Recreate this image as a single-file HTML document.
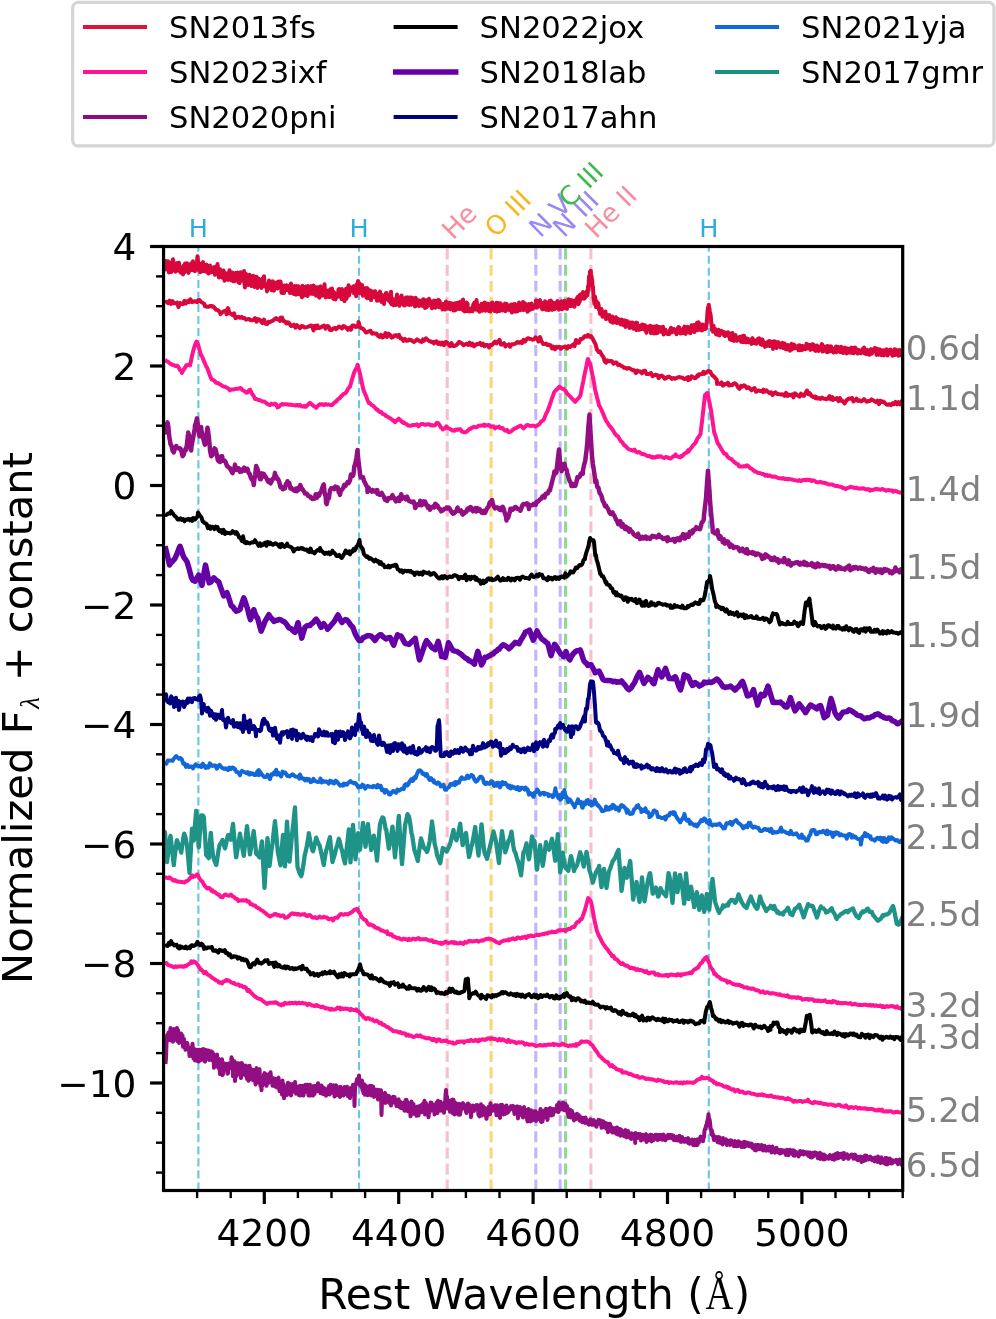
<!DOCTYPE html>
<html lang="en"><head><meta charset="utf-8"><title>Early-time SN spectra</title>
<style>html,body{margin:0;padding:0;background:#fff}svg{display:block}text{font-family:"DejaVu Sans","Liberation Sans",sans-serif;fill:#000}.tk{font-size:37.5px}.lb{font-size:42.2px}.lg{font-size:30.6px}.ep{font-size:34px;fill:#808080}.an{font-size:26.4px}.anh{font-size:25.5px}.sp{stroke:#000;stroke-width:3.2;fill:none}.c{fill:none;stroke-linejoin:round;stroke-linecap:butt}</style></head><body>
<svg width="996" height="1319" viewBox="0 0 996 1319">
<rect width="996" height="1319" fill="#fff"/>
<g fill="none">
<line x1="198.4" y1="1190.5" x2="198.4" y2="246.5" stroke="#69C6E7" stroke-width="2.15" stroke-dasharray="8.1 3.935"/>
<line x1="359.0" y1="1190.5" x2="359.0" y2="246.5" stroke="#69C6E7" stroke-width="2.15" stroke-dasharray="8.1 3.935"/>
<line x1="708.8" y1="1190.5" x2="708.8" y2="246.5" stroke="#69C6E7" stroke-width="2.15" stroke-dasharray="8.1 3.935"/>
<line x1="447.2" y1="1190.5" x2="447.2" y2="246.5" stroke="#F9BFCB" stroke-width="3.1" stroke-dasharray="11.0 5.05"/>
<line x1="491.1" y1="1190.5" x2="491.1" y2="246.5" stroke="#F9D67C" stroke-width="3.1" stroke-dasharray="11.0 5.05"/>
<line x1="535.8" y1="1190.5" x2="535.8" y2="246.5" stroke="#C4B5F8" stroke-width="3.1" stroke-dasharray="11.0 5.05"/>
<line x1="560.2" y1="1190.5" x2="560.2" y2="246.5" stroke="#C4B5F8" stroke-width="3.1" stroke-dasharray="11.0 5.05"/>
<line x1="565.6" y1="1190.5" x2="565.6" y2="246.5" stroke="#8DD896" stroke-width="3.1" stroke-dasharray="11.0 5.05"/>
<line x1="590.9" y1="1190.5" x2="590.9" y2="246.5" stroke="#F9BFCB" stroke-width="3.1" stroke-dasharray="11.0 5.05"/>
</g>
<defs><clipPath id="cp"><rect x="163.55" y="246.5" width="739.1500000000001" height="944.0"/></clipPath></defs>
<g clip-path="url(#cp)">
<path class="c" d="M165.0,262.9 165.5,261.0 166.0,266.2 166.5,269.6 167.0,266.0 167.5,266.8 168.0,261.2 168.5,266.9 169.0,272.5 169.5,271.4 170.0,271.3 170.5,262.6 171.0,272.1 171.5,271.7 172.0,263.4 172.5,269.1 173.0,259.2 173.5,263.0 174.0,265.4 174.5,263.6 175.0,270.9 175.5,271.6 176.0,266.0 176.5,265.7 177.0,263.3 177.5,263.0 178.0,270.6 178.5,269.8 179.0,262.8 179.5,268.0 180.0,267.1 180.5,272.5 181.0,271.0 181.5,269.6 182.0,269.1 182.5,273.9 183.0,274.4 183.5,265.8 184.0,265.5 184.5,272.3 185.0,263.5 185.5,267.0 186.0,263.4 186.5,266.3 187.0,263.2 187.5,265.7 188.0,271.6 188.5,272.9 189.0,271.5 189.5,268.6 190.0,269.1 190.5,266.0 191.0,263.6 191.5,266.7 192.0,270.1 192.5,262.0 193.0,261.4 193.5,270.3 193.8,263.5 194.0,269.2 194.5,269.1 195.0,271.1 195.5,264.2 196.0,263.3 196.5,265.2 197.0,261.2 197.5,256.3 198.0,261.7 198.5,263.2 199.0,270.5 199.5,263.6 200.0,270.3 200.5,272.1 201.0,265.2 201.2,268.8 201.5,265.9 202.0,267.2 202.5,262.7 203.0,262.1 203.5,271.1 204.0,267.5 204.5,269.6 205.0,271.1 205.5,267.4 206.0,266.9 206.5,264.6 207.0,272.2 207.5,272.7 208.0,271.7 208.5,273.5 209.0,271.6 209.5,271.5 210.0,265.6 210.5,272.6 211.0,267.5 211.5,268.9 212.0,267.6 212.5,270.8 213.0,272.0 213.5,271.1 214.0,267.2 214.5,267.1 215.0,274.8 215.5,268.4 216.0,270.2 216.5,266.2 217.0,268.8 217.5,264.1 218.0,269.6 218.5,274.1 219.0,277.5 219.5,273.4 220.0,269.3 220.5,274.1 221.0,273.9 221.5,276.4 222.0,273.0 222.5,277.7 223.0,271.9 223.5,270.5 224.0,273.4 224.5,280.7 225.0,276.1 225.5,273.5 226.0,273.7 226.5,275.7 227.0,273.4 227.5,274.8 228.0,279.9 228.5,279.6 229.0,278.7 229.5,270.2 230.0,275.5 230.5,273.4 231.0,280.1 231.5,273.0 232.0,280.6 232.5,272.4 233.0,274.7 233.5,281.3 234.0,277.1 234.5,281.3 235.0,276.7 235.5,273.1 236.0,279.1 236.5,276.9 237.0,276.9 237.5,272.6 238.0,272.8 238.5,282.4 239.0,282.8 239.5,283.1 240.0,275.9 240.5,272.3 241.0,278.5 241.5,280.8 242.0,279.9 242.5,272.9 243.0,275.2 243.5,281.0 244.0,270.9 244.5,283.0 245.0,287.5 245.5,274.7 246.0,273.9 246.5,285.1 247.0,282.7 247.5,279.1 248.0,279.5 248.5,284.9 249.0,278.3 249.5,274.8 250.0,281.7 250.5,278.2 251.0,282.7 251.5,286.1 252.0,279.2 252.5,277.9 253.0,275.7 253.5,285.2 254.0,276.3 254.5,286.9 255.0,284.1 255.5,286.7 256.0,285.7 256.5,276.7 257.0,278.3 257.5,287.9 258.0,280.0 258.5,286.1 259.0,278.8 259.5,280.5 260.0,285.1 260.5,280.1 261.0,286.2 261.5,287.9 262.0,281.2 262.5,281.1 263.0,277.9 263.5,282.8 264.0,276.2 264.5,284.8 265.0,286.3 265.5,284.9 266.0,285.4 266.5,285.5 267.0,291.4 267.5,284.9 268.0,288.9 268.5,282.9 269.0,280.5 269.5,281.6 270.0,288.5 270.5,281.9 271.0,288.5 271.5,290.1 272.0,285.9 272.5,281.2 273.0,287.1 273.5,284.3 274.0,290.7 274.5,282.6 275.0,282.8 275.5,285.9 276.0,286.1 276.5,282.6 277.0,284.9 277.5,288.5 278.0,286.2 278.5,281.4 279.0,285.8 279.5,285.9 280.0,286.4 280.5,281.4 281.0,284.5 281.5,292.7 282.0,292.0 282.5,292.8 283.0,290.7 283.5,286.9 284.0,293.1 284.5,285.5 285.0,289.6 285.5,289.2 286.0,287.5 286.5,285.3 287.0,286.4 287.5,290.3 288.0,286.1 288.5,286.9 289.0,287.1 289.5,286.9 290.0,293.0 290.5,289.7 291.0,283.5 291.5,292.3 292.0,289.6 292.5,293.0 293.0,289.7 293.5,286.6 294.0,294.0 294.5,286.1 295.0,287.5 295.5,290.1 296.0,294.7 296.5,285.9 297.0,288.7 297.5,291.1 298.0,293.0 298.5,286.2 299.0,294.1 299.5,291.8 300.0,291.5 300.5,289.8 301.0,289.1 301.5,296.0 302.0,297.3 302.5,285.7 303.0,288.0 303.5,293.4 304.0,294.6 304.5,295.4 305.0,288.1 305.5,288.1 306.0,286.5 306.5,290.1 307.0,292.4 307.5,296.1 308.0,286.1 308.5,286.8 309.0,293.6 309.5,293.8 310.0,287.3 310.5,287.0 311.0,286.2 311.5,293.7 312.0,289.3 312.5,288.8 313.0,293.9 313.5,285.4 314.0,292.5 314.5,287.1 315.0,286.9 315.5,294.1 316.0,295.6 316.5,291.7 317.0,291.0 317.5,294.6 318.0,287.2 318.5,289.6 319.0,297.2 319.5,297.7 320.0,286.8 320.5,286.4 321.0,295.6 321.5,291.9 322.0,295.6 322.5,294.2 323.0,291.9 323.5,295.1 324.0,293.9 324.5,284.3 325.0,292.3 325.5,297.4 326.0,296.2 326.5,294.8 327.0,294.4 327.5,296.8 328.0,290.5 328.5,291.8 329.0,294.7 329.5,297.1 330.0,291.1 330.5,289.3 331.0,289.4 331.5,292.3 332.0,288.6 332.5,295.0 333.0,298.3 333.5,291.7 334.0,299.1 334.5,292.7 335.0,294.2 335.5,299.5 336.0,296.4 336.5,294.0 337.0,297.0 337.5,293.7 338.0,296.7 338.5,289.3 339.0,289.1 339.5,295.9 340.0,294.5 340.5,293.7 341.0,289.4 341.5,299.1 342.0,289.1 342.5,299.2 343.0,291.3 343.5,290.8 344.0,298.5 344.5,301.1 345.0,295.4 345.5,298.3 346.0,288.8 346.5,298.8 347.0,293.9 347.5,289.9 348.0,293.9 348.5,285.3 349.0,295.5 349.5,293.6 350.0,287.0 350.5,288.2 351.0,288.9 351.5,290.9 352.0,287.8 352.5,288.4 353.0,291.3 353.5,286.3 354.0,293.3 354.5,289.5 355.0,288.8 355.5,290.7 356.0,285.5 356.2,296.3 356.5,284.5 357.0,288.9 357.5,293.1 358.0,281.0 358.5,285.5 358.8,290.3 359.0,288.9 359.5,283.2 360.0,288.5 360.2,293.3 360.5,289.9 361.0,293.5 361.5,293.2 362.0,284.9 362.5,288.9 363.0,295.8 363.5,291.0 364.0,290.9 364.5,289.6 365.0,288.2 365.5,294.6 366.0,291.6 366.5,297.7 367.0,288.0 367.5,298.2 368.0,289.0 368.5,297.9 369.0,293.7 369.5,297.2 370.0,293.9 370.5,290.5 371.0,300.1 371.5,296.6 372.0,291.6 372.5,296.3 373.0,291.8 373.5,294.3 374.0,296.7 374.5,297.1 375.0,291.2 375.5,292.3 376.0,295.7 376.5,296.5 377.0,300.8 377.5,297.5 378.0,300.5 378.5,295.3 379.0,293.3 379.5,293.3 380.0,291.6 380.5,295.8 381.0,299.2 381.5,301.9 382.0,294.7 382.5,300.5 383.0,301.2 383.5,300.6 384.0,304.0 384.5,299.6 385.0,298.1 385.5,299.3 386.0,292.9 386.5,293.0 387.0,298.9 387.5,297.6 388.0,294.7 388.5,297.4 389.0,300.9 389.5,299.6 390.0,298.1 390.5,302.7 391.0,291.7 391.5,304.2 392.0,301.8 392.5,298.7 393.0,303.1 393.5,305.1 394.0,301.7 394.5,302.0 395.0,302.4 395.5,305.1 396.0,304.8 396.5,297.5 397.0,294.5 397.5,297.6 398.0,298.7 398.5,297.4 399.0,299.8 399.5,305.8 400.0,297.6 400.5,299.5 401.0,304.0 401.5,295.6 402.0,299.4 402.5,301.4 403.0,303.6 403.5,304.6 404.0,298.7 404.5,305.6 405.0,300.6 405.5,297.7 406.0,298.0 406.5,300.8 407.0,304.6 407.5,297.3 408.0,298.9 408.5,304.6 409.0,304.9 409.5,298.9 410.0,297.5 410.5,303.4 411.0,304.8 411.5,297.5 412.0,302.2 412.5,298.5 413.0,303.1 413.5,298.3 414.0,298.5 414.5,302.6 415.0,306.6 415.5,297.7 416.0,298.4 416.5,299.4 417.0,305.5 417.5,299.9 418.0,300.2 418.5,301.8 419.0,306.0 419.5,300.4 420.0,302.4 420.5,302.4 421.0,302.7 421.5,302.2 422.0,305.8 422.5,299.9 423.0,302.9 423.5,299.3 424.0,306.6 424.5,301.9 425.0,307.9 425.5,304.7 426.0,300.2 426.5,307.3 427.0,300.3 427.5,304.6 428.0,305.9 428.5,299.4 429.0,298.9 429.5,302.7 430.0,302.0 430.5,301.7 431.0,301.3 431.5,302.2 432.0,308.3 432.5,303.2 433.0,303.3 433.5,301.3 434.0,300.7 434.5,301.4 435.0,307.6 435.5,307.7 436.0,300.7 436.5,303.0 437.0,304.8 437.5,304.6 438.0,301.2 438.5,299.9 439.0,307.2 439.5,300.7 440.0,303.3 440.5,307.0 441.0,306.3 441.5,303.6 442.0,307.5 442.5,309.4 443.0,304.5 443.5,308.5 444.0,305.0 444.5,303.7 445.0,309.6 445.5,308.8 446.0,301.4 446.5,305.4 447.0,303.9 447.5,305.1 448.0,308.8 448.5,303.6 449.0,306.2 449.5,302.7 450.0,304.8 450.5,309.2 451.0,307.8 451.5,304.2 452.0,303.4 452.5,306.6 453.0,305.4 453.5,310.5 454.0,303.8 454.5,309.9 455.0,303.2 455.5,310.2 456.0,309.5 456.5,303.0 457.0,305.5 457.5,308.2 458.0,305.3 458.5,302.4 459.0,308.9 459.5,306.1 460.0,303.2 460.5,301.9 461.0,306.5 461.5,303.4 462.0,309.4 462.5,303.0 463.0,299.5 463.5,310.4 464.0,305.6 464.5,311.4 465.0,307.1 465.5,310.2 466.0,310.8 466.5,302.4 467.0,304.3 467.5,303.4 468.0,311.0 468.5,308.4 469.0,310.7 469.5,311.3 470.0,309.4 470.5,310.3 471.0,310.9 471.5,308.2 472.0,309.8 472.5,311.3 473.0,306.4 473.5,303.9 474.0,308.3 474.5,302.4 475.0,304.9 475.5,305.5 476.0,309.7 476.5,300.0 477.0,305.0 477.5,304.9 478.0,308.4 478.5,310.5 479.0,306.6 479.5,311.8 480.0,306.1 480.5,306.9 481.0,305.2 481.5,303.9 482.0,310.8 482.5,308.0 483.0,303.7 483.5,307.4 484.0,306.1 484.5,302.5 485.0,309.8 485.5,310.7 486.0,308.1 486.5,303.6 487.0,306.3 487.5,304.2 488.0,303.9 488.5,305.2 489.0,311.1 489.5,310.6 490.0,310.1 490.5,311.5 491.0,303.4 491.5,304.5 492.0,302.8 492.5,302.5 493.0,308.7 493.5,306.5 494.0,308.0 494.5,311.0 495.0,305.3 495.5,305.0 496.0,310.6 496.5,302.8 497.0,311.7 497.5,306.0 498.0,303.0 498.5,304.8 499.0,303.5 499.5,311.0 500.0,303.3 500.5,303.3 501.0,308.8 501.5,304.9 502.0,306.1 502.5,310.5 503.0,307.0 503.5,310.0 504.0,305.7 504.5,304.2 505.0,303.6 505.5,311.2 506.0,304.2 506.5,303.8 507.0,304.6 507.5,308.2 508.0,309.8 508.5,307.9 509.0,309.2 509.5,307.9 510.0,310.3 510.5,308.9 511.0,304.6 511.5,306.1 512.0,312.5 512.5,307.1 513.0,310.1 513.5,304.3 514.0,309.2 514.5,310.3 515.0,304.1 515.5,311.7 516.0,306.3 516.5,305.1 517.0,308.9 517.5,311.3 518.0,310.4 518.5,307.7 519.0,302.6 519.5,306.8 520.0,308.1 520.5,310.1 521.0,303.9 521.5,306.4 522.0,308.0 522.5,308.4 523.0,302.0 523.5,310.1 524.0,302.5 524.5,309.7 525.0,309.7 525.5,307.6 526.0,306.3 526.5,304.4 527.0,304.7 527.5,311.7 528.0,307.1 528.5,305.1 529.0,304.0 529.5,310.2 530.0,309.5 530.5,309.3 531.0,309.2 531.5,303.5 532.0,308.1 532.5,306.6 533.0,308.7 533.5,306.9 534.0,307.8 534.5,307.5 535.0,305.7 535.5,306.5 536.0,300.5 536.5,303.5 537.0,307.7 537.5,300.7 538.0,303.1 538.5,306.0 539.0,304.3 539.5,300.7 540.0,300.2 540.5,306.6 541.0,305.4 541.5,305.9 542.0,309.0 542.5,309.3 543.0,303.1 543.5,308.9 544.0,305.4 544.5,307.2 545.0,301.3 545.5,304.3 546.0,309.7 546.5,309.6 547.0,304.5 547.5,302.9 548.0,309.9 548.5,305.5 549.0,309.9 549.5,300.9 550.0,306.4 550.5,303.4 551.0,300.6 551.5,305.4 552.0,309.9 552.5,305.1 553.0,302.7 553.5,307.5 554.0,309.2 554.5,309.2 555.0,303.1 555.5,308.2 556.0,308.2 556.5,305.1 557.0,308.0 557.5,301.0 558.0,302.6 558.5,304.4 559.0,309.7 559.5,307.4 560.0,307.2 560.5,308.7 561.0,307.7 561.5,301.2 562.0,309.3 562.5,308.1 563.0,302.7 563.5,306.4 564.0,305.0 564.5,300.7 565.0,308.2 565.5,303.5 566.0,306.2 566.5,307.9 567.0,308.8 567.5,304.7 568.0,303.8 568.5,299.3 569.0,300.2 569.5,306.1 570.0,300.6 570.5,303.8 571.0,300.1 571.5,306.1 572.0,300.3 572.5,305.6 573.0,302.3 573.5,305.1 574.0,301.1 574.5,306.7 575.0,301.9 575.5,300.6 576.0,300.4 576.5,299.0 577.0,302.3 577.5,297.1 578.0,296.6 578.5,304.2 579.0,296.5 579.5,302.1 580.0,294.7 580.5,299.8 581.0,294.3 581.5,296.4 582.0,295.9 582.5,298.3 583.0,292.0 583.5,294.4 584.0,298.8 584.5,298.2 585.0,298.0 585.5,295.3 586.0,296.5 586.5,292.8 587.0,291.0 587.5,295.3 587.8,291.0 588.0,286.3 588.5,290.2 589.0,276.4 589.5,280.1 590.0,271.4 590.5,274.6 590.8,270.7 591.0,275.6 591.5,275.8 592.0,281.6 592.2,280.0 592.5,286.5 593.0,286.7 593.5,297.6 594.0,300.2 594.5,304.0 595.0,296.5 595.5,300.8 596.0,307.2 596.5,301.1 597.0,305.9 597.5,305.8 598.0,302.9 598.5,304.4 599.0,309.9 599.5,309.2 600.0,313.9 600.5,309.8 601.0,308.9 601.5,309.0 602.0,311.7 602.5,316.7 603.0,316.4 603.5,313.9 604.0,314.2 604.5,315.4 605.0,316.7 605.5,311.6 606.0,319.1 606.5,319.0 607.0,316.0 607.5,314.9 608.0,317.6 608.5,317.6 609.0,316.5 609.5,315.2 610.0,320.1 610.5,321.6 611.0,319.8 611.5,317.1 612.0,318.5 612.5,316.6 613.0,322.8 613.5,317.4 614.0,317.9 614.5,320.9 615.0,321.8 615.5,319.7 616.0,317.3 616.5,319.7 617.0,323.1 617.5,319.0 618.0,320.1 618.5,319.2 619.0,319.7 619.5,320.0 620.0,321.3 620.5,324.3 621.0,324.4 621.5,319.4 622.0,320.0 622.5,321.0 623.0,323.8 623.5,325.2 624.0,324.5 624.5,320.4 625.0,320.6 625.5,326.9 626.0,323.8 626.5,325.3 627.0,321.0 627.5,324.4 628.0,321.9 628.5,323.6 629.0,323.3 629.5,328.1 630.0,322.4 630.5,326.1 631.0,322.7 631.5,325.2 632.0,327.4 632.5,322.5 633.0,323.8 633.5,328.7 634.0,327.6 634.5,328.2 635.0,326.1 635.5,324.4 636.0,322.7 636.5,330.0 637.0,322.8 637.5,329.5 638.0,329.6 638.5,329.9 639.0,328.7 639.5,327.9 640.0,325.9 640.5,329.6 641.0,327.7 641.5,327.3 642.0,324.5 642.5,324.5 643.0,329.1 643.5,325.0 644.0,329.6 644.5,327.6 645.0,325.3 645.5,328.9 646.0,330.9 646.5,332.7 647.0,326.8 647.5,328.0 648.0,328.8 648.5,328.9 649.0,326.9 649.5,327.7 650.0,325.8 650.5,329.8 651.0,333.2 651.5,326.3 652.0,331.1 652.5,329.6 653.0,328.1 653.5,328.2 654.0,333.5 654.5,326.5 655.0,330.7 655.5,330.0 656.0,333.3 656.5,327.5 657.0,326.1 657.5,333.0 658.0,328.6 658.5,329.0 659.0,327.0 659.5,327.9 660.0,328.0 660.5,331.7 661.0,327.3 661.5,327.8 662.0,329.2 662.5,329.6 663.0,326.8 663.5,334.4 664.0,333.2 664.5,332.8 665.0,332.2 665.5,329.8 666.0,332.0 666.5,333.4 667.0,332.5 667.5,333.9 668.0,333.1 668.5,332.7 669.0,334.2 669.5,333.3 670.0,329.7 670.5,331.1 671.0,327.8 671.5,330.5 672.0,332.3 672.5,328.9 673.0,331.9 673.5,329.9 674.0,329.0 674.5,330.0 675.0,331.8 675.5,330.8 676.0,330.6 676.5,334.2 677.0,332.1 677.5,331.6 678.0,327.8 678.5,327.0 679.0,329.7 679.5,327.7 680.0,332.4 680.5,333.5 681.0,333.3 681.5,330.1 682.0,333.2 682.5,333.0 683.0,330.6 683.5,331.2 684.0,327.8 684.5,326.5 685.0,333.6 685.5,333.9 686.0,330.2 686.5,330.8 687.0,332.4 687.5,326.8 688.0,331.8 688.5,332.3 689.0,327.7 689.5,330.2 690.0,332.0 690.5,333.1 691.0,328.7 691.5,325.3 692.0,331.0 692.5,330.0 693.0,328.9 693.5,328.0 694.0,325.0 694.5,332.1 695.0,327.7 695.5,324.9 696.0,325.2 696.5,329.0 697.0,322.8 697.5,330.2 698.0,329.9 698.5,322.2 699.0,329.0 699.5,326.2 700.0,326.2 700.5,329.9 701.0,324.5 701.5,326.8 702.0,330.5 702.5,324.5 703.0,328.0 703.5,325.6 704.0,325.3 704.5,326.0 705.0,329.2 705.5,326.2 706.0,328.5 706.5,324.6 707.0,319.3 707.5,311.6 708.0,307.3 708.5,309.1 708.8,304.7 709.0,307.3 709.5,308.7 710.0,314.7 710.2,312.9 710.5,314.3 711.0,318.5 711.5,325.2 711.8,327.7 712.0,330.1 712.5,328.1 713.0,331.7 713.5,325.8 714.0,330.0 714.5,329.2 715.0,328.8 715.5,330.4 716.0,334.3 716.5,330.6 717.0,334.7 717.5,332.3 718.0,331.8 718.5,329.8 719.0,330.0 719.5,335.5 720.0,330.7 720.5,331.9 721.0,332.6 721.5,330.7 722.0,331.8 722.5,332.1 723.0,333.7 723.5,331.9 724.0,335.2 724.5,334.4 725.0,336.1 725.5,333.0 726.0,332.6 726.5,335.0 727.0,334.5 727.5,334.5 728.0,332.3 728.5,336.0 729.0,335.3 729.5,335.5 730.0,339.4 730.5,333.6 731.0,334.7 731.5,340.1 732.0,336.1 732.5,333.0 733.0,335.7 733.5,334.7 734.0,340.9 734.5,336.4 735.0,335.5 735.5,335.2 736.0,340.1 736.5,338.4 737.0,340.8 737.5,337.4 738.0,337.7 738.5,338.5 739.0,339.7 739.5,338.6 740.0,336.9 740.5,339.0 741.0,341.7 741.5,339.2 742.0,338.4 742.5,336.0 743.0,342.3 743.5,335.8 744.0,335.8 744.5,337.6 745.0,342.2 745.5,338.3 746.0,342.3 746.5,342.0 747.0,338.6 747.5,340.1 748.0,338.9 748.5,342.3 749.0,341.8 749.5,341.2 750.0,340.8 750.5,341.0 751.0,341.6 751.5,343.9 752.0,338.9 752.5,338.1 753.0,339.4 753.5,342.5 754.0,343.1 754.5,340.1 755.0,341.2 755.5,342.9 756.0,342.8 756.5,343.7 757.0,341.3 757.5,342.3 758.0,338.7 758.5,341.6 759.0,338.2 759.5,341.2 760.0,339.0 760.5,344.3 761.0,344.1 761.5,342.6 762.0,344.9 762.5,339.6 763.0,343.6 763.5,341.8 764.0,343.9 764.5,344.4 765.0,346.9 765.5,345.8 766.0,343.1 766.5,345.8 767.0,342.3 767.5,344.7 768.0,343.5 768.5,345.8 769.0,341.1 769.5,345.3 770.0,346.0 770.5,345.3 771.0,341.6 771.5,344.9 772.0,346.3 772.5,341.9 773.0,348.9 773.5,343.1 774.0,341.2 774.5,345.5 775.0,341.4 775.5,345.4 776.0,344.4 776.5,348.0 777.0,343.0 777.5,345.0 778.0,342.0 778.5,344.9 779.0,346.4 779.5,343.3 780.0,344.6 780.5,347.4 781.0,345.3 781.5,344.2 782.0,343.7 782.5,342.9 783.0,348.1 783.5,346.0 784.0,344.9 784.5,343.5 785.0,347.8 785.5,348.9 786.0,345.2 786.5,345.9 787.0,349.6 787.5,345.0 788.0,345.7 788.5,345.9 789.0,347.2 789.5,345.5 790.0,350.8 790.5,348.5 791.0,344.5 791.5,343.8 792.0,349.4 792.5,348.4 793.0,345.8 793.5,347.9 794.0,344.6 794.5,345.8 795.0,348.3 795.5,347.2 796.0,347.7 796.5,347.3 797.0,346.4 797.5,346.8 798.0,348.3 798.5,350.3 799.0,345.2 799.5,350.1 800.0,345.8 800.5,347.3 801.0,345.8 801.5,350.3 802.0,348.5 802.5,346.0 803.0,349.5 803.5,347.9 804.0,347.6 804.5,346.7 805.0,346.9 805.5,349.2 806.0,345.4 806.5,343.9 807.0,348.5 807.5,346.3 808.0,345.7 808.5,345.5 809.0,344.8 809.5,347.0 810.0,348.8 810.5,349.8 811.0,346.5 811.5,344.8 812.0,345.9 812.5,344.2 813.0,347.2 813.5,344.8 814.0,349.7 814.5,348.5 815.0,349.9 815.5,350.9 816.0,350.8 816.5,346.8 817.0,345.6 817.5,347.4 818.0,350.8 818.5,350.9 819.0,349.2 819.5,347.4 820.0,349.0 820.5,346.8 821.0,345.9 821.5,345.3 822.0,344.0 822.5,351.5 823.0,349.2 823.5,348.0 824.0,350.9 824.5,349.4 825.0,346.4 825.5,350.9 826.0,348.5 826.5,349.8 827.0,352.2 827.5,346.0 828.0,352.1 828.5,347.0 829.0,346.5 829.5,347.5 830.0,351.3 830.5,348.0 831.0,346.3 831.5,351.1 832.0,350.3 832.5,351.1 833.0,351.2 833.5,352.5 834.0,348.4 834.5,351.9 835.0,349.3 835.5,349.5 836.0,346.5 836.5,352.3 837.0,350.6 837.5,349.0 838.0,346.8 838.5,347.4 839.0,348.4 839.5,350.8 840.0,351.9 840.5,349.0 841.0,348.5 841.5,346.9 842.0,352.4 842.5,348.0 843.0,353.1 843.5,351.4 844.0,349.0 844.5,348.2 845.0,347.6 845.5,348.1 846.0,352.0 846.5,353.4 847.0,351.2 847.5,348.5 848.0,352.2 848.5,351.4 849.0,352.6 849.5,350.5 850.0,352.4 850.5,348.2 851.0,348.3 851.5,347.6 852.0,353.0 852.5,350.5 853.0,348.0 853.5,353.3 854.0,350.5 854.5,348.3 855.0,347.6 855.5,347.8 856.0,351.1 856.5,349.4 857.0,353.0 857.5,353.4 858.0,351.1 858.5,349.8 859.0,352.5 859.5,353.0 860.0,350.7 860.5,352.1 861.0,353.1 861.5,350.2 862.0,351.4 862.5,349.1 863.0,350.7 863.5,349.6 864.0,347.5 864.5,353.3 865.0,352.1 865.5,352.2 866.0,354.0 866.5,353.5 867.0,350.8 867.5,349.9 868.0,351.6 868.5,354.0 869.0,354.6 869.5,354.7 870.0,351.0 870.5,352.1 871.0,349.1 871.5,351.3 872.0,353.6 872.5,349.5 873.0,349.3 873.5,350.7 874.0,349.7 874.5,349.7 875.0,347.9 875.5,351.2 876.0,349.7 876.5,354.9 877.0,348.8 877.5,348.9 878.0,350.5 878.5,354.7 879.0,354.6 879.5,350.7 880.0,349.3 880.5,354.0 881.0,350.8 881.5,355.2 882.0,351.8 882.5,352.2 883.0,350.3 883.5,354.6 884.0,355.3 884.5,354.7 885.0,354.3 885.5,351.8 886.0,349.6 886.5,349.3 887.0,352.8 887.5,355.5 888.0,350.3 888.5,351.7 889.0,352.0 889.5,353.6 890.0,349.6 890.5,349.5 891.0,350.3 891.5,352.8 892.0,352.0 892.5,355.7 893.0,352.7 893.5,355.1 894.0,350.4 894.5,349.2 895.0,354.9 895.5,352.2 896.0,349.8 896.5,353.0 897.0,353.0 897.5,350.9 898.0,355.1 898.5,355.7 899.0,352.2 899.5,349.9 900.0,351.1 900.5,355.2 901.0,351.6 901.5,353.1 901.8,350.2 902.0,353.1 902.5,355.8 903.0,355.2 903.5,351.8 904.0,350.8 904.2,353.0" stroke="#D8083C" stroke-width="4"/>
<path class="c" d="M165.0,303.1 166.5,301.8 168.0,303.1 169.5,300.7 171.0,303.9 172.5,301.2 174.0,303.3 175.5,303.2 177.0,302.5 178.5,307.2 180.0,303.0 181.5,303.9 183.0,304.1 184.5,300.8 186.0,303.5 187.5,301.2 189.0,302.1 190.0,299.4 190.5,299.3 192.0,302.2 193.5,301.5 195.0,301.2 196.5,302.0 197.5,301.9 198.0,300.2 199.5,300.0 201.0,301.8 202.5,302.8 204.0,303.5 205.0,306.2 205.5,306.3 207.0,306.7 208.5,306.8 210.0,305.9 211.2,305.9 211.5,306.5 213.0,306.3 214.5,307.7 216.0,309.7 217.5,309.9 219.0,311.1 220.0,312.4 220.5,314.1 222.0,312.5 223.5,311.4 225.0,310.8 226.2,311.1 226.5,314.2 228.0,308.1 229.5,313.4 231.0,313.7 232.5,315.2 234.0,313.3 235.5,318.1 237.0,317.4 238.5,316.8 240.0,317.7 241.5,316.9 243.0,318.1 244.5,318.1 246.0,319.7 247.5,319.2 249.0,318.9 250.5,320.1 252.0,320.2 253.5,320.0 255.0,318.1 256.5,321.6 258.0,319.1 259.5,319.6 261.0,321.1 261.2,321.9 262.5,323.2 264.0,319.5 265.5,323.7 267.0,324.1 268.5,321.7 270.0,322.2 271.5,321.2 273.0,320.6 274.5,319.1 276.0,318.1 277.5,319.4 279.0,319.4 280.0,321.0 280.5,317.8 282.0,317.5 283.5,321.3 285.0,321.5 286.5,323.5 287.5,323.3 288.0,322.3 289.5,323.6 291.0,325.9 292.5,325.8 294.0,324.7 295.5,327.6 297.0,325.2 298.5,326.8 300.0,328.2 301.5,326.1 303.0,326.2 304.5,327.6 306.0,327.3 307.5,326.9 309.0,326.4 310.5,325.6 312.0,325.8 313.5,330.5 315.0,325.7 316.5,328.2 317.5,325.5 318.0,328.0 319.5,328.1 321.0,327.3 322.5,326.2 324.0,325.5 325.5,328.6 327.0,326.0 328.5,326.2 330.0,329.9 331.5,330.1 333.0,328.5 334.5,328.4 335.0,327.9 336.0,329.1 337.5,327.9 339.0,326.5 340.5,327.3 342.0,328.5 343.5,326.1 345.0,326.7 346.5,327.9 348.0,329.8 349.5,327.8 350.0,327.5 351.0,329.6 352.5,325.4 354.0,325.4 355.5,326.9 357.0,326.7 358.2,325.6 358.5,321.9 360.0,327.2 361.5,328.3 363.0,328.7 364.5,330.6 366.0,332.6 367.5,332.1 369.0,331.3 370.5,330.7 372.0,333.6 373.5,333.1 375.0,333.8 376.5,333.6 378.0,335.9 379.5,337.0 380.0,336.8 381.0,334.8 382.5,337.4 384.0,336.6 385.5,333.1 387.0,337.0 388.5,333.7 390.0,334.8 391.5,337.6 393.0,337.1 394.5,335.4 396.0,335.1 397.5,336.7 399.0,334.9 400.5,338.6 402.0,338.6 403.5,340.8 403.8,339.8 405.0,338.9 406.5,340.9 408.0,340.6 409.0,339.5 409.5,339.8 411.0,339.9 412.5,341.1 414.0,342.0 415.5,340.9 417.0,339.3 418.5,340.3 420.0,341.4 421.5,342.0 423.0,339.4 424.0,340.9 424.5,340.1 426.0,338.3 427.5,339.8 429.0,341.0 430.5,341.5 432.0,342.0 433.5,342.1 434.0,343.5 435.0,341.9 436.5,341.2 438.0,343.9 439.5,342.6 441.0,344.4 442.5,342.5 444.0,345.2 445.5,342.1 447.0,342.3 448.5,344.7 450.0,346.2 451.5,343.1 453.0,346.1 454.5,346.1 456.0,345.3 457.5,344.1 459.0,341.8 460.5,342.6 462.0,343.5 463.5,345.2 465.0,344.4 466.5,343.8 468.0,344.8 469.5,342.6 471.0,345.2 472.5,343.6 474.0,346.4 475.5,345.0 477.0,343.9 478.5,344.2 480.0,342.9 481.5,345.2 483.0,343.7 484.0,344.9 484.5,346.3 486.0,345.1 487.5,345.0 489.0,347.5 490.5,344.8 492.0,345.1 493.5,343.2 495.0,341.7 496.5,343.3 498.0,341.8 499.5,339.8 501.0,344.6 502.5,344.6 504.0,343.2 505.5,346.4 507.0,345.0 508.5,344.8 509.0,344.3 510.0,346.8 511.5,344.5 513.0,344.2 514.5,343.9 516.0,343.3 517.5,341.9 519.0,342.8 520.5,341.9 522.0,343.1 523.5,339.9 525.0,341.6 526.5,339.3 528.0,338.2 529.0,338.5 529.5,338.8 531.0,339.0 532.5,339.7 534.0,339.4 535.5,337.3 537.0,338.5 538.5,341.5 539.0,339.3 540.0,337.1 541.5,341.1 543.0,343.9 544.5,344.1 546.0,343.5 546.5,344.0 547.5,345.1 549.0,344.8 550.5,345.1 552.0,348.5 553.5,346.7 555.0,349.3 556.5,346.8 558.0,347.6 559.5,346.9 561.0,348.7 562.5,347.2 564.0,347.0 565.5,346.5 566.5,347.7 567.0,348.6 568.5,346.1 570.0,347.1 571.5,345.8 573.0,344.6 574.0,345.4 574.5,346.2 576.0,340.0 577.5,342.8 579.0,342.8 580.5,339.1 582.0,339.0 583.5,337.9 584.0,336.9 585.0,336.1 586.5,336.7 587.8,335.9 588.0,334.9 589.5,336.8 591.0,336.1 592.5,338.3 592.8,338.9 594.0,341.5 595.5,344.1 597.0,349.9 597.8,350.4 598.5,352.0 600.0,351.5 601.5,354.6 603.0,356.5 604.0,358.5 604.5,361.1 606.0,362.7 607.5,360.4 609.0,361.2 610.5,361.1 612.0,361.3 613.5,363.7 615.0,362.6 616.5,362.5 618.0,365.1 619.5,364.6 621.0,365.8 622.5,366.3 624.0,367.7 625.5,367.8 627.0,368.7 628.5,367.9 630.0,368.5 631.5,369.6 633.0,370.0 634.0,370.7 634.5,370.6 636.0,373.1 637.5,370.5 639.0,371.6 640.5,371.5 642.0,373.3 643.5,371.0 645.0,370.7 646.5,374.0 648.0,374.0 649.5,373.7 651.0,373.1 652.5,376.1 654.0,375.5 655.5,374.7 657.0,375.3 658.0,375.5 658.5,378.1 660.0,376.4 661.5,375.6 663.0,376.4 664.5,378.7 666.0,378.4 667.5,377.0 669.0,376.6 670.5,377.6 672.0,378.9 673.0,378.2 673.5,378.0 675.0,378.8 676.5,378.0 678.0,377.4 679.5,377.0 681.0,377.6 682.5,377.8 684.0,379.1 685.5,378.8 687.0,377.7 688.0,380.1 688.5,377.1 690.0,379.4 691.5,376.4 693.0,377.1 694.5,378.2 696.0,377.8 697.5,375.3 698.0,376.3 699.0,374.2 700.5,374.3 702.0,374.1 703.5,371.8 704.2,373.9 705.0,372.6 706.5,372.7 708.0,371.0 709.5,371.4 710.5,371.9 711.0,373.4 712.5,375.5 714.0,376.5 715.5,378.3 716.8,379.8 717.0,384.0 718.5,383.2 720.0,384.0 721.5,382.4 723.0,385.6 724.5,384.1 726.0,384.2 727.5,383.7 728.0,382.7 729.0,385.5 730.5,385.0 732.0,385.2 733.5,383.8 735.0,383.2 736.5,384.6 738.0,387.3 739.5,388.9 741.0,385.9 742.5,386.6 744.0,385.3 745.5,386.2 747.0,388.2 748.5,387.2 750.0,388.6 751.5,390.3 753.0,388.9 754.5,388.0 756.0,391.8 757.5,390.8 759.0,390.6 760.5,391.1 762.0,390.8 763.0,392.1 763.5,389.6 765.0,391.5 766.5,390.3 768.0,392.0 769.5,393.1 771.0,392.3 772.5,395.0 774.0,393.0 775.5,392.4 777.0,393.9 778.5,394.1 780.0,394.4 781.5,394.3 783.0,394.4 784.5,395.9 786.0,392.8 787.5,396.0 789.0,394.5 790.5,395.2 792.0,394.4 793.5,397.3 795.0,393.3 796.5,394.5 798.0,395.7 799.5,396.7 801.0,393.7 802.5,395.6 804.0,395.9 805.5,393.0 807.0,390.5 808.5,394.2 809.2,392.8 810.0,393.5 811.5,396.1 813.0,396.9 814.5,396.5 815.5,398.2 816.0,396.9 817.5,398.6 819.0,398.1 820.5,398.9 822.0,397.5 823.5,398.6 825.0,398.8 826.5,399.2 828.0,398.6 829.5,396.1 831.0,399.3 832.5,397.2 833.0,400.0 834.0,398.8 835.5,398.9 837.0,398.1 838.5,401.2 840.0,398.1 841.5,400.9 843.0,401.3 844.5,403.3 846.0,401.1 847.5,399.4 849.0,398.4 850.5,398.7 852.0,397.9 853.5,401.5 855.0,400.3 856.5,398.6 858.0,401.0 859.5,400.3 861.0,401.5 862.5,400.8 864.0,399.1 865.5,400.7 867.0,401.8 868.5,400.9 870.0,401.0 871.5,399.4 873.0,400.2 874.5,401.2 876.0,402.2 877.5,400.6 878.0,400.9 879.0,404.2 880.5,400.7 882.0,402.0 883.5,401.5 885.0,403.1 886.5,404.5 888.0,404.8 889.5,404.2 891.0,405.1 892.5,403.4 894.0,404.1 895.5,401.9 897.0,404.3 898.5,402.1 900.0,404.3 901.5,401.3 901.8,402.9 903.0,402.9 904.2,402.9" stroke="#D8083C" stroke-width="4"/>
<path class="c" d="M165.0,359.7 166.5,361.2 168.0,361.8 169.5,362.9 171.0,364.2 171.2,364.0 172.5,364.9 174.0,365.2 175.5,366.1 177.0,365.6 177.5,365.9 178.5,367.1 180.0,370.0 181.5,371.7 182.0,372.9 183.0,370.9 184.5,368.1 186.0,366.4 186.2,365.3 187.5,365.0 189.0,364.6 190.0,365.5 190.5,363.3 192.0,355.8 193.5,349.8 193.8,348.9 195.0,344.9 196.5,341.7 196.8,341.9 198.0,344.3 199.5,349.9 201.0,355.1 201.2,354.7 202.5,357.6 204.0,361.3 205.5,364.8 206.2,366.4 207.0,367.4 208.5,371.5 210.0,375.7 211.2,378.6 211.5,379.4 213.0,379.8 214.5,380.8 216.0,382.7 217.5,382.9 218.8,383.3 219.0,383.9 220.5,384.5 222.0,385.7 223.5,386.4 225.0,386.8 226.5,387.5 228.0,388.2 229.5,389.9 230.0,390.4 231.0,389.4 232.5,389.6 234.0,389.4 235.5,388.9 237.0,388.8 238.5,388.7 240.0,388.0 241.2,388.4 241.5,389.1 243.0,390.5 244.5,391.1 246.0,392.1 246.2,392.8 247.5,392.6 249.0,390.2 250.0,389.7 250.5,390.7 252.0,393.7 253.5,395.7 255.0,399.0 256.5,398.9 258.0,400.0 259.5,400.1 261.0,400.6 262.5,401.6 264.0,401.5 265.5,402.4 267.0,403.8 268.5,404.6 270.0,405.1 271.5,403.6 273.0,404.6 274.5,404.0 275.0,403.6 276.0,404.2 277.5,407.4 279.0,406.7 280.5,405.0 281.2,404.8 282.0,404.0 283.5,404.5 285.0,404.3 286.5,404.2 288.0,404.7 289.5,404.5 290.0,404.7 291.0,404.7 292.5,405.0 294.0,405.2 295.5,405.5 297.0,405.0 298.5,405.8 300.0,404.9 301.5,406.2 303.0,406.5 304.5,405.8 305.0,406.8 306.0,406.7 307.5,405.2 309.0,403.6 310.0,402.8 310.5,403.5 312.0,404.5 313.5,405.9 315.0,406.7 316.2,407.9 316.5,407.5 318.0,405.8 319.5,404.4 320.0,404.3 321.0,404.7 322.5,404.2 324.0,405.1 325.5,404.0 327.0,404.7 328.5,404.4 330.0,405.0 331.5,405.0 332.5,404.9 333.0,403.9 334.5,402.6 336.0,401.2 336.2,401.7 337.5,399.7 339.0,398.7 340.0,397.9 340.5,396.7 342.0,395.8 343.5,393.9 345.0,393.6 346.5,391.8 348.0,388.8 349.5,387.2 350.0,386.6 351.0,383.1 352.5,377.7 353.8,373.9 354.0,372.9 355.5,369.5 357.0,367.2 357.5,364.8 358.5,368.2 360.0,373.8 361.5,380.9 363.0,388.1 363.8,390.9 364.5,392.5 366.0,395.9 367.5,400.0 368.8,403.0 369.0,402.4 370.5,403.8 372.0,405.3 373.5,406.1 375.0,407.6 376.5,409.6 377.5,409.4 378.0,410.5 379.5,411.9 381.0,411.8 382.5,413.8 384.0,414.3 385.0,414.8 385.5,415.7 387.0,416.4 388.5,417.3 390.0,418.2 391.5,419.2 393.0,420.4 394.5,421.5 395.0,422.3 396.0,421.0 397.5,420.0 398.8,418.6 399.0,419.2 400.5,420.2 402.0,422.1 403.5,422.9 403.8,422.3 405.0,423.5 406.5,424.1 408.0,425.5 409.0,425.5 409.5,425.8 411.0,425.7 412.5,424.9 414.0,425.0 415.5,425.0 417.0,424.4 418.5,426.3 420.0,424.9 421.5,423.9 423.0,424.0 424.5,424.8 426.0,424.7 427.5,424.3 429.0,424.3 430.5,425.2 432.0,425.1 433.5,425.6 434.0,425.4 435.0,425.3 436.5,423.0 437.8,423.3 438.0,423.0 439.5,424.9 441.0,427.7 442.5,428.3 442.8,429.5 444.0,428.5 445.5,428.2 446.5,426.3 447.0,427.4 448.5,428.3 450.0,429.0 451.5,429.9 453.0,430.6 454.0,430.6 454.5,430.8 456.0,429.4 457.5,429.9 459.0,429.2 460.5,429.3 462.0,431.6 463.5,432.1 464.5,432.3 465.0,432.3 466.5,431.8 468.0,430.5 469.5,428.9 471.0,428.7 471.5,427.9 472.5,427.5 474.0,426.8 475.5,427.3 477.0,427.1 478.5,425.8 480.0,425.8 481.5,425.5 483.0,425.3 484.0,424.5 484.5,425.9 486.0,425.1 487.5,425.4 489.0,424.9 490.5,426.7 492.0,426.6 493.5,426.3 495.0,428.3 495.2,428.0 496.5,427.2 498.0,427.2 499.0,426.6 499.5,427.6 501.0,428.3 502.5,428.1 504.0,429.8 505.5,430.7 507.0,429.9 508.5,432.3 509.0,432.3 510.0,431.8 511.5,431.2 513.0,429.7 514.5,428.4 516.0,428.1 517.5,427.0 519.0,426.5 520.5,425.6 522.0,426.8 523.5,428.5 524.0,427.7 525.0,426.9 526.5,425.2 528.0,425.0 529.5,425.8 531.0,425.9 532.5,425.6 534.0,425.9 535.5,426.4 536.5,425.9 537.0,425.4 538.5,424.8 540.0,423.3 541.5,421.2 543.0,420.5 544.0,419.1 544.5,417.8 546.0,414.0 547.5,411.2 549.0,407.3 550.5,403.0 552.0,398.2 553.5,394.5 554.0,392.6 555.0,391.2 556.5,389.6 558.0,388.5 558.5,387.2 559.5,386.6 561.0,388.0 562.5,388.8 564.0,389.2 565.5,390.7 567.0,393.5 568.5,394.7 570.0,396.4 570.2,396.4 571.5,398.1 573.0,399.6 574.5,401.2 575.2,401.9 576.0,400.7 577.5,399.1 579.0,397.7 580.2,395.9 580.5,395.2 582.0,387.1 583.5,380.4 584.0,376.9 585.0,372.6 586.5,365.6 587.8,359.1 588.0,359.0 589.5,362.8 590.2,363.8 591.0,367.9 592.5,375.5 594.0,382.7 595.2,390.3 595.5,391.2 597.0,397.3 598.5,402.6 599.0,405.4 600.0,406.9 601.5,410.0 603.0,413.3 604.5,417.2 605.2,418.6 606.0,420.6 607.5,422.7 609.0,425.3 610.5,427.1 611.5,428.3 612.0,428.7 613.5,431.2 615.0,433.7 616.5,435.6 618.0,436.3 619.5,439.1 621.0,441.3 622.5,442.6 624.0,445.0 625.5,446.0 627.0,447.8 628.5,449.1 629.0,449.4 630.0,449.7 631.5,449.9 633.0,450.7 634.5,449.7 636.0,451.8 637.5,452.5 639.0,451.9 640.5,453.0 642.0,454.0 643.5,454.0 645.0,454.6 646.5,455.5 648.0,456.3 649.5,455.8 651.0,457.0 652.5,457.7 652.8,456.9 654.0,457.3 655.5,457.5 657.0,456.5 658.0,456.2 658.5,457.0 660.0,456.3 661.5,456.7 663.0,457.6 664.5,458.0 666.0,456.9 667.5,457.5 669.0,458.0 670.5,458.6 672.0,457.5 673.5,456.2 675.0,456.1 675.5,454.5 676.5,455.9 678.0,456.6 679.5,457.2 680.5,457.2 681.0,456.0 682.5,455.9 684.0,454.1 685.5,453.0 687.0,452.5 688.0,450.4 688.5,451.7 690.0,449.3 691.5,447.6 693.0,445.3 694.5,444.0 695.5,442.8 696.0,441.7 697.5,438.3 699.0,436.6 700.5,433.9 702.0,421.4 703.0,412.7 703.5,408.2 705.0,395.1 706.5,393.6 707.5,392.9 708.0,396.0 709.5,402.6 710.5,407.7 711.0,410.3 712.5,420.6 714.0,431.2 714.2,432.5 715.5,435.9 717.0,441.0 718.0,443.9 718.5,444.1 720.0,446.7 721.5,449.4 723.0,451.7 724.2,453.6 724.5,453.7 726.0,454.0 727.5,456.7 729.0,457.8 730.5,458.9 731.8,459.2 732.0,460.0 733.5,461.4 735.0,462.6 736.5,463.9 738.0,464.2 739.2,466.5 739.5,466.5 741.0,466.4 742.5,466.6 744.0,466.1 745.5,466.5 747.0,465.2 748.0,466.0 748.5,466.1 750.0,468.1 751.5,468.6 753.0,469.9 754.2,470.9 754.5,471.5 756.0,471.5 757.5,472.7 759.0,473.1 760.5,473.3 762.0,473.9 763.5,474.0 765.0,475.7 765.5,475.3 766.5,474.7 768.0,476.0 769.5,475.3 771.0,476.3 772.5,476.7 774.0,476.6 775.5,476.8 777.0,477.6 778.5,478.0 780.0,478.2 781.5,478.6 783.0,478.1 784.5,478.9 786.0,478.7 787.5,479.3 789.0,479.0 790.5,479.3 792.0,479.5 793.5,479.9 795.0,480.2 796.5,480.4 798.0,480.9 799.5,480.1 801.0,481.2 802.5,480.2 804.0,479.9 805.5,480.2 807.0,479.8 808.0,479.7 808.5,480.1 810.0,479.7 811.5,481.1 813.0,480.3 814.5,480.9 816.0,482.0 817.5,482.3 819.0,482.3 820.5,481.8 822.0,482.5 823.5,482.7 825.0,483.0 826.5,483.5 828.0,484.1 829.5,484.6 831.0,484.6 832.5,484.4 833.0,484.9 834.0,485.3 835.5,486.1 837.0,485.8 838.5,486.4 840.0,486.7 841.5,487.0 843.0,488.1 844.5,488.1 845.5,489.1 846.0,488.9 847.5,488.0 849.0,487.6 850.5,486.8 852.0,487.2 853.5,487.4 855.0,488.1 856.5,487.6 858.0,488.5 859.5,488.6 861.0,488.7 862.5,488.2 864.0,488.5 865.5,489.2 867.0,489.5 868.5,489.1 870.0,490.7 870.5,490.0 871.5,489.8 873.0,490.0 874.5,489.4 876.0,488.7 877.5,489.4 878.0,489.1 879.0,489.5 880.5,489.7 882.0,489.0 883.5,489.5 885.0,490.3 886.5,490.7 888.0,490.1 889.5,490.3 891.0,490.5 892.5,490.6 893.0,491.7 894.0,491.5 895.5,490.8 897.0,491.3 898.5,492.3 900.0,492.4 901.5,492.9 901.8,492.8 903.0,492.3 904.2,492.2" stroke="#FF1493" stroke-width="4"/>
<path class="c" d="M165.0,434.4 166.1,428.2 167.2,423.9 167.5,422.4 168.3,426.4 169.4,437.9 170.0,440.6 170.5,444.1 171.6,446.1 172.7,451.1 173.8,452.3 173.8,452.4 174.9,448.3 176.0,447.7 176.2,446.0 177.1,447.5 178.2,448.2 178.8,448.5 179.3,448.3 180.4,448.4 181.5,451.5 182.5,456.0 182.6,456.1 183.7,454.6 184.8,450.5 185.9,448.1 186.2,449.9 187.0,443.7 188.1,433.7 188.2,432.5 189.2,436.0 190.3,443.3 191.2,450.4 191.4,446.8 192.5,441.1 193.6,435.2 194.7,428.8 195.0,425.2 195.8,423.4 196.9,418.5 197.0,418.4 198.0,425.8 199.1,434.5 199.5,436.3 200.2,435.6 201.2,427.1 201.3,429.6 202.4,435.5 203.5,439.7 204.6,443.9 205.0,444.8 205.7,440.0 206.8,432.7 207.5,427.7 207.9,429.6 209.0,438.4 210.1,450.8 211.2,456.2 211.2,454.7 212.3,455.4 213.4,451.9 214.5,448.4 215.5,450.2 215.6,449.3 216.7,454.2 217.8,460.2 218.8,461.3 218.9,460.0 220.0,462.0 221.1,456.2 222.2,456.3 222.5,459.2 223.3,460.7 224.4,460.4 225.5,461.8 226.6,465.0 227.5,466.5 227.7,466.6 228.8,467.5 229.9,468.1 231.0,470.5 232.1,472.5 232.5,473.1 233.2,470.9 234.3,468.6 235.0,464.6 235.4,468.3 236.5,469.9 237.6,468.3 238.7,468.3 239.8,471.4 240.0,471.8 240.9,470.5 242.0,471.4 243.1,469.0 244.2,467.7 245.0,470.6 245.3,468.5 246.4,469.9 247.5,469.0 248.6,472.8 249.7,473.8 250.0,475.0 250.8,477.7 251.9,479.7 253.0,480.5 253.8,485.1 254.1,481.7 255.2,474.3 256.2,466.1 256.3,466.5 257.4,468.7 258.5,472.6 259.6,477.7 260.0,479.1 260.7,479.3 261.8,473.4 262.9,475.3 263.8,473.9 264.0,476.6 265.1,476.1 266.2,477.7 267.3,479.9 268.4,482.0 269.5,480.5 270.0,482.1 270.6,483.4 271.7,481.0 272.8,478.7 273.9,478.7 275.0,472.9 275.0,474.9 276.1,476.0 277.2,478.9 278.3,479.4 279.4,482.5 280.5,487.3 281.6,486.7 282.5,487.7 282.7,489.3 283.8,487.3 284.9,488.4 286.0,483.8 287.1,482.7 287.5,481.2 288.2,483.3 289.3,483.1 290.4,488.5 291.5,487.9 292.6,489.5 293.7,490.2 294.8,491.0 295.0,490.9 295.9,488.5 297.0,491.2 298.1,487.7 299.2,489.3 300.0,487.1 300.3,485.0 301.4,487.8 302.5,489.4 303.6,490.9 304.7,492.5 305.0,493.5 305.8,493.4 306.9,493.9 308.0,495.7 309.1,496.4 310.2,496.4 311.3,498.3 312.4,498.0 312.5,499.1 313.5,497.9 314.6,498.6 315.7,494.2 316.8,497.9 317.9,494.4 319.0,495.8 320.0,492.8 320.1,493.1 321.2,491.3 322.3,487.7 323.4,484.9 323.8,484.5 324.5,492.3 325.6,496.4 326.2,503.4 326.7,504.0 327.8,498.9 328.9,498.2 330.0,490.3 331.1,488.4 331.2,489.1 332.2,488.2 333.3,488.0 334.4,489.2 335.5,486.6 336.6,487.9 337.5,487.5 337.7,487.3 338.8,492.5 339.9,491.5 340.0,494.9 341.0,489.9 342.1,489.7 343.2,487.9 344.3,484.8 345.0,485.7 345.4,486.0 346.5,484.2 347.6,482.2 348.7,482.8 349.8,480.9 350.0,480.3 350.9,474.6 352.0,476.2 353.1,475.7 353.8,472.0 354.2,467.0 355.3,463.5 356.4,458.1 357.5,450.0 357.5,451.5 358.6,462.4 359.7,470.7 360.0,473.8 360.8,477.4 361.9,477.0 363.0,477.2 363.8,480.2 364.1,481.2 365.2,483.2 366.3,485.5 367.4,487.3 367.5,492.0 368.5,487.7 369.6,489.5 370.7,490.4 371.8,491.6 372.9,490.2 374.0,491.4 375.1,490.7 376.2,492.4 377.3,490.0 377.5,494.0 378.4,493.5 379.5,494.8 380.6,494.5 381.7,492.9 382.8,495.1 383.9,496.8 385.0,499.8 386.1,498.7 387.2,501.0 387.5,500.0 388.3,498.2 389.4,497.9 390.5,498.3 391.6,497.6 392.5,495.1 392.7,496.4 393.8,497.6 394.9,499.5 396.0,501.3 397.1,499.1 397.5,500.1 398.2,497.8 399.3,501.0 400.4,497.4 401.2,494.2 401.5,499.0 402.6,496.5 403.7,497.5 404.8,498.2 405.9,499.3 407.0,496.5 408.1,499.3 409.0,500.9 409.2,500.6 410.3,501.3 411.4,502.0 412.5,502.2 413.6,501.5 414.7,504.4 415.2,508.0 415.8,507.0 416.9,504.6 418.0,504.2 419.1,505.0 420.2,501.3 420.2,500.7 421.3,505.3 422.4,502.1 423.5,501.4 424.6,504.2 425.2,501.7 425.7,503.3 426.8,505.0 427.9,507.8 429.0,506.5 430.1,509.7 430.2,507.1 431.2,507.9 432.3,507.0 433.4,506.2 434.5,507.4 435.2,503.8 435.6,504.1 436.7,505.0 437.8,506.1 438.9,508.2 440.0,509.0 441.1,511.3 441.5,509.6 442.2,510.8 443.3,510.0 444.4,508.9 445.5,508.7 446.5,508.0 446.6,507.5 447.7,508.5 448.8,507.6 449.9,509.0 451.0,511.1 452.1,512.8 453.2,513.7 454.0,513.4 454.3,512.3 455.4,512.1 456.5,510.3 457.6,507.5 457.8,509.6 458.7,511.1 459.8,511.0 460.9,510.4 462.0,513.5 462.8,514.5 463.1,512.4 464.2,513.5 465.3,511.8 466.4,511.8 467.5,508.8 468.6,508.3 469.0,508.0 469.7,509.4 470.8,507.2 471.9,508.8 473.0,511.3 474.1,509.1 475.2,508.2 476.3,511.4 476.5,511.0 477.4,508.1 478.5,510.6 479.6,509.0 480.7,511.1 481.8,512.8 482.9,512.9 484.0,510.8 484.0,511.2 485.1,512.9 486.2,510.2 487.3,507.9 488.4,507.0 489.0,504.8 489.5,503.0 490.6,501.5 491.7,502.1 492.0,499.9 492.8,503.7 493.9,506.6 495.0,508.4 495.2,507.6 496.1,507.8 497.2,507.3 498.3,508.3 499.4,509.5 500.5,508.1 501.6,510.1 502.7,507.9 502.8,506.8 503.8,509.1 504.9,513.5 506.0,516.5 506.5,520.5 507.1,518.2 508.2,517.8 509.3,513.4 510.2,510.9 510.4,508.8 511.5,508.7 512.6,509.7 513.7,508.8 514.8,507.2 515.9,507.1 516.5,507.8 517.0,508.7 518.1,509.1 519.2,508.9 520.2,509.7 520.3,510.7 521.4,508.4 522.5,504.9 523.6,504.0 524.7,504.1 525.2,504.4 525.8,504.2 526.9,503.3 528.0,503.9 529.0,509.0 529.1,506.7 530.2,505.2 531.3,505.3 532.4,505.2 533.5,503.9 534.6,503.6 535.7,504.8 536.5,501.8 536.8,501.7 537.9,501.8 539.0,500.5 540.1,499.3 541.2,498.9 542.3,496.6 543.4,496.8 544.0,495.5 544.5,497.5 545.6,493.8 546.7,493.5 547.8,493.6 548.9,490.6 550.0,490.6 550.2,488.9 551.1,485.7 552.2,481.3 553.3,477.0 554.0,474.7 554.4,471.4 555.5,473.5 556.5,472.3 556.6,470.6 557.7,460.3 558.8,451.6 559.0,449.5 559.9,460.3 561.0,468.3 561.5,471.2 562.1,469.3 563.2,468.2 564.3,463.9 564.5,463.8 565.4,469.0 566.5,469.5 567.6,475.1 567.8,474.9 568.7,478.2 569.8,481.3 570.9,483.0 571.5,486.0 572.0,484.6 573.1,485.8 574.2,484.2 575.2,485.8 575.3,485.8 576.4,482.1 577.5,477.1 578.6,477.7 579.7,476.7 580.8,473.5 581.9,472.7 582.8,473.8 583.0,470.1 584.1,464.9 585.2,460.9 586.3,451.9 586.5,451.0 587.4,441.1 588.5,425.5 589.5,414.6 589.6,417.1 590.7,435.8 591.8,453.5 592.0,456.6 592.9,464.0 594.0,471.1 595.1,479.1 595.2,481.9 596.2,480.4 597.3,486.9 598.4,487.8 599.5,492.6 600.2,493.6 600.6,494.2 601.7,496.7 602.8,501.1 603.9,502.7 605.0,506.1 606.1,505.5 606.2,506.7 607.2,507.6 608.3,509.4 609.4,512.4 610.5,513.8 611.6,513.2 612.5,512.5 612.7,514.6 613.8,514.8 614.9,516.7 616.0,519.5 617.1,520.9 618.2,524.1 619.3,521.6 620.0,521.7 620.4,521.4 621.5,526.6 622.6,523.8 623.7,526.5 624.8,528.9 625.9,526.7 627.0,529.5 628.1,528.2 629.2,531.6 630.0,529.1 630.3,530.4 631.4,531.1 632.5,532.1 633.6,534.4 634.7,535.2 635.8,536.1 636.9,536.7 638.0,533.7 639.1,536.5 640.0,539.0 640.2,538.9 641.3,538.5 642.4,536.9 643.5,538.5 644.6,537.2 645.7,536.5 646.8,538.8 647.9,537.8 649.0,537.8 650.0,538.7 650.1,538.9 651.2,537.1 652.3,535.9 653.4,536.7 654.5,536.2 655.6,536.8 656.7,537.4 657.8,536.2 658.8,535.9 658.9,534.7 660.0,537.0 661.1,536.7 662.2,538.1 663.3,539.0 664.4,538.6 665.5,537.9 666.6,539.4 667.5,541.1 667.7,537.2 668.8,539.7 669.9,540.0 671.0,540.1 672.1,540.0 673.2,539.0 674.3,539.7 675.0,541.6 675.4,539.0 676.5,539.2 677.6,538.4 678.7,540.1 679.8,540.3 680.9,537.0 682.0,537.2 683.1,534.1 684.2,538.5 685.0,538.6 685.3,537.6 686.4,534.6 687.5,535.8 688.6,536.9 689.7,532.0 690.8,531.7 691.9,533.3 692.5,530.6 693.0,532.2 694.1,529.6 695.2,529.6 696.3,527.2 697.4,528.1 698.5,528.7 699.6,528.0 700.0,529.2 700.7,526.8 701.8,522.5 702.9,521.5 703.8,519.3 704.0,515.3 705.1,506.1 706.2,496.6 706.2,495.5 707.3,479.5 708.0,470.7 708.4,476.6 709.5,491.3 710.0,500.3 710.6,507.8 711.7,519.4 712.5,527.1 712.8,532.1 713.9,532.4 715.0,533.6 716.1,533.6 717.2,533.4 717.5,530.3 718.3,536.5 719.4,538.7 720.5,536.2 721.6,539.5 722.5,540.1 722.7,542.2 723.8,539.2 724.9,543.6 726.0,543.0 727.1,541.3 728.2,541.8 729.3,545.3 730.0,546.9 730.4,544.2 731.5,545.3 732.6,545.7 733.7,547.9 734.8,547.2 735.9,547.1 737.0,547.3 738.1,547.7 739.2,550.1 740.0,551.0 740.3,549.4 741.4,550.1 742.5,548.5 743.6,551.4 744.7,550.8 745.8,552.8 746.9,549.1 748.0,553.6 749.1,552.1 750.2,552.5 751.3,553.1 752.4,552.1 753.5,553.9 754.6,554.1 755.0,553.1 755.7,555.0 756.8,554.5 757.9,553.6 759.0,554.4 760.1,554.7 761.2,556.1 762.3,558.9 763.4,555.9 764.5,558.1 765.6,554.4 766.7,555.3 767.8,556.0 768.9,557.4 770.0,557.5 771.1,559.7 772.2,558.3 772.5,558.4 773.3,559.9 774.4,557.6 775.5,559.2 776.6,560.8 777.7,559.2 778.8,562.6 779.9,561.2 781.0,560.6 782.1,561.2 783.2,562.1 784.3,558.1 785.4,562.3 786.5,560.5 787.6,564.1 788.7,560.3 789.8,562.6 790.0,564.2 790.9,565.6 792.0,563.2 793.1,563.5 794.2,563.6 795.3,562.4 796.4,562.4 797.5,562.1 798.6,563.7 799.7,564.6 800.8,562.9 801.9,564.3 803.0,564.0 804.1,561.9 805.2,564.8 806.3,563.0 807.4,565.2 807.5,565.1 808.5,564.6 809.6,565.0 810.7,564.2 811.8,563.2 812.9,566.2 814.0,564.4 815.1,567.3 816.2,566.9 817.3,563.5 818.4,563.8 819.5,566.4 820.6,565.6 821.7,565.1 822.8,565.0 823.9,565.9 825.0,566.2 825.0,565.1 826.1,566.3 827.2,565.8 828.3,566.8 829.4,565.9 830.5,568.7 831.6,567.5 832.7,566.2 833.8,566.3 834.9,568.9 836.0,569.6 837.1,568.7 838.2,566.4 839.3,567.9 840.0,568.5 840.4,567.4 841.5,568.8 842.6,568.9 843.7,568.6 844.8,569.5 845.9,567.9 847.0,567.4 848.1,566.3 849.0,568.6 849.2,565.4 850.3,570.3 851.4,569.4 852.5,568.9 853.6,567.2 854.7,568.2 855.8,567.0 856.9,567.6 858.0,568.8 859.1,567.8 860.2,567.5 861.3,568.7 862.4,568.2 863.5,568.8 864.6,569.4 865.7,568.3 866.8,569.5 867.9,571.3 869.0,571.9 870.0,569.8 870.1,570.7 871.2,569.5 872.3,570.6 873.4,567.8 874.5,570.3 875.6,572.7 876.7,569.3 877.8,571.1 878.9,569.7 880.0,572.2 881.1,569.6 882.2,572.9 883.3,571.0 884.4,569.0 885.5,570.8 886.6,569.5 887.7,570.1 888.8,570.4 889.9,572.7 891.0,571.6 892.1,573.4 893.2,571.4 894.3,571.7 895.4,567.5 896.5,570.3 897.6,571.1 898.7,570.4 899.8,572.3 900.9,569.3 902.0,571.3 902.5,571.1 903.1,570.2 904.2,570.9 905.3,571.2 906.0,572.6" stroke="#930E82" stroke-width="4.5"/>
<path class="c" d="M165.0,514.6 166.3,515.0 167.6,514.0 168.9,513.2 170.2,513.6 171.2,511.0 171.5,512.0 172.8,513.2 174.1,515.3 175.4,516.3 176.7,517.8 177.5,519.2 178.0,519.6 179.3,519.4 180.6,518.4 181.9,519.9 183.2,519.1 184.5,521.3 185.0,520.3 185.8,519.6 187.1,519.7 188.4,518.8 189.7,520.3 191.0,519.0 192.3,520.9 192.5,518.4 193.6,518.0 194.9,519.5 196.2,518.2 197.5,516.5 198.0,512.4 198.8,513.9 200.1,515.8 201.4,517.3 202.7,521.3 203.8,521.9 204.0,522.7 205.3,523.2 206.6,523.9 207.9,528.2 209.2,527.6 210.0,526.4 210.5,528.9 211.8,526.7 213.1,527.2 214.4,529.1 215.7,526.6 217.0,527.2 217.5,527.1 218.3,530.0 219.6,531.2 220.9,530.0 222.2,532.8 223.5,529.9 224.8,532.1 225.0,534.0 226.1,532.3 227.4,533.0 228.7,532.9 230.0,533.5 231.3,533.1 232.6,531.2 233.9,532.5 235.0,532.2 235.2,533.8 236.5,532.2 237.8,534.2 239.1,537.5 240.4,537.5 241.7,540.9 242.5,538.7 243.0,536.3 244.3,542.3 245.6,543.1 246.2,543.3 246.9,542.0 248.2,543.0 249.5,543.5 250.8,542.8 252.1,542.2 253.4,542.4 254.7,541.5 255.0,540.1 256.0,542.2 257.3,543.3 258.6,545.8 259.9,544.5 260.0,543.3 261.2,545.8 262.5,545.2 263.8,543.6 265.1,542.7 266.4,545.8 267.7,542.0 269.0,543.1 270.0,544.1 270.3,542.6 271.6,543.8 272.9,544.8 274.2,544.0 275.5,543.2 276.8,544.2 278.1,545.0 279.4,546.7 280.0,544.3 280.7,547.1 282.0,544.0 283.3,546.3 284.6,546.9 285.9,545.6 287.2,543.6 287.5,545.7 288.5,546.1 289.8,546.6 291.1,547.1 292.4,548.2 292.5,548.6 293.7,551.5 295.0,549.3 296.3,549.3 297.6,548.2 298.9,549.1 300.2,548.4 301.5,547.9 302.5,548.9 302.8,548.3 304.1,549.5 305.4,549.7 306.7,549.5 308.0,551.4 309.3,552.0 310.6,548.5 311.9,552.0 312.5,552.3 313.2,552.0 314.5,553.3 315.8,551.5 317.1,550.5 318.4,549.7 319.7,550.8 320.0,548.1 321.0,550.5 322.3,551.4 323.6,552.8 324.9,554.0 325.0,553.1 326.2,552.8 327.5,553.6 328.8,552.3 330.1,554.4 331.4,552.8 332.5,550.7 332.7,552.7 334.0,552.6 335.3,553.9 336.6,556.1 337.9,556.1 339.2,554.8 340.5,557.1 341.2,556.5 341.8,557.9 343.1,555.9 344.4,553.4 345.7,550.5 347.0,552.9 348.3,552.0 349.6,551.3 350.0,554.5 350.9,551.7 352.2,551.9 353.5,549.1 354.8,550.3 356.1,548.2 356.2,546.9 357.4,545.7 358.7,543.0 359.5,540.0 360.0,544.6 361.3,547.3 362.5,549.5 362.6,548.6 363.9,553.9 365.2,555.5 366.5,557.0 367.5,556.4 367.8,556.6 369.1,558.8 370.4,558.1 371.7,559.1 373.0,560.3 374.3,561.3 375.6,559.7 376.9,560.9 377.5,561.6 378.2,561.0 379.5,563.6 380.8,562.1 382.1,564.7 383.4,564.5 384.7,567.2 386.0,566.7 387.3,566.7 387.5,567.2 388.6,565.7 389.9,567.5 391.2,566.1 392.5,565.6 393.8,565.9 395.0,565.6 395.1,564.7 396.4,565.2 397.7,569.3 399.0,569.9 400.0,570.7 400.3,571.5 401.6,570.4 402.9,572.6 404.2,570.7 405.5,570.7 406.8,571.3 408.1,570.8 409.0,571.1 409.4,571.6 410.7,570.9 412.0,572.6 413.3,572.4 414.6,574.9 415.9,572.7 417.2,572.5 418.5,572.7 419.0,574.3 419.8,574.1 421.1,572.6 422.4,574.6 423.7,571.7 425.0,572.4 426.3,572.9 427.6,573.3 428.9,572.3 430.2,574.8 431.5,574.5 432.8,573.3 434.0,573.2 434.1,573.1 435.4,574.4 436.7,576.4 438.0,577.7 439.3,578.5 440.2,578.4 440.6,577.0 441.9,576.4 443.2,578.3 444.5,576.1 445.8,576.8 447.1,578.3 448.4,577.2 449.7,576.5 450.2,576.4 451.0,577.1 452.3,577.1 453.6,575.4 454.9,575.2 456.2,575.6 457.5,576.5 458.8,579.2 460.1,577.0 461.4,577.0 462.7,578.1 464.0,578.1 464.0,576.2 465.3,574.7 466.6,580.3 467.9,577.1 469.2,577.1 470.5,579.3 471.8,576.9 473.1,577.8 474.4,576.7 475.7,579.7 476.5,577.9 477.0,579.1 478.3,580.6 479.6,580.2 480.9,583.8 482.2,581.7 483.2,580.6 483.5,583.2 484.8,582.4 486.1,581.6 487.4,578.9 488.7,578.2 489.0,578.5 490.0,579.7 491.3,578.5 492.6,580.3 493.9,579.7 495.2,579.6 496.5,577.9 497.8,576.7 499.1,579.1 500.4,580.6 501.7,580.1 503.0,578.1 504.3,580.0 505.6,579.3 506.9,579.9 508.2,577.9 509.0,578.2 509.5,579.0 510.8,580.5 512.1,578.6 513.4,579.0 514.7,580.3 516.0,578.1 517.3,578.0 518.6,577.7 519.9,579.7 521.2,577.6 522.5,576.5 523.8,577.2 525.1,578.1 526.4,577.9 527.7,578.2 529.0,578.8 529.0,577.7 530.3,576.5 531.6,574.5 532.9,576.7 534.2,576.9 535.5,576.3 536.5,576.1 536.8,574.7 538.1,576.5 539.4,574.1 540.7,574.8 542.0,574.8 543.3,578.2 544.6,578.3 545.9,578.7 547.2,580.2 548.5,577.2 549.0,579.0 549.8,578.2 551.1,577.8 552.4,579.4 553.7,577.9 555.0,577.0 556.3,579.0 557.6,577.5 558.9,577.8 559.0,578.9 560.2,577.1 561.5,576.5 562.8,576.8 564.1,577.7 565.4,573.4 566.7,576.6 568.0,575.3 569.0,574.3 569.3,574.2 570.6,571.3 571.9,572.4 573.2,572.4 574.5,570.4 575.8,567.7 577.1,568.3 578.4,566.2 579.0,566.0 579.7,565.1 581.0,565.2 582.3,564.0 583.6,559.9 584.9,559.3 585.2,556.8 586.2,552.9 587.5,549.2 588.8,544.6 589.0,542.7 590.1,538.0 591.4,540.1 592.7,540.4 593.5,540.2 594.0,542.3 595.3,555.7 596.0,555.2 596.6,559.7 597.9,563.6 599.2,569.3 600.2,573.7 600.5,573.3 601.8,576.3 603.1,576.3 604.4,579.1 605.7,582.8 606.5,582.1 607.0,584.6 608.3,584.8 609.6,585.3 610.9,588.1 612.2,588.5 613.5,592.7 614.8,592.1 616.1,595.2 616.5,592.6 617.4,595.4 618.7,594.8 620.0,596.3 621.3,595.5 622.6,598.1 623.9,599.8 625.2,597.2 626.5,597.7 627.8,601.8 629.0,598.6 629.1,599.8 630.4,599.5 631.7,598.8 633.0,600.4 634.3,601.1 635.6,599.0 636.9,603.2 638.2,602.3 639.5,599.5 640.8,602.9 642.1,605.7 643.4,602.4 644.0,603.8 644.7,605.7 646.0,600.9 647.3,605.2 648.6,605.9 649.9,605.5 651.2,602.2 652.5,604.6 653.8,603.5 655.1,605.5 656.4,605.1 657.7,603.2 658.0,603.7 659.0,602.8 660.3,603.7 661.6,604.1 662.9,604.7 664.2,604.6 665.5,604.3 666.8,605.5 668.1,605.2 669.4,605.9 670.5,605.3 670.7,607.8 672.0,607.7 673.3,607.7 674.6,605.1 675.9,606.7 677.2,606.1 678.5,606.6 679.8,607.2 681.1,607.6 682.4,605.7 683.7,608.2 685.0,608.3 686.3,608.3 687.6,606.2 688.0,607.2 688.9,606.6 690.2,605.2 691.5,604.6 692.8,605.0 694.1,603.3 695.4,602.4 696.7,603.2 698.0,602.9 698.0,604.0 699.3,604.0 700.6,599.7 701.9,600.6 703.2,600.2 704.2,597.6 704.5,596.8 705.8,589.8 707.1,581.8 707.2,582.1 708.4,581.1 709.7,579.0 710.0,576.0 711.0,581.2 712.3,589.8 713.0,592.2 713.6,594.9 714.9,601.3 716.0,604.0 716.2,606.9 717.5,605.7 718.8,607.4 720.1,607.2 721.4,609.2 722.7,608.8 723.0,607.9 724.0,609.6 725.3,611.3 726.6,609.4 727.9,612.2 729.2,614.0 730.5,612.1 731.8,613.8 733.1,613.0 734.4,614.9 735.7,614.0 737.0,612.1 738.0,614.4 738.3,616.5 739.6,615.1 740.9,614.6 742.2,616.1 743.5,614.3 744.8,618.2 746.1,615.4 747.4,617.4 748.7,617.3 750.0,616.8 751.3,616.0 752.6,617.8 753.9,617.9 755.2,618.1 756.5,616.3 757.8,618.7 758.0,618.6 759.1,618.8 760.4,619.0 761.7,618.5 763.0,617.9 764.3,620.0 765.6,618.5 766.9,618.9 768.2,620.1 769.5,622.3 770.5,621.1 770.8,620.9 772.1,615.8 773.0,613.4 773.4,614.3 774.7,614.1 776.0,614.0 776.8,614.2 777.3,615.3 778.6,620.2 779.2,622.5 779.9,624.5 781.2,622.7 782.5,623.1 783.8,624.1 785.1,624.3 786.4,624.5 787.7,621.8 789.0,623.9 790.3,623.9 790.5,624.0 791.6,623.9 792.9,623.8 794.2,622.4 794.2,621.4 795.5,623.1 796.8,623.1 796.8,623.9 798.1,626.2 799.4,624.5 800.7,622.4 802.0,623.6 803.0,624.0 803.3,622.0 804.6,611.0 805.9,602.6 806.0,604.1 807.2,605.1 808.5,600.7 809.5,598.6 809.8,601.4 811.1,611.1 812.4,621.4 812.5,623.6 813.7,625.4 815.0,621.9 816.3,624.9 817.6,626.4 818.0,625.9 818.9,626.0 820.2,626.0 821.5,628.1 822.8,627.0 824.1,625.8 825.4,628.8 826.7,627.8 828.0,625.2 829.3,625.5 830.6,627.0 831.9,627.5 833.0,625.6 833.2,628.5 834.5,627.8 835.8,628.6 837.1,626.1 838.4,626.0 839.7,628.6 841.0,628.3 842.3,629.7 843.6,627.9 844.9,629.5 846.2,626.2 847.5,628.4 848.8,630.3 850.1,628.1 851.4,629.0 852.7,630.1 853.0,631.2 854.0,631.8 855.3,629.2 856.6,629.0 857.9,632.1 859.2,632.9 860.5,629.4 861.8,629.2 863.0,630.4 863.1,630.6 864.4,628.3 865.7,631.6 867.0,628.3 868.3,629.7 869.6,628.0 870.9,631.8 872.2,631.5 873.5,631.8 874.8,629.9 876.1,631.7 877.4,629.7 878.7,631.7 880.0,633.5 881.3,632.6 882.6,631.1 883.0,633.8 883.9,631.5 885.2,631.9 886.5,633.4 887.8,630.8 889.1,632.7 890.4,632.4 891.7,631.0 893.0,632.4 894.3,632.6 895.6,632.9 896.9,632.7 898.2,633.8 899.5,633.1 900.8,632.2 901.8,632.5 902.1,633.4 903.4,631.4 904.7,633.2 905.5,632.1" stroke="#000000" stroke-width="4"/>
<path class="c" d="M165.0,546.3 167.0,554.0 169.0,562.7 169.5,565.0 171.0,562.8 173.0,560.8 175.0,558.4 177.0,553.9 179.0,548.4 180.0,546.3 181.0,548.9 183.0,555.4 183.8,557.2 185.0,558.8 187.0,561.7 187.5,563.3 189.0,568.4 191.0,575.9 191.2,577.1 193.0,580.3 195.0,581.2 197.0,577.9 198.8,575.1 199.0,576.4 201.0,582.2 202.0,585.3 203.0,579.4 205.0,567.6 205.5,565.1 207.0,572.4 209.0,581.9 209.2,582.8 211.0,581.8 213.0,579.0 213.8,577.8 215.0,579.0 217.0,580.8 218.8,582.1 219.0,582.7 221.0,588.4 223.0,593.9 223.8,595.9 225.0,594.3 227.0,592.7 229.0,598.6 231.0,604.9 231.2,605.7 233.0,606.9 235.0,609.9 236.2,611.2 237.0,610.9 239.0,610.2 240.0,609.4 241.0,606.0 243.0,600.2 243.8,597.8 245.0,601.2 247.0,607.2 247.5,608.5 249.0,615.0 250.5,619.6 251.0,618.3 253.0,612.2 253.8,609.7 255.0,613.5 257.0,617.8 257.5,617.8 259.0,623.3 261.0,630.8 261.2,631.0 263.0,626.6 265.0,621.4 267.0,618.0 268.8,614.7 269.0,615.3 271.0,617.9 273.0,620.0 273.8,621.4 275.0,620.9 277.0,620.2 278.8,619.8 279.0,619.5 281.0,619.9 283.0,621.4 283.8,621.5 285.0,622.4 287.0,624.9 288.8,627.7 289.0,628.0 291.0,628.7 293.0,630.8 295.0,632.3 297.0,625.8 298.0,622.7 299.0,627.2 301.0,634.2 301.8,638.1 303.0,633.6 305.0,627.2 307.0,625.8 309.0,625.4 310.0,625.4 311.0,624.2 313.0,622.7 315.0,620.2 316.2,619.2 317.0,620.3 319.0,623.3 321.0,627.4 321.2,627.3 323.0,624.9 323.8,623.7 325.0,625.7 327.0,627.6 327.5,629.3 329.0,627.6 331.0,625.3 333.0,622.9 333.8,622.1 335.0,620.2 337.0,616.5 338.0,615.0 339.0,617.0 341.0,620.9 342.0,622.5 343.0,621.0 345.0,620.0 345.5,619.5 347.0,620.0 349.0,622.4 351.0,625.5 352.5,626.8 353.0,627.7 355.0,633.2 356.2,635.7 357.0,637.2 359.0,640.4 360.0,640.5 361.0,640.5 363.0,637.8 365.0,637.0 367.0,635.8 369.0,635.8 371.0,636.0 371.2,636.0 373.0,638.1 375.0,640.5 377.0,637.3 379.0,635.4 380.0,634.7 381.0,634.8 383.0,636.8 385.0,638.1 386.2,638.9 387.0,638.4 389.0,637.7 390.0,637.5 391.0,639.1 393.0,643.9 393.8,645.1 395.0,640.9 397.0,636.4 397.5,634.7 399.0,635.7 401.0,636.0 401.2,636.3 403.0,639.6 405.0,643.3 407.0,643.9 409.0,644.4 411.0,642.3 413.0,640.5 415.0,638.7 415.2,638.3 417.0,647.6 419.0,657.8 419.5,659.9 421.0,655.6 423.0,649.8 425.0,643.9 426.5,640.6 427.0,641.1 429.0,643.8 431.0,646.3 431.5,647.3 433.0,648.4 435.0,649.1 435.2,649.8 437.0,644.7 438.2,641.3 439.0,644.7 441.0,653.2 441.5,656.6 443.0,656.1 445.0,657.4 445.2,657.4 447.0,649.6 448.5,642.8 449.0,643.7 451.0,647.2 452.8,650.1 453.0,650.4 455.0,651.1 457.0,651.4 459.0,652.8 461.0,654.1 463.0,656.0 465.0,657.8 466.5,658.6 467.0,658.7 469.0,660.7 471.0,661.4 473.0,662.8 474.5,664.1 475.0,661.6 477.0,654.2 477.8,651.4 479.0,655.4 481.0,662.9 481.5,665.0 483.0,662.4 485.0,657.3 485.2,657.7 487.0,657.1 489.0,655.8 491.0,655.1 491.5,654.3 493.0,654.1 495.0,651.9 497.0,650.7 497.8,649.5 499.0,649.2 501.0,646.6 503.0,644.9 503.5,644.8 505.0,645.7 507.0,646.8 509.0,648.7 511.0,646.9 513.0,644.7 515.0,642.7 515.2,642.3 517.0,642.9 519.0,643.7 521.0,639.8 523.0,636.7 525.0,633.1 525.2,632.3 527.0,631.4 529.0,630.5 529.5,630.2 531.0,634.4 533.0,639.6 533.2,640.2 535.0,636.2 537.0,630.9 539.0,634.9 541.0,637.8 541.5,638.7 543.0,639.7 545.0,641.2 547.0,643.0 547.8,643.4 549.0,648.2 551.0,655.6 553.0,649.5 554.5,644.3 555.0,644.6 557.0,647.3 559.0,651.3 561.0,654.1 563.0,655.2 563.5,656.8 565.0,654.2 566.0,651.6 567.0,654.7 569.0,658.6 569.8,659.9 571.0,657.2 573.0,654.0 574.0,653.2 575.0,651.9 577.0,650.7 579.0,650.7 580.2,650.0 581.0,651.9 583.0,658.5 584.0,661.0 585.0,662.1 587.0,663.9 587.8,665.4 589.0,665.0 591.0,664.6 591.5,665.6 593.0,668.2 595.0,671.9 595.2,672.8 597.0,671.6 599.0,671.1 601.0,675.0 603.0,679.4 603.5,679.9 605.0,680.3 607.0,680.4 609.0,680.5 611.0,680.8 613.0,681.7 615.0,681.3 616.5,682.2 617.0,681.7 619.0,682.1 621.0,681.7 621.5,680.8 623.0,683.1 625.0,685.0 627.0,688.0 629.0,689.8 631.0,688.0 633.0,684.8 635.0,682.0 635.2,681.1 637.0,676.9 639.0,673.3 639.5,672.4 641.0,676.1 643.0,681.0 644.0,683.5 645.0,681.7 647.0,679.6 647.8,677.3 649.0,678.5 651.0,679.6 653.0,683.0 654.0,683.7 655.0,680.1 657.0,673.2 658.0,669.7 659.0,672.2 661.0,674.8 661.8,677.0 663.0,674.2 665.0,669.7 665.5,668.3 667.0,673.1 669.0,678.0 669.2,678.6 671.0,678.6 673.0,678.7 675.0,676.7 675.5,677.0 677.0,680.9 679.0,686.8 680.5,689.9 681.0,688.4 683.0,680.6 684.2,674.8 685.0,675.2 687.0,676.0 688.0,676.4 689.0,678.4 691.0,683.0 692.5,685.5 693.0,685.3 695.0,682.6 695.5,682.8 697.0,683.8 699.0,685.6 699.2,686.1 701.0,685.3 703.0,684.0 704.2,682.1 705.0,682.3 707.0,682.7 709.0,682.0 711.0,682.6 711.8,681.9 713.0,681.7 715.0,680.3 716.8,678.9 717.0,678.9 719.0,680.9 721.0,683.6 723.0,686.8 724.2,687.0 725.0,687.5 727.0,686.9 729.0,686.7 730.5,686.1 731.0,686.7 733.0,688.0 735.0,690.1 735.5,689.7 737.0,687.8 739.0,686.3 741.0,683.0 742.5,681.4 743.0,682.4 745.0,688.4 747.0,694.8 747.5,695.9 749.0,695.5 751.0,694.6 753.0,690.9 753.5,689.6 755.0,695.7 757.0,702.3 757.5,705.1 759.0,700.6 761.0,694.4 763.0,695.9 764.2,695.6 765.0,694.2 767.0,689.1 768.0,686.2 769.0,689.2 771.0,695.8 773.0,702.5 775.0,702.2 777.0,702.5 779.0,702.5 780.5,702.1 781.0,703.0 783.0,704.2 785.0,706.7 786.8,707.1 787.0,707.0 789.0,702.1 790.5,697.6 791.0,699.6 793.0,705.5 795.0,710.9 797.0,708.3 799.0,704.0 799.2,703.9 801.0,706.2 803.0,708.9 805.0,711.8 805.5,712.7 807.0,710.4 809.0,706.9 810.5,705.0 811.0,705.1 813.0,706.5 815.0,707.5 816.8,708.9 817.0,708.0 819.0,706.1 820.5,705.5 821.0,706.7 823.0,713.8 824.2,717.7 825.0,716.8 827.0,715.8 827.5,715.0 829.0,707.6 831.0,698.5 833.0,705.0 835.0,712.9 837.0,716.2 838.5,718.2 839.0,718.1 841.0,714.8 843.0,712.2 845.0,711.9 847.0,711.6 849.0,709.8 850.5,710.3 851.0,710.5 853.0,711.9 855.0,713.2 857.0,714.9 858.0,715.4 859.0,715.6 861.0,716.0 863.0,717.9 864.2,718.8 865.0,718.6 867.0,717.8 869.0,718.1 871.0,717.1 871.8,716.5 873.0,716.5 875.0,714.7 877.0,714.3 878.0,713.8 879.0,714.4 881.0,716.0 883.0,716.8 884.2,717.7 885.0,717.8 887.0,718.3 889.0,717.9 890.5,718.6 891.0,719.5 893.0,721.0 895.0,721.7 897.0,723.5 898.0,723.7 899.0,723.0 901.0,721.8 901.8,721.2 903.0,720.2 905.0,720.0 905.5,719.8" stroke="#6400A5" stroke-width="5.5"/>
<path class="c" d="M165.0,700.8 166.0,694.2 167.0,701.0 168.0,702.1 169.0,701.4 170.0,703.5 171.0,697.3 171.2,696.4 172.0,698.8 173.0,698.3 174.0,707.0 175.0,705.2 176.0,697.8 177.0,703.8 178.0,706.9 178.8,701.1 179.0,710.0 180.0,704.3 181.0,702.1 182.0,704.1 183.0,701.6 184.0,707.0 185.0,705.0 186.0,701.8 187.0,700.4 187.5,702.9 188.0,698.6 189.0,701.9 190.0,698.5 191.0,701.0 192.0,702.1 193.0,698.2 194.0,698.2 195.0,698.0 196.0,699.2 196.2,698.8 197.0,698.9 198.0,699.9 199.0,696.5 200.0,695.3 201.0,699.2 202.0,713.6 203.0,705.6 203.8,704.2 204.0,708.1 205.0,707.8 206.0,710.3 207.0,711.5 208.0,707.8 209.0,709.2 210.0,715.7 211.0,710.6 212.0,715.2 212.5,713.3 213.0,716.4 214.0,717.9 215.0,714.2 216.0,719.8 217.0,714.6 218.0,714.8 219.0,716.8 220.0,718.2 221.0,715.9 222.0,710.0 222.5,716.4 223.0,719.7 224.0,720.6 225.0,719.6 226.0,727.5 227.0,721.6 228.0,717.7 229.0,720.4 230.0,721.8 231.0,722.9 232.0,723.4 232.5,722.9 233.0,720.0 234.0,726.7 235.0,726.4 236.0,723.7 237.0,723.0 238.0,727.3 239.0,725.7 240.0,723.2 241.0,728.7 242.0,725.4 243.0,731.9 244.0,715.4 245.0,728.6 246.0,723.0 247.0,721.7 248.0,725.6 249.0,732.3 250.0,720.2 251.0,727.7 252.0,729.0 253.0,728.4 254.0,726.0 255.0,728.1 256.0,736.2 256.2,729.6 257.0,730.1 258.0,729.9 259.0,730.0 260.0,731.1 261.0,730.2 262.0,723.5 263.0,719.9 263.8,724.0 264.0,718.7 265.0,720.7 266.0,723.5 267.0,722.4 268.0,724.9 269.0,729.5 270.0,730.5 271.0,731.2 272.0,728.8 273.0,735.6 274.0,735.4 275.0,727.7 276.0,734.0 277.0,738.7 277.5,735.3 278.0,739.2 279.0,735.8 280.0,742.7 281.0,734.6 282.0,732.3 283.0,734.6 284.0,732.1 285.0,732.8 286.0,732.1 287.0,731.0 288.0,737.3 289.0,734.5 290.0,735.2 291.0,729.9 292.0,738.9 293.0,729.5 294.0,734.7 295.0,735.6 296.0,730.6 297.0,740.3 298.0,733.8 299.0,734.1 300.0,736.4 301.0,738.3 302.0,737.6 303.0,733.7 304.0,736.6 305.0,736.0 306.0,739.1 307.0,740.0 308.0,736.8 309.0,737.8 310.0,739.9 311.0,737.2 312.0,738.0 312.5,741.1 313.0,737.6 314.0,737.3 315.0,734.0 316.0,734.0 317.0,734.6 318.0,736.5 319.0,729.2 320.0,731.5 321.0,733.8 322.0,735.1 323.0,733.6 324.0,731.5 325.0,735.5 326.0,734.2 326.2,735.1 327.0,732.3 328.0,735.8 329.0,735.3 330.0,735.6 331.0,734.1 332.0,734.8 332.5,733.9 333.0,742.2 334.0,736.2 335.0,743.2 336.0,731.6 337.0,735.8 338.0,739.8 339.0,731.9 340.0,731.5 341.0,735.6 341.2,736.0 342.0,734.6 343.0,732.0 344.0,733.8 345.0,740.1 346.0,737.4 347.0,734.2 348.0,731.4 349.0,732.7 350.0,738.4 351.0,736.1 352.0,727.5 353.0,729.0 354.0,732.2 355.0,735.0 356.0,724.5 356.2,729.0 357.0,729.8 358.0,725.5 359.0,714.3 359.2,715.5 360.0,721.7 361.0,722.6 362.0,729.9 362.5,729.9 363.0,734.0 364.0,726.5 365.0,731.1 366.0,737.0 367.0,730.5 368.0,736.5 369.0,733.4 370.0,734.9 371.0,740.7 372.0,740.3 373.0,741.1 374.0,735.0 375.0,740.4 376.0,740.8 377.0,743.5 378.0,744.9 379.0,735.4 380.0,741.5 381.0,743.4 382.0,745.1 383.0,742.7 384.0,743.1 385.0,745.4 386.0,747.1 387.0,751.9 388.0,745.5 388.8,748.6 389.0,745.4 390.0,753.0 391.0,745.0 392.0,747.7 393.0,751.0 394.0,743.6 395.0,743.1 396.0,748.3 397.0,744.5 397.5,750.9 398.0,744.5 399.0,744.3 400.0,745.0 401.0,748.8 402.0,743.2 403.0,750.6 403.8,751.6 404.0,745.3 405.0,748.7 406.0,748.3 407.0,753.4 408.0,749.3 409.0,748.6 410.0,747.5 411.0,752.6 412.0,752.3 413.0,746.0 414.0,752.8 415.0,753.9 416.0,752.0 417.0,754.6 418.0,754.3 419.0,748.0 420.0,751.0 421.0,752.7 422.0,751.7 423.0,750.1 424.0,749.2 425.0,748.9 426.0,747.2 427.0,751.3 428.0,750.8 429.0,748.3 430.0,752.3 431.0,748.7 432.0,747.0 433.0,747.7 434.0,747.9 435.0,750.7 435.2,748.2 436.0,750.7 436.5,749.7 437.0,741.1 437.5,726.0 438.0,724.6 439.0,720.2 439.5,725.9 440.0,740.1 440.8,756.0 441.0,756.0 442.0,756.3 443.0,755.0 444.0,756.0 445.0,752.5 446.0,753.4 447.0,752.2 448.0,754.9 449.0,756.0 450.0,756.1 451.0,751.5 452.0,752.5 453.0,753.7 454.0,751.9 455.0,750.0 456.0,752.8 457.0,751.8 458.0,750.1 459.0,753.1 460.0,751.0 461.0,747.9 462.0,749.5 463.0,751.6 464.0,750.8 465.0,749.1 465.2,747.5 466.0,749.1 467.0,749.4 468.0,751.3 469.0,750.6 470.0,754.3 471.0,749.9 472.0,754.1 473.0,745.8 474.0,748.8 475.0,749.4 476.0,750.6 477.0,750.2 478.0,747.0 479.0,749.1 480.0,748.9 481.0,746.5 482.0,748.3 483.0,743.1 484.0,745.0 485.0,747.5 486.0,745.4 487.0,746.3 488.0,743.4 489.0,745.0 490.0,742.5 491.0,741.6 492.0,742.0 493.0,746.8 494.0,743.0 495.0,745.3 496.0,740.6 496.5,742.6 497.0,746.1 498.0,745.8 499.0,747.4 500.0,743.1 501.0,755.7 502.0,751.7 503.0,749.0 504.0,753.2 505.0,750.8 506.0,752.8 507.0,748.9 508.0,751.0 509.0,750.1 510.0,747.3 511.0,749.0 512.0,746.8 512.8,744.8 513.0,746.1 514.0,746.6 515.0,746.7 516.0,747.5 517.0,747.1 518.0,750.7 519.0,749.0 520.0,751.2 521.0,752.2 521.5,749.6 522.0,751.4 523.0,749.2 524.0,748.5 525.0,752.1 526.0,750.7 527.0,749.3 528.0,747.6 529.0,749.9 530.0,750.2 531.0,748.3 531.5,748.9 532.0,749.1 533.0,744.4 534.0,751.2 535.0,748.6 536.0,742.3 537.0,749.0 538.0,747.2 539.0,743.4 540.0,742.2 541.0,744.0 541.5,742.2 542.0,744.3 543.0,746.6 544.0,739.7 545.0,742.5 546.0,745.8 547.0,746.3 548.0,742.4 549.0,740.0 550.0,741.0 551.0,736.1 552.0,734.5 553.0,737.7 554.0,733.7 555.0,732.8 555.2,728.9 556.0,729.5 557.0,728.0 558.0,725.7 559.0,727.6 560.0,725.7 560.2,723.0 561.0,727.9 562.0,725.8 563.0,724.9 564.0,727.5 565.0,730.0 565.2,730.0 566.0,729.2 567.0,731.7 568.0,730.9 569.0,726.4 570.0,727.4 571.0,737.1 571.5,733.9 572.0,726.3 573.0,734.0 574.0,726.8 575.0,726.6 576.0,726.2 577.0,726.9 578.0,729.3 579.0,728.4 580.0,726.9 581.0,723.7 582.0,721.8 583.0,719.1 584.0,716.4 585.0,721.5 585.2,715.2 586.0,708.4 587.0,708.9 588.0,698.8 588.5,698.6 589.0,695.1 590.0,684.4 591.0,681.3 592.0,683.9 593.0,681.7 593.5,686.6 594.0,692.1 595.0,706.0 596.0,722.5 597.0,723.3 598.0,722.8 599.0,725.0 600.0,730.6 600.2,729.6 601.0,731.3 602.0,732.4 603.0,735.8 604.0,736.4 605.0,737.6 606.0,740.8 606.5,741.9 607.0,745.5 608.0,741.7 609.0,746.1 610.0,745.0 611.0,747.3 612.0,749.7 613.0,750.3 614.0,753.2 615.0,752.8 616.0,752.9 617.0,754.2 618.0,750.7 619.0,755.0 620.0,757.9 621.0,759.5 621.5,759.6 622.0,759.8 623.0,759.0 624.0,763.1 625.0,757.1 626.0,761.4 627.0,759.6 628.0,762.5 629.0,763.7 630.0,762.1 631.0,761.7 631.5,762.0 632.0,763.3 633.0,761.6 634.0,766.7 635.0,764.2 636.0,767.0 637.0,764.3 638.0,766.4 639.0,765.8 640.0,766.0 641.0,765.4 641.5,768.7 642.0,766.1 643.0,767.0 644.0,767.4 645.0,766.6 646.0,766.0 647.0,764.6 648.0,767.4 649.0,766.0 650.0,767.4 651.0,769.0 651.5,769.5 652.0,768.3 653.0,768.3 654.0,769.6 655.0,769.6 656.0,771.0 657.0,768.1 658.0,770.7 659.0,768.9 660.0,771.3 661.0,768.9 662.0,768.2 663.0,771.0 664.0,771.6 665.0,771.4 666.0,769.4 667.0,771.1 668.0,772.5 669.0,771.2 670.0,770.8 670.5,771.1 671.0,771.6 672.0,772.6 673.0,772.5 674.0,770.3 675.0,768.5 676.0,772.6 677.0,769.5 678.0,771.2 679.0,769.8 680.0,773.7 680.5,770.4 681.0,771.0 682.0,772.6 683.0,772.2 684.0,768.8 685.0,768.4 686.0,771.4 687.0,771.9 688.0,770.6 689.0,770.1 690.0,767.6 690.5,771.5 691.0,766.8 692.0,769.7 693.0,766.6 694.0,765.8 695.0,766.1 696.0,764.6 697.0,765.1 698.0,766.0 699.0,765.0 699.2,764.3 700.0,763.2 701.0,763.4 702.0,765.0 703.0,759.4 704.0,762.3 704.2,761.2 705.0,759.4 706.0,749.5 707.0,748.8 707.5,746.3 708.0,743.9 709.0,745.8 710.0,744.8 710.5,745.3 711.0,748.7 712.0,752.3 713.0,759.0 713.5,763.0 714.0,766.9 715.0,766.0 716.0,764.6 717.0,769.4 718.0,768.4 719.0,769.3 719.2,770.0 720.0,771.1 721.0,772.0 722.0,769.4 723.0,772.9 724.0,774.8 725.0,773.4 726.0,776.1 727.0,775.4 728.0,774.5 729.0,778.5 730.0,776.3 730.5,777.1 731.0,778.5 732.0,778.6 733.0,778.9 734.0,780.8 735.0,779.0 736.0,777.6 737.0,779.2 738.0,779.3 739.0,779.0 740.0,779.6 741.0,780.6 742.0,783.3 743.0,779.1 744.0,780.1 745.0,783.1 746.0,784.9 747.0,784.2 748.0,784.2 749.0,784.3 750.0,784.2 751.0,782.6 752.0,782.9 753.0,781.5 754.0,782.2 755.0,783.3 756.0,783.1 757.0,783.2 758.0,781.9 759.0,786.0 760.0,783.3 761.0,786.9 762.0,784.0 763.0,787.5 764.0,786.4 765.0,781.8 766.0,785.2 767.0,785.0 768.0,788.3 769.0,787.2 770.0,787.1 771.0,787.6 772.0,786.8 773.0,788.4 774.0,786.4 775.0,787.2 776.0,790.2 777.0,787.8 778.0,786.0 779.0,789.7 780.0,789.2 781.0,786.8 782.0,788.7 783.0,789.3 784.0,786.4 785.0,790.0 786.0,786.7 787.0,789.9 788.0,790.2 789.0,791.4 790.0,790.8 791.0,792.1 792.0,790.9 793.0,791.2 794.0,791.1 795.0,791.2 796.0,792.1 797.0,791.2 798.0,790.5 799.0,790.3 800.0,788.2 801.0,790.7 802.0,792.2 803.0,787.3 804.0,791.7 805.0,789.9 806.0,789.5 807.0,790.8 808.0,795.2 809.0,792.5 810.0,790.2 811.0,790.4 812.0,786.1 813.0,790.6 814.0,792.8 815.0,788.2 816.0,792.0 817.0,792.2 818.0,792.9 819.0,788.4 820.0,794.0 821.0,791.7 822.0,792.0 823.0,791.2 824.0,791.7 825.0,793.9 826.0,791.9 827.0,789.7 828.0,791.8 829.0,789.8 830.0,793.1 831.0,793.7 832.0,790.6 833.0,791.7 834.0,793.3 835.0,793.9 836.0,793.9 837.0,791.1 838.0,790.9 839.0,793.5 840.0,794.4 841.0,791.5 842.0,792.7 843.0,792.5 844.0,794.0 845.0,793.6 846.0,794.9 847.0,795.2 848.0,796.3 849.0,795.1 850.0,794.7 851.0,795.8 852.0,794.5 853.0,795.0 854.0,796.0 855.0,793.3 856.0,797.2 857.0,797.1 858.0,793.4 859.0,796.3 860.0,795.0 861.0,794.9 862.0,795.2 863.0,793.4 864.0,797.0 865.0,797.8 866.0,795.9 867.0,795.0 868.0,794.7 869.0,796.2 870.0,796.8 871.0,794.6 872.0,796.6 873.0,794.4 874.0,796.0 875.0,794.7 876.0,793.2 877.0,795.3 878.0,798.5 879.0,797.3 880.0,798.6 881.0,797.5 882.0,797.7 883.0,795.5 884.0,798.7 885.0,795.5 886.0,798.7 887.0,799.7 888.0,798.3 889.0,795.8 890.0,798.5 891.0,796.3 892.0,799.5 893.0,798.3 894.0,797.4 895.0,797.3 896.0,797.1 897.0,797.7 898.0,797.3 899.0,795.8 900.0,794.3 901.0,800.0 901.8,799.5 902.0,798.4 903.0,798.6 904.0,793.8 905.0,796.4 905.5,798.6" stroke="#000080" stroke-width="4"/>
<path class="c" d="M165.0,761.4 166.4,763.8 167.8,760.4 169.2,760.5 170.6,760.5 172.0,760.4 172.5,760.8 173.4,759.4 174.8,757.4 176.2,756.0 177.0,757.3 177.6,757.3 179.0,758.8 180.4,758.0 181.8,759.4 183.2,763.7 183.8,763.3 184.6,763.8 186.0,766.8 187.4,764.8 188.8,767.0 190.2,766.5 191.2,766.5 191.6,766.5 193.0,768.4 194.4,766.0 195.8,764.3 197.2,765.8 198.6,766.0 200.0,766.1 201.2,767.0 201.4,765.3 202.8,763.7 204.2,765.8 205.6,768.0 206.2,766.3 207.0,767.6 208.4,767.5 209.8,763.3 211.2,765.2 212.5,766.0 212.6,765.4 214.0,765.4 215.4,765.5 216.8,768.7 218.2,766.4 219.6,764.8 221.0,766.8 222.4,768.1 223.8,768.8 225.0,768.4 225.2,768.9 226.6,768.6 228.0,770.1 229.4,767.6 230.8,769.1 232.2,767.5 233.6,767.9 235.0,770.0 235.0,768.9 236.4,772.0 237.8,772.0 239.2,773.8 240.0,775.3 240.6,773.0 242.0,770.8 243.4,771.8 244.8,772.1 246.2,773.2 247.6,772.1 249.0,774.4 250.0,774.5 250.4,772.9 251.8,773.9 253.2,773.5 254.6,775.1 256.0,774.9 257.4,771.2 258.8,775.2 258.8,770.1 260.2,772.1 261.6,774.2 263.0,775.7 264.4,777.1 265.8,777.0 267.2,775.8 267.5,774.6 268.6,776.9 270.0,779.1 271.4,774.4 272.8,774.7 274.2,772.4 275.6,774.2 276.2,769.7 277.0,774.8 278.4,772.6 279.8,774.7 281.2,776.5 282.6,771.6 284.0,773.1 285.4,772.6 286.8,775.3 287.5,776.0 288.2,775.6 289.6,776.5 291.0,775.3 292.4,774.3 293.8,775.2 295.2,776.5 296.6,776.7 298.0,776.6 299.4,778.6 300.0,774.6 300.8,776.4 302.2,778.5 303.6,778.5 305.0,780.4 306.4,778.9 307.5,780.4 307.8,779.1 309.2,779.3 310.6,782.2 312.0,781.7 313.4,778.8 314.8,781.0 316.2,781.3 317.6,782.0 319.0,781.7 320.0,781.5 320.4,778.5 321.8,782.5 323.2,780.9 324.6,781.8 326.0,781.5 327.4,782.0 328.8,783.6 330.2,780.7 331.6,781.4 332.5,781.5 333.0,783.3 334.4,783.4 335.8,780.7 337.2,782.0 338.6,783.8 340.0,785.6 341.4,784.9 342.8,785.6 343.8,783.6 344.2,785.1 345.6,783.7 347.0,784.7 348.4,782.7 349.8,781.6 350.5,781.0 351.2,782.2 352.6,782.4 354.0,783.5 355.4,783.0 356.8,784.6 358.2,787.4 359.6,786.3 360.0,786.4 361.0,787.1 362.4,784.7 363.8,785.5 365.2,788.7 366.6,786.6 368.0,785.9 369.4,786.7 370.8,786.7 372.2,786.7 372.5,787.2 373.6,785.8 375.0,786.4 376.4,787.5 377.8,784.9 379.2,787.1 380.0,787.5 380.6,785.7 382.0,790.3 383.4,789.6 384.8,792.6 386.2,790.1 387.6,792.0 388.8,792.5 389.0,794.4 390.4,794.5 391.8,792.4 393.2,790.9 394.6,791.9 396.0,792.8 396.2,792.2 397.4,789.6 398.8,790.8 400.2,790.0 401.6,788.9 403.0,788.2 403.8,789.1 404.4,785.5 405.8,784.2 407.2,785.6 408.6,784.0 409.0,782.4 410.0,781.0 411.4,779.1 412.8,781.0 414.0,778.9 414.2,777.2 415.6,778.1 417.0,773.9 418.4,770.8 419.0,771.3 419.8,770.3 421.2,771.0 422.6,773.9 424.0,773.5 425.4,775.7 426.5,775.5 426.8,774.0 428.2,777.5 429.6,779.9 431.0,778.1 432.4,780.6 433.8,780.3 434.0,782.6 435.2,782.7 436.6,783.8 438.0,782.4 439.4,783.2 440.8,786.5 442.2,785.9 443.6,784.7 445.0,789.7 446.4,789.7 446.5,789.3 447.8,787.8 449.2,786.8 450.6,784.0 452.0,784.8 453.4,783.3 454.8,785.1 455.2,781.9 456.2,784.2 457.6,782.0 459.0,782.7 460.4,779.1 461.8,777.3 462.8,778.7 463.2,778.4 464.6,778.9 466.0,778.3 467.4,775.5 468.8,777.9 470.2,776.6 471.5,774.9 471.6,775.6 473.0,775.9 474.4,779.8 475.8,781.6 476.5,780.6 477.2,781.0 478.6,778.7 480.0,777.1 480.2,776.8 481.4,776.8 482.8,778.7 484.2,783.2 485.6,784.2 486.5,783.2 487.0,782.6 488.4,783.7 489.8,783.7 491.2,781.3 492.6,781.6 494.0,786.0 495.4,784.6 496.5,783.1 496.8,785.7 498.2,782.8 499.6,783.1 500.0,787.6 501.0,785.2 502.4,782.0 503.8,784.1 504.8,783.0 505.2,782.8 506.6,784.5 508.0,786.9 509.4,785.5 509.6,787.7 510.8,788.4 512.2,786.4 513.6,787.7 514.5,787.3 515.0,788.0 516.4,789.0 517.8,787.0 519.2,790.2 520.6,789.3 520.9,787.9 522.0,787.6 523.4,788.1 524.8,789.6 525.7,787.5 526.2,789.5 527.6,789.3 528.9,794.6 529.0,792.5 530.4,793.1 531.8,794.0 533.2,796.7 533.7,796.8 534.6,792.7 536.0,792.2 536.9,789.6 537.4,789.5 538.8,791.9 540.2,794.7 540.2,793.8 541.6,793.4 543.0,792.7 544.2,793.0 544.4,794.6 545.8,793.6 547.2,793.9 548.2,794.4 548.6,796.1 550.0,795.3 551.4,795.3 552.2,796.1 552.8,797.1 554.2,794.9 555.4,788.3 555.6,790.4 557.0,794.7 558.4,798.0 559.8,795.2 560.2,799.7 561.2,798.9 562.6,792.5 564.0,797.0 564.3,790.1 565.4,795.5 566.8,797.4 567.5,799.5 568.2,802.1 569.6,799.3 570.7,800.5 571.0,801.4 572.4,803.3 573.8,805.4 574.7,807.3 575.2,805.1 576.6,803.1 578.0,799.4 578.7,803.1 579.4,802.6 580.8,801.8 582.2,807.6 582.7,807.8 583.6,802.6 585.0,804.7 586.4,801.4 586.7,800.5 587.8,799.9 589.2,804.1 590.6,801.6 591.6,805.6 592.0,803.6 593.4,804.5 594.8,799.6 594.8,801.0 596.2,803.0 597.6,805.6 598.0,805.0 599.0,806.2 600.4,808.0 601.8,810.5 602.0,811.2 603.2,811.1 604.6,810.3 606.0,809.9 606.0,806.4 607.4,807.6 608.8,809.6 609.2,809.5 610.2,807.2 611.6,808.4 612.4,804.9 613.0,804.8 614.4,806.0 615.7,809.2 615.8,808.1 617.2,807.4 618.6,808.4 618.9,810.7 620.0,807.4 621.4,805.0 622.8,805.7 623.7,806.2 624.2,807.7 625.6,808.1 626.9,812.7 627.0,809.4 628.4,811.1 629.8,813.9 631.2,813.7 631.7,813.8 632.6,813.4 634.0,809.5 635.4,808.2 635.7,808.2 636.8,806.0 638.2,805.2 638.2,807.0 639.6,807.9 641.0,809.4 641.4,812.1 642.4,809.7 643.8,811.0 645.2,809.9 645.4,808.3 646.6,812.2 648.0,811.9 649.4,814.4 649.4,817.2 650.8,816.2 652.2,814.6 653.6,810.8 654.2,810.4 655.0,810.8 656.4,811.8 656.6,811.8 657.8,816.4 658.0,817.0 659.2,816.8 660.6,817.5 662.0,818.1 663.4,818.0 664.8,816.8 665.5,819.5 666.2,817.5 667.6,815.5 669.0,815.6 670.4,812.7 671.8,813.3 673.2,812.1 673.5,814.2 674.6,812.5 676.0,816.1 677.4,818.5 678.8,820.4 680.2,822.4 680.5,821.8 681.6,819.9 683.0,817.8 684.2,815.3 684.4,813.9 685.8,819.4 687.2,820.7 688.6,819.6 690.0,823.8 690.5,821.9 691.4,823.0 692.8,824.1 694.2,825.5 695.6,824.5 696.8,826.4 697.0,826.4 698.4,823.9 699.8,822.7 701.2,820.0 702.6,821.0 704.0,818.6 704.2,818.4 705.4,819.3 706.8,822.4 708.2,821.1 709.2,824.2 709.6,820.0 711.0,824.5 712.4,825.6 713.8,824.8 715.2,824.6 716.6,825.0 716.8,824.4 718.0,824.6 719.4,823.6 720.8,825.3 722.2,826.7 723.5,828.5 723.6,827.5 725.0,828.1 726.4,823.2 727.8,823.2 729.2,823.5 730.5,821.8 730.6,823.5 732.0,824.9 733.4,822.1 734.8,820.9 736.0,820.4 736.2,820.0 737.6,822.3 739.0,823.5 740.4,824.4 741.8,825.8 743.2,828.3 744.2,826.4 744.6,827.3 746.0,825.7 747.4,827.2 748.8,822.8 749.2,823.6 750.2,822.9 751.6,826.3 753.0,827.7 754.4,826.5 755.8,827.1 757.2,827.8 758.0,828.3 758.6,828.1 760.0,830.8 761.4,831.1 762.8,830.5 764.2,829.1 765.6,829.0 767.0,830.1 768.0,829.8 768.4,829.3 769.8,831.4 771.2,828.9 772.6,833.0 774.0,831.9 775.4,832.6 776.8,832.0 776.8,832.4 778.2,832.0 779.6,830.7 781.0,827.5 781.8,831.8 782.4,830.4 783.8,831.2 785.2,831.9 786.6,832.9 788.0,833.0 789.4,834.1 790.8,830.9 792.2,833.8 793.0,834.5 793.6,834.4 795.0,833.9 796.4,833.3 797.8,835.4 799.2,837.6 800.6,837.1 801.8,834.5 802.0,838.0 803.4,836.8 804.8,838.5 806.2,840.6 807.5,839.1 807.6,840.6 809.0,836.3 810.4,834.6 811.0,831.5 811.8,830.2 813.2,830.0 814.6,830.3 816.0,834.3 817.4,834.1 818.8,832.1 820.2,832.0 821.6,832.3 823.0,830.9 824.4,831.6 825.8,833.8 827.2,830.5 828.0,834.2 828.6,833.6 830.0,832.1 831.4,832.6 832.8,837.0 833.0,832.7 834.2,835.2 835.6,832.5 836.8,832.2 837.0,833.7 838.4,833.0 839.8,835.5 841.2,834.3 842.6,835.3 844.0,835.5 844.2,835.4 845.4,835.7 846.8,838.7 848.2,834.4 849.6,834.0 851.0,834.9 851.8,837.6 852.4,835.2 853.8,837.3 855.2,836.6 856.6,838.3 858.0,839.1 859.4,838.9 860.5,839.5 860.8,844.6 862.2,837.1 863.6,836.3 865.0,833.1 865.5,833.7 866.4,836.2 867.8,834.7 869.2,837.0 870.5,836.3 870.6,838.6 872.0,839.5 873.4,839.5 874.8,840.6 876.2,838.7 877.6,837.8 879.0,839.2 880.4,837.5 881.8,841.1 883.0,841.8 883.2,838.0 884.6,838.3 886.0,842.0 887.4,841.6 888.8,837.3 890.2,839.2 891.6,837.3 893.0,838.6 894.4,839.6 895.8,840.6 897.2,840.0 898.6,841.4 900.0,842.1 901.4,840.9 901.8,840.0 902.8,842.7 904.2,839.6 905.5,839.9" stroke="#1268D8" stroke-width="4"/>
<path class="c" d="M163.5,840.2 165.0,832.2 165.7,842.5 167.0,862.2 167.9,854.9 170.1,837.9 170.5,835.8 172.3,852.1 173.8,865.2 174.5,858.1 176.7,841.1 177.0,840.2 178.9,845.6 181.1,851.2 181.2,852.6 183.3,837.9 184.2,833.7 185.5,837.4 187.0,845.4 187.7,852.6 189.5,872.9 189.9,866.4 192.0,828.7 192.1,829.2 193.8,840.7 194.3,832.7 196.2,810.8 196.5,812.9 198.7,846.9 198.8,847.2 200.9,820.1 201.2,815.3 203.1,815.7 203.8,817.1 205.3,840.2 206.2,855.0 207.5,856.7 208.8,858.2 209.7,844.7 210.8,832.8 211.9,845.4 213.0,856.0 214.1,859.6 216.2,865.0 216.3,865.0 218.5,850.6 219.5,845.1 220.7,843.4 222.5,840.0 222.9,842.0 225.0,848.4 225.1,848.2 227.3,838.0 228.0,835.2 229.5,835.6 230.8,839.7 231.7,832.8 233.0,824.0 233.9,833.7 236.1,857.2 236.2,857.3 238.3,844.3 240.0,833.7 240.5,837.0 242.7,850.1 243.8,855.8 244.9,845.5 247.0,826.1 247.1,827.2 249.3,847.8 250.0,854.4 251.5,844.5 253.7,831.0 253.8,832.3 255.9,850.8 256.2,853.8 258.1,855.3 259.5,857.4 260.3,852.0 262.0,841.3 262.5,851.9 264.5,887.9 264.7,885.2 266.9,846.6 267.5,838.1 269.1,859.8 269.5,866.0 271.3,851.1 272.5,843.3 273.5,833.9 275.0,821.1 275.7,828.7 277.9,852.1 278.0,852.9 280.1,863.3 280.5,865.3 282.3,842.7 283.0,835.0 284.5,860.2 285.0,866.4 286.7,826.9 287.0,821.7 288.9,851.8 289.5,861.5 291.1,844.7 292.0,834.8 293.3,824.1 295.0,807.3 295.5,819.5 297.5,866.5 297.7,867.5 299.9,874.0 301.2,876.2 302.1,873.0 304.3,858.9 304.5,856.2 306.5,848.0 308.7,835.0 308.8,833.2 310.9,844.6 312.5,850.8 313.1,851.2 315.3,841.8 316.2,837.7 317.5,841.6 319.7,845.7 320.0,847.1 321.9,855.9 323.8,865.0 324.1,862.3 326.2,850.0 326.3,850.8 328.5,842.2 330.0,837.1 330.7,845.1 332.5,862.1 332.9,860.4 335.1,853.4 335.5,851.0 337.3,844.8 338.8,838.8 339.5,840.8 341.7,849.7 342.0,850.0 343.9,859.5 345.0,863.4 346.1,854.2 348.3,834.3 348.8,829.4 350.5,862.3 350.5,862.3 352.7,828.7 353.0,825.0 354.9,851.4 355.5,859.3 357.1,842.4 358.0,833.1 359.3,843.3 360.0,849.8 361.5,835.8 363.0,822.8 363.7,829.8 365.5,846.8 365.9,843.3 368.0,824.1 368.1,826.3 370.3,842.5 371.2,849.9 372.5,841.6 373.8,835.6 374.7,840.2 376.9,858.9 377.0,860.6 379.1,834.3 380.0,824.2 381.3,820.2 382.5,817.4 383.5,818.0 385.7,829.1 386.2,829.5 387.9,841.6 388.8,848.6 390.1,842.2 392.3,827.8 392.5,826.6 394.5,851.3 395.0,857.3 396.7,840.1 398.8,816.0 398.9,817.7 401.1,851.8 402.0,864.0 403.3,847.6 405.0,825.5 405.5,823.2 407.5,814.2 407.7,814.8 409.0,816.3 409.9,821.3 411.5,833.1 412.1,834.9 414.3,849.9 414.5,850.2 416.5,856.6 417.8,860.9 418.7,853.7 420.9,839.1 421.0,838.3 423.1,845.1 424.0,848.2 425.3,848.7 427.0,851.9 427.5,850.8 429.5,842.2 429.7,841.1 431.9,823.5 432.0,821.4 434.1,838.0 434.5,843.2 436.3,850.2 437.0,855.0 438.5,858.8 440.2,863.2 440.7,860.4 442.8,848.0 442.9,848.1 445.1,849.4 446.5,851.6 447.3,850.3 449.5,845.8 450.2,843.8 451.7,837.4 453.5,829.9 453.9,833.6 456.1,839.7 456.5,840.2 458.3,833.3 460.2,823.7 460.5,826.7 462.7,845.2 462.8,844.7 464.9,836.9 466.0,832.9 467.1,842.4 469.0,856.9 469.3,856.4 471.5,845.8 472.0,845.0 473.7,836.0 475.2,827.0 475.9,834.6 478.1,852.6 478.5,855.5 480.3,836.6 481.5,824.3 482.5,833.7 484.0,850.0 484.7,853.3 486.9,858.3 487.0,858.9 489.1,850.0 490.2,845.5 491.3,840.9 493.5,832.2 493.5,831.5 495.7,840.3 496.0,841.8 497.9,855.3 499.0,863.0 500.1,849.4 502.0,831.1 502.3,833.3 504.5,847.9 505.2,852.3 506.7,847.9 508.5,840.6 508.9,841.2 511.1,834.1 511.5,831.6 513.3,845.6 514.0,850.0 515.5,853.0 517.7,861.2 517.8,860.6 519.9,869.5 521.0,875.4 522.1,865.8 523.5,851.9 524.3,852.0 526.5,843.4 526.5,843.8 528.7,858.6 529.0,859.2 530.9,845.8 532.0,836.4 533.1,839.7 534.5,841.0 535.3,850.7 537.0,869.7 537.5,865.6 539.7,849.0 540.2,845.2 541.9,859.5 542.8,865.8 544.1,856.9 546.0,842.2 546.3,844.6 548.5,848.6 549.0,849.7 550.7,843.6 552.0,838.8 552.9,843.1 555.1,860.3 555.2,860.7 557.3,840.3 557.8,834.1 559.5,860.3 560.2,872.5 561.7,862.1 562.8,852.7 563.9,860.3 565.2,867.1 566.1,868.4 568.3,870.8 568.5,869.3 570.5,858.1 571.0,856.1 572.7,863.3 574.0,871.2 574.9,868.3 577.0,865.1 577.1,865.0 579.3,856.1 580.2,852.3 581.5,855.9 583.5,865.6 583.7,866.6 585.9,855.6 586.5,851.8 588.1,860.6 589.5,870.6 590.3,872.5 592.5,880.8 592.8,882.6 594.7,876.4 596.0,872.1 596.9,870.8 599.0,866.9 599.1,865.8 601.3,885.6 601.5,887.2 603.5,873.9 604.0,869.0 605.7,882.2 606.5,887.9 607.9,878.2 609.0,871.4 610.1,868.7 612.3,862.6 612.8,861.0 614.5,858.9 615.2,857.7 616.7,853.5 618.5,850.0 618.9,856.1 621.1,883.9 621.5,890.9 623.3,878.1 624.5,867.8 625.5,872.4 627.0,877.7 627.7,873.5 629.9,862.4 630.2,861.0 632.1,884.7 633.2,899.6 634.3,893.2 636.5,882.4 636.5,881.9 638.7,897.1 639.5,901.9 640.9,890.6 642.0,877.5 643.1,888.8 644.5,901.3 645.3,897.0 647.5,883.1 647.8,881.1 649.7,873.3 650.2,873.2 651.9,887.0 652.8,893.7 654.1,891.0 656.0,887.6 656.3,889.4 658.0,896.6 658.5,896.5 660.5,888.2 660.7,888.7 662.9,892.8 663.5,893.3 665.1,895.0 666.0,896.2 667.3,885.2 668.5,873.1 669.5,876.7 670.5,883.9 671.7,895.0 672.5,902.8 673.9,886.1 675.0,873.4 676.1,881.6 677.5,892.2 678.3,887.3 680.0,874.9 680.5,878.3 682.5,887.9 682.7,891.2 684.2,903.7 684.9,893.3 686.0,873.4 687.1,885.1 688.5,899.1 689.3,896.0 691.0,886.7 691.5,889.1 693.7,903.6 694.2,907.2 695.9,897.9 696.8,892.2 698.1,901.4 699.2,909.8 700.3,904.2 701.8,895.4 702.5,900.8 704.2,911.9 704.7,909.5 706.8,893.8 706.9,894.3 709.1,908.2 709.2,909.7 711.3,889.7 712.5,878.8 713.5,887.7 715.0,901.3 715.7,903.6 717.9,910.1 719.2,912.8 720.1,910.6 722.3,908.1 723.0,905.3 724.5,906.6 726.7,904.8 728.0,905.6 728.9,902.7 731.1,900.0 731.8,899.9 733.3,900.3 735.0,902.8 735.5,902.5 737.7,897.6 738.5,894.4 739.9,897.8 741.8,902.4 742.1,902.8 744.3,906.2 746.0,907.2 746.5,908.0 748.7,901.8 750.9,896.5 751.0,897.1 753.1,902.4 755.3,906.8 756.8,908.8 757.5,908.0 759.7,898.3 760.0,896.3 761.9,902.6 763.0,904.2 764.1,906.5 766.3,911.1 766.8,910.1 768.5,908.5 770.5,906.8 770.7,905.8 772.9,908.7 774.2,906.0 775.1,908.6 777.3,912.6 777.5,911.1 779.5,913.7 781.7,913.3 783.0,914.5 783.9,912.2 786.1,910.4 788.0,907.7 788.3,908.9 790.5,914.1 792.5,915.1 792.7,914.0 794.9,908.8 796.0,908.3 797.1,907.5 799.3,904.7 800.0,907.2 801.5,910.6 803.5,916.7 803.7,917.3 805.9,910.3 807.5,906.2 808.1,904.1 810.3,905.9 812.5,906.0 813.0,906.7 814.7,911.4 816.8,916.8 816.9,917.6 819.1,910.6 821.0,906.5 821.3,907.7 823.5,908.3 825.7,911.0 826.0,912.6 827.9,911.8 830.1,910.0 831.8,908.2 832.3,910.5 834.5,913.9 836.7,919.0 836.8,917.7 838.9,916.3 841.1,913.9 841.8,913.7 843.3,912.8 845.5,911.2 847.7,910.8 848.0,912.2 849.9,909.9 852.1,909.0 853.0,908.5 854.3,912.0 856.5,916.3 858.0,917.0 858.7,918.1 860.9,913.7 863.0,911.2 863.1,912.3 865.3,911.2 867.5,908.6 868.0,908.8 869.7,911.9 871.9,911.9 873.0,915.1 874.1,916.2 876.3,919.0 878.0,920.7 878.5,920.1 880.7,918.8 882.9,915.2 883.0,916.3 885.1,914.6 887.3,914.3 888.0,913.9 889.5,912.6 891.7,908.2 893.0,906.1 893.9,909.2 896.1,920.2 896.8,923.8 898.3,924.7 899.2,924.5 900.5,921.1 901.8,919.0 902.7,916.5 904.9,915.9 905.5,913.8" stroke="#1F9388" stroke-width="4.3"/>
<path class="c" d="M165.0,877.5 166.5,877.6 168.0,878.2 169.5,877.3 171.0,878.5 172.5,879.9 174.0,880.7 175.0,880.0 175.5,880.9 177.0,881.3 178.5,881.7 180.0,881.7 181.5,881.9 183.0,882.3 183.8,882.3 184.5,882.5 186.0,881.2 187.5,880.9 189.0,879.4 190.0,878.2 190.5,877.7 192.0,875.3 193.5,877.0 195.0,876.4 196.5,874.8 197.5,874.4 198.0,875.3 199.5,878.7 201.0,880.5 202.5,881.8 203.8,884.5 204.0,884.6 205.5,886.8 207.0,888.5 208.5,887.9 210.0,888.6 211.5,890.8 212.5,890.4 213.0,891.7 214.5,891.8 216.0,893.1 217.5,894.3 219.0,894.7 220.5,896.7 222.0,897.1 222.5,897.3 223.5,895.9 225.0,894.5 226.5,895.0 228.0,895.6 229.5,895.7 231.0,894.5 232.5,896.3 234.0,897.1 235.0,898.0 235.5,898.7 237.0,898.9 238.5,901.0 240.0,900.4 241.5,900.5 243.0,900.2 244.5,900.4 246.0,900.3 246.2,900.1 247.5,901.6 249.0,901.4 250.5,904.2 252.0,904.3 253.5,905.6 255.0,905.4 256.5,907.3 258.0,908.1 259.5,908.8 261.0,910.0 262.5,910.7 264.0,912.0 265.5,913.1 267.0,914.5 268.5,915.6 270.0,916.5 271.5,915.5 273.0,915.3 274.5,914.1 275.0,914.2 276.0,913.9 277.5,915.4 279.0,914.9 280.5,916.3 282.0,915.6 283.5,915.6 285.0,917.8 286.5,917.5 287.5,917.2 288.0,916.8 289.5,915.4 291.0,914.0 292.5,913.2 294.0,914.2 295.5,913.5 297.0,914.6 298.5,913.9 300.0,914.9 301.5,914.5 302.5,914.3 303.0,914.5 304.5,914.1 306.0,915.4 307.5,916.1 309.0,915.0 310.5,915.4 312.0,917.4 313.5,917.7 315.0,917.1 316.5,918.2 318.0,917.8 319.5,916.5 321.0,917.6 322.5,917.6 324.0,916.8 325.0,917.3 325.5,917.4 327.0,917.5 328.5,919.3 330.0,918.9 331.5,918.6 332.5,919.9 333.0,920.5 334.5,918.1 336.0,917.6 337.5,917.8 339.0,915.7 340.0,914.4 340.5,914.1 342.0,914.3 343.5,914.8 345.0,914.1 346.5,914.2 348.0,914.4 349.5,913.3 350.0,913.1 351.0,912.6 352.5,911.8 354.0,910.1 355.5,909.4 357.0,909.0 357.5,909.1 358.5,911.8 360.0,913.2 361.2,916.8 361.5,916.9 363.0,918.5 364.5,919.7 366.0,920.3 367.5,923.2 369.0,924.8 370.5,924.3 372.0,925.5 373.5,925.6 375.0,927.4 376.5,928.0 377.5,928.4 378.0,928.2 379.5,929.1 381.0,930.4 382.5,930.6 384.0,931.3 385.5,932.0 387.0,931.4 387.5,934.0 388.5,933.4 390.0,934.7 391.5,934.2 393.0,936.5 394.5,936.6 396.0,937.5 397.5,938.2 399.0,938.0 400.5,939.2 402.0,939.7 403.5,938.6 405.0,939.0 406.5,939.4 408.0,940.1 409.0,938.8 409.5,939.5 411.0,939.8 412.5,938.8 414.0,938.7 415.5,939.6 417.0,938.8 418.5,938.0 419.0,938.6 420.0,939.4 421.5,939.2 423.0,939.3 424.5,939.2 426.0,939.1 427.5,939.8 429.0,940.5 430.5,940.7 432.0,940.3 433.5,942.1 435.0,941.7 436.5,942.3 438.0,942.6 439.5,943.2 441.0,942.7 441.5,943.9 442.5,943.6 444.0,942.7 445.5,941.5 447.0,942.6 448.5,943.0 450.0,942.6 451.5,942.0 453.0,942.8 454.0,942.1 454.5,943.3 456.0,942.5 457.5,943.6 459.0,943.2 460.5,942.6 462.0,943.4 462.8,943.5 463.5,943.9 465.0,941.9 466.5,942.7 468.0,941.6 469.0,940.8 469.5,941.4 471.0,941.0 472.5,941.6 474.0,941.2 475.5,941.1 477.0,940.7 478.5,941.7 479.0,941.4 480.0,941.0 481.5,940.4 483.0,940.7 484.5,939.6 486.0,939.1 487.5,939.0 489.0,938.4 490.2,939.5 490.5,939.0 492.0,939.4 493.5,940.3 495.0,940.9 496.5,942.2 498.0,942.7 499.0,943.1 499.5,943.4 501.0,941.9 502.5,941.2 504.0,940.6 505.5,940.4 507.0,940.1 508.5,940.5 509.0,939.4 510.0,939.7 511.5,939.0 513.0,938.3 514.5,939.4 516.0,939.1 517.5,937.4 519.0,937.8 520.5,938.4 522.0,937.3 523.5,937.7 525.0,936.6 526.5,937.9 528.0,936.0 529.0,936.5 529.5,936.0 531.0,935.4 532.5,936.1 534.0,936.2 535.5,935.3 537.0,934.7 538.5,935.0 539.0,935.2 540.0,934.7 541.5,934.4 543.0,934.0 544.5,933.9 546.0,933.2 547.5,933.5 549.0,932.5 550.5,932.4 552.0,931.6 553.5,932.3 555.0,932.0 556.5,931.9 558.0,930.5 559.0,930.4 559.5,930.2 561.0,930.3 562.5,930.3 564.0,930.0 565.2,930.6 565.5,931.0 567.0,929.9 568.5,928.7 570.0,929.1 571.5,927.6 573.0,926.9 574.0,927.1 574.5,926.6 576.0,923.7 577.5,921.9 579.0,921.8 580.5,919.3 581.5,919.2 582.0,918.3 583.5,914.1 585.0,910.0 585.2,909.1 586.5,904.3 588.0,898.7 588.2,898.1 589.5,899.2 591.0,901.9 592.5,909.2 594.0,917.9 595.5,925.1 597.0,931.1 598.5,935.0 600.0,937.7 601.5,940.8 602.8,943.3 603.0,943.6 604.5,945.6 606.0,947.8 607.5,949.4 609.0,951.8 610.5,953.4 611.5,955.1 612.0,956.2 613.5,955.9 615.0,958.8 616.5,959.2 618.0,960.7 619.5,962.6 621.0,963.9 621.5,964.0 622.5,963.1 624.0,964.7 625.5,965.7 627.0,965.5 628.5,966.7 630.0,968.2 631.5,967.6 633.0,968.5 634.0,968.2 634.5,968.3 636.0,970.0 637.5,969.1 639.0,970.2 640.5,969.9 642.0,970.5 643.5,971.0 645.0,972.0 646.5,971.1 648.0,973.1 649.5,973.5 651.0,972.4 652.5,972.5 654.0,972.5 655.5,974.7 657.0,974.4 658.0,974.0 658.5,975.3 660.0,975.1 661.5,975.5 663.0,975.6 664.5,975.4 666.0,975.0 667.5,975.1 668.0,976.3 669.0,975.2 670.5,974.8 672.0,974.6 673.5,975.0 675.0,975.0 676.5,975.5 678.0,974.0 679.5,975.2 680.5,974.4 681.0,975.6 682.5,974.3 684.0,974.3 685.5,973.8 687.0,973.5 688.5,973.3 690.0,972.6 690.5,973.3 691.5,973.2 693.0,970.9 694.5,969.4 696.0,968.8 697.5,967.7 698.0,967.7 699.0,965.8 700.5,963.5 702.0,962.6 703.0,960.4 703.5,960.2 705.0,958.2 706.2,957.7 706.5,957.1 708.0,960.6 709.2,962.8 709.5,964.2 711.0,967.9 712.5,969.5 714.0,972.4 714.2,974.1 715.5,973.7 717.0,976.2 718.5,976.7 720.0,977.9 720.5,978.7 721.5,979.2 723.0,979.6 724.5,980.1 726.0,980.5 727.5,982.6 729.0,981.5 730.5,982.5 732.0,983.4 733.0,984.0 733.5,984.1 735.0,984.8 736.5,984.4 738.0,985.2 739.5,984.7 741.0,986.1 742.5,986.1 744.0,987.5 745.5,987.5 747.0,987.3 748.0,988.3 748.5,988.3 750.0,988.5 751.5,988.9 753.0,988.5 754.5,989.3 756.0,990.3 757.5,990.3 759.0,990.9 760.5,992.4 762.0,991.9 763.0,991.4 763.5,992.2 765.0,993.0 766.5,992.2 768.0,992.4 769.5,993.3 771.0,993.5 772.5,993.1 774.0,993.4 775.5,993.7 777.0,994.3 778.5,994.7 780.0,994.3 781.5,995.3 783.0,995.4 784.5,995.6 786.0,996.1 787.5,995.4 789.0,997.2 790.5,997.1 792.0,997.7 793.5,997.2 795.0,997.2 796.5,998.0 798.0,997.1 799.5,998.0 801.0,998.1 802.5,999.7 804.0,999.4 805.5,998.9 807.0,998.9 808.0,998.9 808.5,999.8 810.0,999.3 811.5,999.3 813.0,999.5 814.5,1001.0 816.0,1000.4 817.5,1001.1 819.0,1000.4 820.5,1001.5 822.0,1000.9 823.5,1001.0 825.0,1000.2 826.5,1001.9 828.0,1002.1 829.5,1001.6 831.0,1002.4 832.5,1002.4 833.0,1001.0 834.0,1001.3 835.5,1001.7 837.0,1003.2 838.5,1002.3 840.0,1003.3 841.5,1003.0 843.0,1003.2 844.5,1003.0 846.0,1003.1 847.5,1003.5 849.0,1003.6 850.5,1003.1 852.0,1004.5 853.5,1004.2 855.0,1003.7 856.5,1004.5 858.0,1004.9 859.5,1004.7 861.0,1005.1 862.5,1005.0 864.0,1004.8 865.5,1004.7 867.0,1005.0 868.5,1005.6 870.0,1004.8 871.5,1005.7 873.0,1005.1 874.5,1005.9 876.0,1005.3 877.5,1006.0 879.0,1006.0 880.5,1005.5 882.0,1006.9 883.0,1006.1 883.5,1006.9 885.0,1007.1 886.5,1006.1 888.0,1006.8 889.5,1006.3 891.0,1006.3 892.5,1005.9 894.0,1006.8 895.5,1007.6 897.0,1006.4 898.5,1008.0 900.0,1008.0 901.5,1009.0 901.8,1007.5 903.0,1007.8 904.5,1007.5 905.5,1007.9" stroke="#FF1493" stroke-width="4"/>
<path class="c" d="M165.0,946.2 166.3,945.5 167.6,946.0 168.9,942.8 170.2,944.4 171.2,941.1 171.5,942.9 172.8,943.5 174.1,945.5 175.4,944.9 176.7,944.8 178.0,947.6 179.3,948.5 180.0,946.2 180.6,947.9 181.9,946.8 183.2,947.7 184.5,948.1 185.8,946.6 187.1,948.3 188.4,947.3 189.7,947.6 190.0,948.2 191.0,945.7 192.3,945.2 193.6,946.0 194.9,945.3 196.2,944.5 197.5,941.9 198.0,942.8 198.8,944.5 200.1,945.3 201.4,943.7 202.7,944.6 203.8,947.9 204.0,948.9 205.3,947.4 206.6,948.4 207.9,947.5 209.2,947.4 210.5,947.4 211.2,947.2 211.8,947.0 213.1,950.7 214.4,950.8 215.7,950.3 217.0,951.7 217.5,951.4 218.3,952.6 219.6,949.9 220.9,950.4 222.2,951.0 222.5,950.6 223.5,951.3 224.8,950.1 226.1,953.1 227.4,952.9 228.7,955.3 230.0,954.4 231.3,957.3 232.5,956.7 232.6,957.1 233.9,956.2 235.2,956.5 236.5,956.8 237.8,958.7 239.1,957.4 240.4,958.1 241.7,959.8 242.5,959.3 243.0,958.8 244.3,960.4 245.6,959.6 246.9,960.5 248.2,963.6 249.5,967.1 250.0,966.7 250.8,967.1 252.1,964.6 253.4,963.1 254.7,964.5 256.0,961.7 257.3,959.5 258.6,962.8 259.9,963.2 260.0,962.8 261.2,963.6 262.5,962.6 263.8,962.0 265.1,960.3 266.4,961.2 267.5,960.0 267.7,960.9 269.0,964.0 270.3,962.7 271.6,963.4 272.9,962.8 274.2,967.0 275.5,962.5 276.8,964.2 277.5,966.5 278.1,964.8 279.4,965.1 280.7,966.9 282.0,967.4 283.3,967.7 284.6,966.3 285.9,968.4 287.2,966.6 287.5,967.0 288.5,967.1 289.8,968.8 291.1,968.3 292.4,967.9 293.7,969.3 295.0,968.4 295.0,968.9 296.3,968.9 297.6,968.4 298.9,967.6 300.2,967.1 301.5,969.4 302.5,965.7 302.8,968.5 304.1,968.2 305.4,969.1 306.7,968.8 308.0,971.5 309.3,971.8 310.6,974.4 311.9,973.5 312.5,973.3 313.2,973.1 314.5,975.4 315.8,974.9 317.1,973.8 318.4,975.9 319.7,974.3 321.0,973.5 322.3,974.3 322.5,972.5 323.6,973.6 324.9,971.9 326.2,973.5 327.5,973.3 328.8,972.2 330.0,973.2 330.1,971.3 331.4,972.9 332.7,972.5 334.0,971.7 335.3,974.1 336.6,975.5 337.9,977.4 339.2,974.4 340.0,975.0 340.5,976.4 341.8,973.5 343.1,976.5 344.4,973.1 345.7,973.8 347.0,975.0 348.3,974.9 349.6,976.5 350.0,974.3 350.9,975.0 352.2,974.2 353.5,974.3 354.8,974.3 356.1,974.1 356.2,973.4 357.4,971.4 358.7,968.6 360.0,964.5 360.0,964.2 361.3,969.9 362.6,971.2 363.0,972.9 363.9,974.3 365.2,974.2 366.5,974.3 367.8,974.7 369.1,976.2 370.4,978.3 371.7,975.3 372.5,977.2 373.0,978.7 374.3,978.4 375.6,978.0 376.9,979.1 378.2,980.0 379.5,981.1 380.8,978.7 382.1,980.0 383.4,981.7 384.7,982.4 385.0,982.3 386.0,982.7 387.3,983.4 388.6,983.2 389.9,985.8 391.2,982.5 392.5,983.1 393.8,982.2 395.0,984.7 395.1,984.3 396.4,984.2 397.7,983.4 399.0,987.2 400.3,985.8 401.6,986.6 402.9,984.5 404.2,986.7 405.5,987.2 406.8,988.8 408.1,987.9 409.0,988.7 409.4,985.9 410.7,987.6 412.0,988.2 413.3,988.3 414.6,988.3 415.9,988.5 417.2,990.6 418.5,988.9 419.8,990.5 421.1,990.7 421.5,989.6 422.4,990.0 423.7,987.1 425.0,988.9 426.3,990.6 427.6,988.5 428.9,986.8 430.2,990.0 431.5,987.3 431.5,990.2 432.8,989.4 434.1,988.6 435.4,989.9 436.7,993.1 438.0,992.2 439.3,992.6 440.6,993.5 441.5,993.6 441.9,992.9 443.2,993.7 444.5,994.1 445.8,992.0 447.1,993.1 448.4,992.0 449.7,988.6 450.2,990.8 451.0,991.8 452.3,988.7 453.6,990.8 454.9,992.5 456.2,991.6 457.5,993.1 458.8,993.3 459.0,992.7 460.1,993.0 461.4,992.1 462.7,991.9 464.0,991.3 464.5,990.4 465.3,983.0 465.8,979.2 466.6,980.4 467.9,978.7 468.0,981.3 469.2,994.5 469.2,998.2 470.5,995.1 471.8,994.0 473.1,993.1 474.4,993.4 475.2,992.6 475.7,991.7 477.0,994.0 478.3,995.4 479.6,996.1 480.9,998.4 481.5,994.7 482.2,997.1 483.5,996.5 484.8,997.5 486.1,999.0 487.4,995.2 488.7,995.6 490.0,996.1 491.3,997.3 491.5,997.4 492.6,995.1 493.9,996.5 495.2,995.1 496.5,995.9 497.8,994.5 499.1,994.7 500.4,993.7 501.7,992.3 502.8,992.0 503.0,993.6 504.3,992.4 505.6,992.3 506.9,993.4 508.2,994.3 509.5,994.7 510.8,993.4 512.1,994.2 513.4,995.2 514.7,994.0 516.0,996.0 516.5,995.2 517.3,993.9 518.6,995.6 519.9,994.6 521.2,996.6 522.5,994.6 523.8,996.4 525.1,997.2 526.4,995.3 527.7,995.2 529.0,994.1 529.0,994.7 530.3,995.7 531.6,997.2 532.9,996.6 534.2,994.6 535.5,997.1 536.8,995.1 538.1,998.1 539.0,997.6 539.4,996.9 540.7,995.0 542.0,997.0 543.3,995.5 544.6,995.5 545.9,996.1 547.2,994.5 548.5,996.3 549.0,996.7 549.8,997.3 551.1,995.9 552.4,996.1 553.7,998.3 555.0,998.4 556.3,995.3 557.6,997.9 558.9,998.6 559.0,996.7 560.2,998.1 561.5,996.2 562.8,995.6 564.0,994.2 564.1,997.0 565.4,995.0 566.7,993.0 568.0,995.5 569.3,996.7 570.6,996.6 571.9,1000.2 573.2,998.0 574.0,998.8 574.5,999.5 575.8,1000.4 577.1,998.4 578.4,998.2 579.7,999.4 581.0,1001.4 582.3,1000.7 583.6,1001.9 584.9,1000.7 586.2,1002.9 587.5,1002.4 588.8,1002.4 589.0,1003.0 590.1,1003.0 591.4,1003.3 592.7,1001.7 594.0,1004.0 594.0,1003.5 595.3,1004.6 596.6,1004.8 597.9,1004.5 599.2,1005.9 600.5,1007.5 601.8,1006.8 603.1,1006.7 604.4,1007.2 605.7,1008.6 607.0,1007.2 608.3,1008.3 609.6,1008.3 610.9,1007.5 612.2,1010.4 613.5,1011.0 614.8,1010.1 616.1,1010.6 617.4,1011.9 618.7,1013.6 620.0,1012.0 621.3,1014.6 621.5,1014.1 622.6,1010.8 623.9,1013.0 625.2,1014.0 626.5,1013.5 627.8,1015.3 629.1,1014.9 630.4,1015.4 631.7,1014.9 633.0,1013.5 634.3,1016.1 635.6,1014.9 636.9,1017.3 638.2,1017.0 639.5,1020.2 640.8,1017.8 642.1,1015.7 643.4,1020.5 644.7,1018.9 646.0,1020.0 646.5,1020.4 647.3,1017.8 648.6,1017.8 649.9,1019.9 651.2,1017.9 652.5,1017.2 653.8,1018.5 655.1,1019.1 656.4,1020.1 657.7,1019.0 658.0,1018.8 659.0,1020.0 660.3,1019.8 661.6,1020.6 662.9,1018.5 664.2,1022.2 665.5,1018.8 666.8,1021.3 668.1,1021.2 669.4,1019.5 670.7,1020.3 672.0,1019.9 673.0,1021.3 673.3,1021.6 674.6,1020.7 675.9,1021.1 677.2,1020.2 678.5,1021.9 679.8,1022.0 681.1,1021.1 682.4,1020.4 683.7,1022.8 685.0,1020.8 686.3,1021.3 687.6,1021.2 688.0,1022.4 688.9,1022.0 690.2,1020.5 691.5,1021.4 692.8,1021.2 694.1,1022.8 695.4,1024.3 696.7,1023.5 698.0,1023.5 699.3,1023.3 700.6,1021.0 701.9,1021.1 703.2,1020.1 704.2,1022.5 704.5,1020.2 705.8,1011.8 706.8,1008.2 707.1,1007.0 708.4,1005.9 709.7,1002.5 709.8,1002.0 711.0,1007.4 712.3,1012.3 713.0,1016.1 713.6,1015.6 714.9,1017.2 716.2,1019.5 716.8,1018.7 717.5,1019.7 718.8,1021.3 720.1,1019.8 721.4,1022.2 722.7,1020.7 724.0,1021.4 725.3,1022.5 726.6,1022.3 727.9,1021.1 728.0,1020.8 729.2,1022.9 730.5,1021.8 731.8,1022.7 733.1,1023.8 734.4,1023.1 735.7,1022.9 737.0,1022.5 738.3,1024.0 739.6,1026.6 740.9,1023.2 742.2,1022.8 743.0,1024.1 743.5,1025.9 744.8,1024.5 746.1,1024.9 747.4,1025.1 748.7,1025.6 750.0,1024.6 751.3,1024.5 752.6,1026.1 753.9,1028.4 755.2,1024.7 756.5,1026.5 757.8,1026.7 758.0,1026.5 759.1,1027.2 760.4,1026.5 761.7,1028.2 763.0,1026.5 764.3,1025.9 765.6,1027.4 766.9,1028.4 768.2,1031.0 769.5,1027.7 770.5,1029.8 770.8,1025.8 772.1,1026.1 773.4,1024.3 773.5,1022.4 774.7,1023.7 776.0,1022.5 777.3,1022.5 777.5,1022.8 778.6,1027.1 779.9,1028.2 780.0,1032.1 781.2,1030.3 782.5,1030.0 783.8,1032.0 785.1,1031.1 786.4,1033.7 787.7,1029.8 789.0,1030.8 790.3,1030.6 791.6,1032.7 792.9,1030.4 793.0,1029.7 794.2,1028.5 795.5,1029.5 796.8,1031.3 798.1,1030.3 799.4,1032.6 800.7,1029.5 802.0,1031.1 803.3,1029.6 804.2,1031.0 804.6,1028.5 805.9,1021.8 806.8,1015.8 807.2,1018.5 808.5,1015.6 809.8,1014.8 809.8,1015.0 811.1,1023.3 812.2,1032.5 812.4,1032.3 813.7,1031.5 815.0,1030.4 816.3,1031.9 817.6,1031.5 818.9,1029.6 820.2,1031.6 821.5,1032.7 822.8,1032.0 823.0,1032.4 824.1,1034.0 825.4,1034.2 826.7,1031.1 828.0,1033.8 829.3,1033.6 830.6,1034.0 831.9,1033.1 833.2,1034.1 834.5,1031.6 835.8,1033.7 837.1,1035.0 838.0,1032.9 838.4,1033.8 839.7,1033.5 841.0,1034.6 842.3,1035.7 843.6,1034.0 844.9,1036.7 846.2,1034.0 847.5,1035.6 848.8,1035.3 850.1,1033.4 851.4,1033.7 852.7,1034.9 853.0,1033.6 854.0,1033.6 855.3,1035.4 856.6,1034.6 857.9,1036.6 858.0,1036.3 859.2,1037.1 860.5,1037.3 861.8,1033.9 863.1,1035.0 864.4,1035.9 865.5,1037.7 865.7,1034.9 867.0,1035.3 868.3,1034.6 869.6,1038.1 870.9,1035.3 872.2,1036.5 873.5,1037.1 874.8,1034.9 876.1,1035.1 877.4,1035.4 878.7,1037.0 880.0,1038.1 881.3,1036.6 882.6,1039.7 883.0,1037.0 883.9,1038.1 885.2,1037.6 886.5,1036.7 887.8,1037.5 889.1,1037.8 890.4,1036.5 891.7,1037.9 893.0,1037.0 894.3,1039.2 895.6,1037.0 896.9,1037.0 898.2,1037.3 899.5,1038.8 900.8,1039.9 901.8,1037.1 902.1,1039.2 903.4,1039.3 904.7,1038.1 905.5,1039.2" stroke="#000000" stroke-width="4"/>
<path class="c" d="M165.0,963.0 166.5,963.1 168.0,965.1 169.5,965.3 171.0,966.0 172.5,966.5 174.0,967.4 175.5,966.3 177.0,967.0 178.5,966.4 180.0,966.6 181.5,966.3 183.0,966.7 184.5,966.7 185.0,965.7 186.0,966.1 187.5,964.9 189.0,964.1 190.5,963.3 191.2,961.3 192.0,963.0 193.5,961.4 195.0,962.1 196.2,962.7 196.5,963.4 198.0,965.4 199.5,967.6 201.0,969.9 201.2,969.5 202.5,970.9 204.0,973.2 205.5,971.8 207.0,974.0 208.5,975.1 210.0,975.8 211.5,977.2 213.0,978.3 214.5,979.2 216.0,980.3 217.5,980.8 219.0,982.6 220.0,982.7 220.5,982.3 222.0,983.4 223.5,981.5 225.0,981.1 226.5,979.9 227.5,980.7 228.0,980.2 229.5,981.0 231.0,982.4 232.5,982.9 234.0,983.0 235.0,984.0 235.5,984.2 237.0,984.4 238.5,984.6 240.0,985.9 241.5,985.4 243.0,987.0 244.5,987.3 245.0,986.9 246.0,987.8 247.5,990.9 249.0,990.0 250.5,992.4 252.0,993.5 253.5,995.2 255.0,996.4 256.5,997.6 258.0,998.4 259.5,999.0 261.0,999.2 262.5,1000.6 264.0,1001.9 265.5,1002.8 267.0,1004.0 267.5,1003.7 268.5,1002.9 270.0,1002.8 271.5,1002.8 273.0,1002.7 273.8,1002.5 274.5,1002.7 276.0,1002.3 277.5,1003.3 279.0,1004.4 280.5,1004.9 281.2,1005.4 282.0,1004.2 283.5,1004.8 285.0,1002.8 286.5,1003.6 288.0,1003.5 289.5,1002.9 290.0,1003.4 291.0,1002.9 292.5,1003.0 294.0,1003.3 295.5,1002.6 297.0,1003.7 298.5,1002.7 300.0,1003.3 301.5,1003.1 302.5,1002.8 303.0,1003.2 304.5,1003.6 306.0,1003.5 307.5,1005.1 309.0,1003.8 310.5,1004.6 312.0,1005.5 313.5,1005.5 315.0,1006.0 316.5,1005.0 318.0,1006.0 319.5,1006.4 321.0,1007.3 322.5,1006.6 324.0,1007.3 325.0,1008.4 325.5,1007.9 327.0,1008.4 328.5,1008.6 330.0,1009.8 331.5,1008.7 332.5,1009.6 333.0,1009.6 334.5,1009.5 336.0,1009.1 337.5,1007.6 339.0,1008.3 340.0,1007.6 340.5,1009.5 342.0,1008.2 343.5,1009.1 345.0,1008.5 346.5,1008.9 348.0,1008.8 349.5,1009.8 350.0,1010.2 351.0,1008.9 352.5,1009.8 354.0,1009.9 355.5,1010.2 356.2,1009.3 357.0,1011.0 358.5,1011.2 360.0,1013.4 361.5,1014.6 363.0,1016.2 363.8,1017.6 364.5,1017.6 366.0,1019.2 367.5,1018.1 369.0,1018.2 370.5,1019.6 372.0,1019.6 372.5,1019.4 373.5,1020.7 375.0,1021.4 376.5,1020.5 378.0,1021.7 379.5,1023.2 381.0,1022.8 382.5,1024.7 384.0,1024.8 385.5,1026.1 387.0,1027.0 388.5,1027.3 390.0,1028.8 391.5,1029.6 392.5,1030.4 393.0,1031.2 394.5,1031.3 396.0,1031.2 397.5,1031.7 399.0,1032.6 400.0,1032.1 400.5,1032.1 402.0,1033.2 403.5,1033.2 405.0,1033.4 406.5,1035.6 408.0,1034.6 409.0,1035.7 409.5,1035.8 411.0,1035.5 412.5,1036.7 414.0,1036.9 415.5,1036.2 417.0,1035.3 418.5,1036.3 420.0,1035.4 421.5,1036.6 423.0,1037.2 424.5,1037.4 426.0,1038.3 427.5,1038.2 429.0,1038.1 430.5,1038.8 432.0,1040.0 433.5,1038.8 434.0,1040.2 435.0,1039.5 436.5,1041.4 438.0,1039.6 439.5,1039.4 441.0,1041.2 442.5,1041.3 444.0,1040.6 445.5,1041.0 446.5,1040.5 447.0,1041.2 448.5,1042.2 450.0,1042.3 451.5,1042.5 452.8,1042.6 453.0,1043.5 454.5,1043.6 456.0,1043.2 457.5,1041.6 459.0,1042.1 460.5,1041.4 462.0,1041.4 463.5,1041.6 464.0,1042.7 465.0,1041.4 466.5,1041.1 468.0,1040.7 469.5,1041.1 471.0,1039.9 472.5,1041.0 474.0,1040.9 475.5,1039.9 477.0,1041.0 478.5,1041.3 479.0,1039.7 480.0,1040.4 481.5,1039.6 483.0,1039.3 484.5,1039.9 486.0,1039.5 487.5,1038.5 489.0,1038.3 490.5,1039.0 491.5,1038.1 492.0,1038.2 493.5,1038.9 495.0,1038.9 496.5,1039.5 498.0,1040.5 499.5,1038.9 501.0,1040.5 502.5,1039.2 504.0,1040.1 505.5,1040.8 507.0,1041.8 508.5,1039.9 510.0,1041.9 511.5,1041.2 513.0,1041.6 514.5,1042.0 516.0,1043.0 516.5,1043.3 517.5,1042.5 519.0,1042.3 520.5,1042.6 522.0,1042.2 523.5,1042.9 525.0,1044.6 526.5,1043.5 528.0,1044.1 529.0,1044.7 529.5,1044.7 531.0,1044.6 532.5,1044.6 534.0,1044.9 535.5,1046.0 537.0,1045.7 538.5,1045.4 540.0,1045.0 541.5,1045.5 543.0,1045.6 544.0,1045.1 544.5,1044.9 546.0,1045.4 547.5,1044.7 549.0,1044.5 550.5,1044.7 552.0,1044.5 553.5,1043.8 554.0,1045.1 555.0,1044.5 556.5,1044.4 558.0,1045.0 559.5,1045.4 561.0,1044.9 562.5,1043.6 564.0,1044.5 565.5,1045.2 567.0,1045.4 568.5,1046.2 569.0,1045.8 570.0,1045.3 571.5,1045.8 573.0,1044.9 574.5,1045.7 576.0,1044.2 576.5,1045.8 577.5,1044.3 579.0,1044.0 580.5,1042.5 581.5,1041.3 582.0,1041.8 583.5,1041.8 585.0,1041.7 586.5,1041.4 587.0,1041.5 588.0,1041.8 589.5,1042.6 591.0,1044.5 592.5,1045.3 592.8,1046.2 594.0,1047.9 595.5,1050.1 597.0,1051.9 598.5,1054.6 599.0,1055.3 600.0,1056.3 601.5,1057.6 603.0,1059.2 604.5,1060.7 606.0,1061.7 607.5,1062.0 609.0,1064.2 610.5,1066.2 612.0,1065.0 613.5,1067.0 615.0,1067.5 616.5,1069.3 618.0,1069.6 619.5,1070.1 621.0,1071.0 621.5,1070.4 622.5,1072.6 624.0,1072.5 625.5,1072.2 627.0,1072.9 628.5,1074.0 630.0,1073.8 631.5,1074.3 633.0,1075.6 634.0,1075.5 634.5,1075.9 636.0,1076.5 637.5,1076.0 639.0,1077.7 640.5,1077.7 642.0,1077.1 643.5,1077.4 645.0,1078.5 646.5,1079.0 648.0,1078.6 649.5,1079.0 651.0,1079.2 652.5,1079.3 654.0,1079.8 655.5,1080.6 657.0,1080.9 658.0,1079.7 658.5,1080.1 660.0,1080.2 661.5,1080.7 663.0,1080.9 664.5,1082.1 666.0,1082.2 667.5,1081.7 669.0,1083.0 670.5,1082.2 672.0,1082.6 673.5,1082.9 675.0,1082.4 676.5,1082.2 678.0,1082.7 679.5,1083.0 681.0,1082.5 682.5,1083.5 683.0,1082.9 684.0,1082.3 685.5,1082.8 687.0,1082.2 688.5,1082.6 690.0,1082.6 691.5,1082.5 693.0,1082.9 694.2,1082.2 694.5,1082.2 696.0,1081.0 697.5,1079.6 699.0,1079.2 700.5,1078.8 701.8,1076.8 702.0,1078.2 703.5,1078.1 705.0,1078.3 706.5,1077.8 707.5,1078.1 708.0,1077.9 709.5,1078.7 711.0,1080.2 712.5,1080.5 714.0,1082.7 715.5,1082.5 717.0,1084.4 718.5,1083.9 720.0,1084.6 721.5,1084.9 723.0,1085.9 724.5,1086.7 726.0,1086.5 727.5,1086.9 728.0,1088.0 729.0,1087.5 730.5,1089.0 732.0,1089.7 733.5,1089.2 735.0,1091.5 736.5,1090.3 738.0,1090.1 739.5,1092.0 741.0,1091.7 742.5,1091.6 743.0,1092.0 744.0,1092.9 745.5,1093.3 747.0,1092.7 748.5,1092.4 750.0,1093.0 751.5,1093.8 753.0,1093.8 754.5,1094.2 756.0,1094.5 757.5,1095.3 759.0,1094.6 760.5,1095.0 762.0,1094.3 763.0,1095.4 763.5,1094.7 765.0,1095.4 766.5,1096.0 768.0,1095.8 769.5,1096.3 771.0,1095.4 772.5,1096.5 774.0,1097.0 775.5,1097.1 777.0,1097.5 778.5,1097.2 780.0,1098.1 781.5,1097.6 783.0,1098.0 784.5,1098.8 786.0,1099.2 787.5,1099.1 788.0,1098.2 789.0,1099.0 790.5,1099.5 792.0,1100.4 793.5,1101.8 794.2,1101.8 795.0,1100.7 796.5,1101.4 798.0,1101.4 799.5,1100.9 801.0,1101.1 802.5,1101.9 804.0,1101.2 805.5,1101.2 807.0,1101.0 808.0,1099.6 808.5,1101.4 810.0,1102.0 811.5,1102.8 813.0,1103.2 814.5,1101.8 816.0,1102.5 817.5,1102.4 819.0,1103.1 820.5,1102.6 822.0,1103.5 823.5,1103.9 825.0,1104.1 826.5,1104.3 828.0,1104.8 829.5,1104.4 831.0,1104.5 832.5,1104.9 833.0,1104.9 834.0,1105.3 835.5,1105.9 837.0,1105.4 838.5,1104.8 840.0,1105.0 841.5,1106.3 843.0,1106.5 844.5,1106.7 846.0,1105.3 847.5,1107.2 849.0,1108.3 850.5,1107.1 852.0,1107.2 853.5,1108.0 855.0,1107.3 856.5,1107.3 858.0,1108.6 859.5,1107.7 861.0,1108.7 862.5,1108.2 864.0,1108.5 865.5,1108.3 867.0,1109.2 868.5,1109.0 870.0,1109.1 871.5,1109.1 873.0,1109.2 874.5,1110.2 876.0,1110.2 877.5,1110.5 879.0,1109.5 880.5,1110.5 882.0,1109.6 883.0,1111.3 883.5,1111.5 885.0,1111.5 886.5,1111.2 888.0,1111.5 889.5,1111.3 891.0,1111.2 892.5,1112.2 894.0,1112.5 895.5,1112.0 897.0,1111.7 898.5,1112.3 900.0,1112.6 901.5,1112.6 901.8,1112.1 903.0,1112.3 904.5,1113.2 905.5,1114.2" stroke="#FF1493" stroke-width="4"/>
<path class="c" d="M165.5,1064.0 166.0,1058.2 166.5,1043.7 167.0,1036.2 167.5,1034.7 168.0,1040.5 168.5,1032.5 169.0,1034.9 169.5,1037.4 170.0,1033.8 170.5,1028.0 171.0,1040.4 171.5,1040.4 172.0,1032.2 172.5,1036.3 173.0,1041.7 173.5,1039.8 174.0,1028.9 174.5,1032.1 175.0,1032.0 175.5,1039.5 176.0,1036.8 176.5,1029.5 177.0,1028.0 177.5,1041.2 178.0,1030.0 178.5,1033.9 178.8,1032.9 179.0,1042.9 179.5,1035.3 180.0,1041.7 180.5,1041.0 181.0,1033.4 181.5,1041.0 182.0,1035.3 182.5,1035.4 183.0,1046.8 183.5,1042.5 184.0,1039.1 184.5,1045.3 185.0,1047.3 185.5,1049.8 186.0,1048.6 186.5,1047.7 187.0,1042.8 187.5,1044.1 188.0,1048.3 188.5,1047.2 189.0,1048.9 189.5,1055.9 190.0,1055.6 190.5,1050.5 191.0,1055.4 191.5,1055.9 192.0,1048.0 192.5,1043.7 193.0,1052.0 193.5,1058.5 194.0,1048.7 194.5,1050.3 195.0,1060.4 195.5,1049.4 196.0,1060.4 196.5,1050.9 197.0,1056.3 197.5,1061.1 198.0,1049.8 198.5,1054.2 199.0,1061.5 199.5,1049.7 200.0,1050.8 200.5,1058.9 201.0,1059.9 201.5,1054.5 202.0,1049.6 202.5,1057.0 203.0,1049.5 203.5,1049.1 204.0,1053.2 204.5,1061.1 205.0,1061.6 205.5,1053.9 206.0,1049.9 206.5,1050.4 207.0,1056.2 207.5,1055.9 208.0,1055.8 208.5,1050.6 209.0,1060.0 209.5,1057.3 210.0,1059.6 210.5,1055.8 211.0,1051.3 211.5,1059.9 212.0,1057.2 212.5,1052.2 213.0,1053.4 213.5,1058.9 214.0,1067.8 214.5,1060.4 215.0,1064.8 215.5,1064.1 216.0,1058.8 216.2,1060.1 216.5,1055.0 217.0,1054.5 217.5,1064.9 218.0,1067.3 218.5,1058.5 219.0,1068.6 219.5,1067.3 220.0,1074.0 220.5,1072.1 221.0,1066.5 221.5,1069.2 222.0,1059.3 222.5,1075.2 223.0,1074.2 223.5,1068.1 224.0,1063.2 224.5,1069.7 225.0,1065.7 225.5,1069.5 226.0,1065.4 226.5,1063.8 227.0,1064.7 227.5,1073.7 228.0,1073.5 228.5,1063.6 229.0,1064.6 229.5,1067.3 230.0,1065.5 230.5,1064.6 231.0,1068.2 231.5,1057.2 232.0,1059.2 232.5,1062.2 233.0,1076.2 233.5,1072.6 234.0,1068.3 234.5,1061.2 235.0,1081.0 235.5,1075.2 236.0,1076.7 236.5,1069.8 237.0,1065.2 237.5,1063.3 238.0,1074.3 238.5,1063.2 239.0,1072.2 239.5,1074.1 240.0,1071.2 240.5,1075.5 241.0,1078.1 241.5,1063.1 242.0,1063.9 242.5,1064.0 243.0,1067.4 243.5,1072.3 244.0,1070.6 244.5,1070.9 245.0,1075.4 245.5,1065.9 246.0,1065.6 246.5,1066.1 247.0,1079.0 247.5,1070.7 248.0,1075.2 248.5,1080.8 249.0,1067.9 249.5,1065.7 250.0,1069.7 250.5,1072.0 251.0,1075.0 251.5,1069.3 252.0,1079.4 252.5,1077.1 253.0,1080.2 253.5,1069.9 254.0,1071.0 254.5,1078.3 255.0,1074.2 255.5,1084.5 256.0,1081.1 256.5,1068.0 257.0,1069.9 257.5,1073.9 258.0,1082.6 258.5,1079.3 259.0,1072.5 259.5,1069.3 260.0,1078.3 260.5,1086.0 261.0,1079.6 261.5,1090.2 262.0,1078.1 262.5,1085.5 263.0,1078.7 263.5,1083.5 264.0,1074.5 264.5,1073.1 265.0,1082.4 265.5,1074.1 266.0,1083.9 266.5,1085.8 267.0,1077.6 267.5,1077.3 268.0,1081.5 268.5,1082.9 269.0,1073.9 269.5,1082.2 270.0,1076.0 270.5,1072.2 271.0,1078.2 271.5,1079.8 272.0,1079.6 272.5,1085.7 273.0,1081.5 273.5,1078.3 274.0,1081.2 274.5,1082.4 275.0,1086.5 275.5,1078.9 276.0,1086.1 276.5,1084.4 277.0,1087.6 277.5,1081.2 278.0,1078.5 278.5,1077.7 279.0,1084.7 279.5,1091.0 280.0,1082.0 280.5,1083.8 281.0,1090.2 281.5,1084.7 282.0,1094.6 282.5,1080.6 283.0,1093.2 283.5,1083.9 284.0,1098.3 284.5,1092.8 285.0,1093.9 285.5,1089.2 286.0,1086.8 286.5,1087.1 287.0,1095.0 287.5,1088.7 288.0,1082.7 288.5,1091.4 289.0,1091.7 289.5,1091.2 290.0,1084.0 290.5,1085.5 291.0,1095.4 291.5,1091.2 292.0,1092.6 292.5,1084.0 293.0,1090.9 293.5,1086.7 294.0,1086.2 294.5,1084.7 295.0,1082.0 295.5,1086.6 296.0,1093.7 296.5,1091.6 297.0,1090.8 297.5,1088.6 298.0,1086.7 298.5,1091.7 299.0,1095.2 299.5,1090.1 300.0,1085.7 300.5,1095.5 301.0,1090.3 301.5,1086.1 302.0,1094.4 302.5,1089.0 303.0,1085.8 303.5,1095.6 304.0,1088.5 304.5,1087.0 305.0,1089.8 305.5,1084.8 306.0,1087.3 306.5,1092.0 307.0,1087.5 307.5,1084.7 308.0,1087.5 308.5,1095.5 309.0,1092.6 309.5,1091.4 310.0,1084.8 310.5,1095.6 311.0,1090.6 311.5,1090.2 312.0,1093.6 312.5,1092.5 313.0,1095.6 313.5,1085.9 314.0,1091.0 314.5,1094.0 315.0,1088.2 315.5,1085.9 316.0,1086.3 316.5,1086.1 317.0,1088.7 317.5,1091.2 318.0,1083.2 318.5,1084.5 319.0,1085.2 319.5,1087.4 320.0,1088.2 320.5,1093.2 321.0,1092.8 321.5,1085.5 322.0,1089.7 322.5,1092.5 323.0,1094.0 323.5,1088.7 324.0,1087.9 324.5,1089.0 325.0,1089.3 325.5,1091.4 326.0,1095.8 326.5,1091.8 327.0,1092.3 327.5,1090.4 328.0,1088.3 328.5,1094.1 329.0,1086.1 329.5,1094.5 330.0,1093.0 330.5,1084.8 331.0,1089.6 331.5,1092.7 332.0,1091.5 332.5,1088.0 333.0,1087.8 333.5,1085.3 334.0,1085.8 334.5,1096.4 335.0,1092.9 335.5,1095.7 336.0,1085.2 336.5,1086.5 337.0,1089.8 337.5,1095.1 338.0,1088.8 338.5,1087.7 339.0,1095.6 339.5,1095.9 340.0,1097.0 340.5,1086.7 341.0,1091.0 341.5,1088.5 342.0,1095.2 342.5,1090.0 343.0,1088.6 343.5,1095.5 344.0,1091.7 344.5,1086.9 345.0,1090.7 345.5,1092.1 346.0,1094.3 346.5,1089.0 347.0,1086.8 347.5,1093.7 348.0,1096.2 348.5,1089.2 349.0,1094.9 349.5,1095.3 350.0,1098.1 350.5,1087.9 351.0,1094.9 351.5,1093.6 352.0,1089.0 352.5,1092.5 353.0,1084.7 353.5,1087.4 354.0,1087.4 354.5,1106.0 355.0,1089.2 355.5,1083.9 356.0,1084.8 356.5,1082.1 357.0,1079.1 357.5,1078.9 358.0,1079.2 358.5,1079.5 359.0,1075.4 359.5,1084.1 360.0,1085.5 360.5,1080.6 361.0,1083.4 361.5,1087.3 362.0,1080.6 362.5,1090.2 363.0,1089.5 363.5,1093.3 363.8,1087.1 364.0,1085.2 364.5,1084.4 365.0,1094.8 365.5,1091.0 366.0,1087.6 366.5,1086.1 367.0,1092.7 367.5,1095.2 368.0,1094.3 368.5,1087.3 369.0,1091.8 369.5,1090.5 370.0,1085.8 370.5,1091.8 371.0,1095.5 371.5,1086.0 372.0,1086.9 372.5,1089.7 373.0,1086.4 373.5,1088.7 374.0,1096.9 374.5,1089.2 375.0,1094.6 375.5,1094.9 376.0,1089.8 376.5,1095.4 377.0,1089.8 377.5,1096.2 378.0,1099.5 378.5,1092.5 379.0,1090.0 379.5,1090.3 380.0,1098.4 380.5,1095.5 381.0,1090.3 381.5,1115.0 382.0,1100.7 382.5,1094.9 383.0,1095.9 383.5,1094.4 384.0,1095.5 384.5,1093.7 385.0,1092.9 385.5,1102.9 386.0,1097.6 386.5,1096.1 387.0,1095.4 387.5,1101.5 388.0,1096.4 388.5,1102.2 389.0,1096.0 389.5,1098.9 390.0,1103.5 390.5,1104.4 391.0,1105.5 391.5,1100.6 392.0,1103.4 392.5,1100.2 393.0,1096.7 393.5,1101.8 394.0,1099.6 394.5,1097.0 395.0,1100.5 395.5,1099.6 396.0,1103.5 396.5,1106.1 397.0,1104.4 397.5,1103.9 398.0,1099.7 398.5,1099.3 399.0,1100.5 399.5,1106.9 400.0,1101.5 400.5,1107.8 401.0,1106.6 401.5,1108.3 402.0,1102.9 402.5,1108.0 403.0,1106.0 403.5,1102.9 404.0,1105.9 404.5,1110.8 405.0,1109.4 405.5,1100.1 406.0,1101.3 406.5,1099.9 407.0,1102.2 407.5,1102.1 408.0,1111.3 408.5,1103.2 409.0,1106.2 409.5,1103.4 410.0,1106.8 410.5,1116.3 411.0,1111.6 411.5,1101.4 412.0,1113.8 412.5,1103.7 413.0,1104.6 413.5,1104.2 414.0,1113.8 414.5,1111.6 415.0,1110.1 415.5,1108.6 416.0,1107.6 416.5,1115.8 417.0,1107.5 417.5,1106.7 418.0,1112.7 418.5,1115.5 419.0,1109.6 419.5,1108.6 420.0,1105.7 420.5,1109.0 421.0,1111.4 421.5,1112.2 422.0,1106.8 422.5,1103.9 423.0,1107.0 423.5,1108.8 424.0,1103.1 424.5,1100.8 425.0,1114.4 425.5,1102.9 426.0,1103.1 426.5,1109.2 427.0,1105.5 427.5,1107.4 428.0,1107.1 428.5,1117.3 429.0,1111.4 429.5,1112.6 430.0,1108.7 430.5,1102.5 431.0,1108.4 431.5,1102.8 432.0,1110.3 432.5,1104.2 433.0,1108.4 433.5,1106.2 434.0,1105.2 434.5,1114.4 435.0,1113.6 435.5,1106.2 436.0,1107.8 436.5,1102.6 437.0,1105.1 437.5,1113.0 438.0,1100.8 438.5,1108.2 439.0,1102.9 439.5,1103.3 440.0,1107.2 440.5,1101.7 441.0,1110.7 441.5,1106.4 442.0,1109.3 442.5,1104.8 443.0,1105.2 443.5,1106.9 444.0,1112.8 444.5,1102.4 445.0,1105.5 445.5,1095.3 446.0,1089.9 446.5,1099.7 447.0,1096.5 447.5,1108.4 448.0,1105.3 448.5,1106.8 449.0,1100.4 449.5,1105.0 450.0,1111.8 450.5,1103.0 451.0,1100.4 451.5,1109.0 452.0,1111.8 452.5,1099.4 453.0,1113.4 453.5,1099.8 454.0,1103.0 454.5,1114.4 455.0,1102.6 455.5,1111.0 456.0,1107.9 456.5,1113.6 457.0,1108.5 457.5,1103.8 458.0,1108.9 458.5,1114.7 459.0,1108.0 459.5,1104.0 460.0,1114.7 460.5,1111.3 461.0,1109.4 461.5,1109.6 462.0,1107.5 462.5,1103.9 463.0,1103.1 463.5,1105.1 464.0,1104.5 464.5,1108.0 465.0,1108.8 465.5,1105.9 466.0,1111.9 466.5,1112.9 467.0,1111.5 467.5,1110.9 468.0,1103.4 468.5,1107.8 469.0,1107.8 469.5,1104.9 470.0,1109.2 470.5,1107.0 471.0,1117.2 471.5,1111.3 472.0,1108.0 472.5,1106.8 473.0,1105.5 473.5,1106.0 474.0,1110.9 474.5,1107.2 475.0,1106.1 475.5,1106.1 476.0,1107.5 476.5,1105.1 477.0,1108.2 477.5,1105.1 478.0,1109.4 478.5,1115.1 479.0,1108.0 479.5,1116.4 480.0,1109.4 480.5,1109.6 481.0,1104.3 481.5,1112.3 482.0,1115.6 482.5,1106.8 483.0,1106.1 483.5,1108.6 484.0,1112.8 484.5,1107.8 485.0,1110.8 485.5,1111.1 486.0,1116.1 486.5,1118.8 487.0,1115.9 487.5,1115.5 488.0,1108.4 488.5,1107.2 489.0,1106.5 489.5,1111.0 490.0,1114.3 490.5,1103.2 491.0,1109.3 491.5,1111.2 492.0,1106.3 492.5,1110.2 493.0,1110.5 493.5,1108.9 494.0,1109.5 494.5,1108.2 495.0,1105.2 495.5,1105.3 496.0,1110.6 496.5,1115.3 497.0,1105.3 497.5,1113.8 498.0,1106.7 498.5,1115.2 499.0,1107.8 499.5,1115.5 500.0,1117.9 500.5,1105.0 501.0,1114.3 501.5,1108.5 502.0,1104.8 502.5,1107.6 503.0,1110.4 503.5,1114.4 504.0,1106.5 504.5,1108.6 505.0,1114.1 505.5,1108.4 506.0,1111.1 506.5,1105.4 507.0,1113.0 507.5,1112.4 508.0,1112.3 508.5,1108.0 509.0,1111.0 509.5,1109.4 510.0,1109.5 510.5,1108.3 511.0,1106.1 511.5,1107.9 512.0,1107.6 512.5,1108.2 513.0,1105.9 513.5,1110.2 514.0,1110.5 514.5,1113.9 515.0,1111.7 515.5,1107.2 516.0,1110.9 516.5,1106.6 517.0,1111.2 517.5,1106.4 518.0,1118.4 518.5,1113.4 519.0,1113.4 519.5,1115.1 520.0,1107.0 520.5,1110.0 521.0,1114.1 521.5,1110.5 522.0,1108.9 522.5,1108.3 523.0,1117.4 523.5,1113.1 524.0,1107.1 524.5,1116.3 525.0,1113.9 525.5,1116.1 526.0,1114.5 526.5,1110.0 527.0,1118.7 527.5,1121.4 528.0,1118.0 528.5,1109.1 529.0,1109.7 529.5,1112.6 530.0,1113.6 530.5,1121.4 531.0,1110.3 531.5,1112.0 532.0,1120.5 532.5,1114.9 533.0,1119.9 533.5,1119.4 534.0,1111.3 534.5,1117.7 535.0,1114.6 535.5,1111.3 536.0,1121.0 536.5,1115.9 537.0,1116.3 537.5,1112.8 538.0,1116.6 538.5,1115.5 539.0,1113.0 539.5,1119.4 540.0,1114.4 540.5,1109.1 541.0,1121.4 541.5,1122.0 542.0,1111.8 542.5,1121.6 543.0,1116.8 543.5,1111.7 544.0,1110.8 544.5,1110.3 545.0,1112.7 545.5,1117.4 546.0,1108.7 546.5,1114.5 547.0,1109.3 547.5,1119.9 548.0,1112.8 548.5,1115.2 549.0,1115.1 549.5,1108.4 550.0,1108.1 550.5,1113.2 551.0,1108.4 551.5,1115.6 552.0,1109.0 552.5,1113.0 553.0,1114.8 553.5,1109.0 554.0,1112.1 554.5,1111.7 555.0,1110.4 555.5,1109.2 556.0,1111.3 556.5,1108.7 557.0,1104.9 557.5,1109.7 558.0,1104.6 558.5,1112.1 559.0,1102.6 559.5,1109.8 560.0,1109.3 560.5,1109.5 561.0,1108.1 561.5,1103.8 562.0,1104.3 562.5,1104.2 563.0,1102.5 563.5,1109.8 564.0,1103.6 564.5,1110.2 565.0,1107.2 565.2,1103.8 565.5,1104.0 566.0,1107.1 566.5,1108.8 567.0,1105.9 567.5,1113.4 568.0,1108.7 568.5,1116.9 569.0,1111.3 569.5,1115.5 570.0,1109.7 570.2,1113.9 570.5,1110.3 571.0,1117.5 571.5,1114.4 572.0,1110.9 572.5,1117.3 573.0,1117.2 573.5,1115.2 574.0,1120.4 574.5,1114.4 575.0,1114.8 575.5,1117.4 576.0,1119.0 576.5,1116.2 577.0,1113.7 577.5,1115.4 578.0,1118.2 578.5,1118.6 579.0,1115.2 579.5,1120.5 580.0,1116.5 580.5,1121.1 581.0,1117.7 581.5,1119.9 582.0,1122.1 582.5,1122.2 583.0,1117.7 583.5,1118.2 584.0,1122.1 584.5,1119.0 585.0,1123.1 585.5,1117.4 586.0,1122.8 586.5,1119.7 587.0,1122.7 587.5,1123.0 588.0,1120.8 588.5,1124.4 589.0,1124.6 589.5,1123.4 590.0,1123.6 590.5,1119.2 591.0,1123.5 591.5,1122.7 592.0,1124.7 592.5,1122.6 593.0,1124.6 593.5,1120.0 594.0,1120.6 594.5,1121.1 595.0,1121.5 595.5,1125.7 596.0,1123.3 596.5,1126.7 597.0,1121.7 597.5,1123.3 598.0,1123.7 598.5,1119.7 599.0,1120.2 599.5,1121.6 600.0,1124.2 600.5,1120.6 601.0,1121.5 601.5,1127.8 602.0,1124.5 602.5,1121.2 603.0,1121.8 603.5,1121.6 604.0,1122.3 604.5,1127.6 605.0,1126.0 605.5,1124.3 606.0,1123.2 606.5,1128.8 607.0,1123.4 607.5,1126.1 608.0,1132.2 608.5,1123.9 609.0,1129.3 609.5,1130.3 610.0,1123.8 610.5,1125.6 611.0,1126.8 611.5,1131.6 612.0,1130.2 612.5,1132.5 613.0,1128.0 613.5,1128.1 614.0,1131.0 614.5,1129.1 615.0,1132.5 615.5,1128.0 616.0,1133.7 616.5,1129.0 617.0,1127.5 617.5,1131.4 618.0,1134.6 618.5,1131.4 619.0,1130.9 619.5,1129.0 620.0,1133.2 620.5,1135.7 621.0,1129.5 621.5,1133.6 622.0,1133.1 622.5,1133.9 623.0,1134.8 623.5,1134.5 624.0,1136.2 624.5,1131.0 625.0,1133.0 625.5,1130.1 626.0,1136.6 626.5,1137.3 627.0,1136.5 627.5,1135.8 628.0,1130.9 628.5,1135.4 629.0,1137.2 629.5,1134.8 630.0,1134.0 630.5,1135.5 631.0,1138.9 631.5,1133.3 632.0,1137.5 632.5,1138.0 633.0,1134.1 633.5,1135.3 634.0,1139.0 634.5,1134.5 635.0,1135.4 635.2,1143.0 635.5,1133.1 636.0,1138.8 636.5,1138.2 637.0,1137.9 637.5,1137.9 638.0,1133.9 638.5,1135.0 639.0,1134.2 639.5,1137.3 640.0,1134.0 640.5,1138.6 641.0,1140.5 641.5,1137.2 642.0,1137.0 642.5,1139.6 643.0,1134.8 643.5,1139.5 644.0,1138.5 644.5,1136.9 645.0,1138.4 645.5,1134.8 646.0,1134.2 646.5,1141.9 647.0,1141.3 647.5,1140.4 648.0,1136.0 648.5,1135.6 649.0,1139.8 649.5,1140.2 650.0,1140.2 650.5,1134.8 651.0,1136.5 651.5,1141.4 652.0,1135.0 652.5,1136.0 653.0,1139.3 653.5,1140.2 654.0,1137.2 654.5,1135.8 655.0,1137.4 655.5,1134.8 656.0,1137.3 656.5,1135.4 657.0,1134.8 657.5,1140.0 658.0,1138.6 658.5,1135.1 659.0,1135.9 659.5,1139.2 660.0,1137.0 660.5,1134.9 661.0,1135.0 661.5,1135.9 662.0,1137.9 662.5,1139.7 663.0,1138.9 663.5,1134.5 664.0,1135.9 664.5,1139.5 665.0,1138.0 665.5,1140.3 666.0,1137.5 666.5,1136.5 667.0,1137.3 667.5,1137.4 668.0,1134.8 668.5,1138.3 669.0,1134.9 669.5,1135.4 670.0,1135.3 670.5,1134.9 671.0,1135.4 671.5,1138.2 672.0,1135.2 672.5,1135.4 673.0,1135.5 673.5,1135.8 674.0,1140.2 674.5,1140.0 675.0,1137.4 675.5,1137.1 676.0,1140.2 676.5,1136.7 677.0,1137.6 677.5,1140.6 678.0,1138.6 678.5,1137.2 679.0,1138.8 679.5,1135.7 680.0,1139.1 680.5,1141.7 681.0,1139.0 681.5,1141.9 682.0,1137.1 682.5,1138.2 683.0,1139.4 683.5,1138.8 684.0,1139.2 684.5,1141.8 685.0,1140.8 685.5,1139.0 686.0,1140.0 686.5,1141.7 687.0,1139.0 687.5,1138.7 688.0,1138.2 688.5,1143.3 689.0,1141.0 689.5,1143.7 690.0,1143.3 690.5,1142.1 691.0,1140.3 691.5,1142.5 692.0,1139.5 692.5,1144.0 693.0,1144.7 693.5,1145.3 694.0,1145.2 694.5,1139.8 695.0,1144.8 695.5,1143.6 696.0,1145.0 696.5,1143.9 697.0,1139.5 697.5,1144.9 698.0,1139.2 698.5,1141.6 699.0,1142.5 699.5,1139.6 700.0,1140.9 700.5,1136.5 701.0,1138.6 701.5,1138.6 702.0,1140.2 702.5,1138.1 703.0,1141.3 703.5,1136.7 704.0,1137.3 704.5,1130.3 705.0,1128.8 705.5,1129.1 706.0,1125.5 706.5,1126.3 707.0,1122.3 707.5,1120.4 708.0,1118.5 708.5,1114.2 709.0,1119.2 709.5,1119.3 710.0,1122.1 710.5,1127.7 711.0,1129.3 711.5,1134.2 712.0,1130.8 712.5,1135.6 713.0,1134.2 713.5,1137.5 714.0,1140.0 714.2,1139.0 714.5,1139.3 715.0,1137.8 715.5,1136.8 716.0,1138.2 716.5,1139.1 717.0,1139.8 717.5,1142.0 718.0,1137.1 718.5,1142.6 719.0,1138.6 719.5,1137.4 720.0,1138.8 720.5,1143.0 721.0,1138.8 721.5,1139.7 722.0,1143.5 722.5,1144.4 723.0,1138.1 723.5,1141.6 724.0,1143.0 724.5,1142.1 725.0,1139.9 725.5,1143.6 726.0,1139.2 726.5,1142.5 727.0,1145.0 727.5,1142.1 728.0,1140.7 728.5,1142.2 729.0,1143.5 729.5,1141.5 730.0,1145.0 730.5,1140.3 731.0,1141.5 731.5,1140.5 732.0,1143.6 732.5,1141.8 733.0,1144.4 733.5,1142.4 734.0,1146.3 734.5,1142.2 735.0,1141.1 735.5,1142.6 736.0,1143.3 736.5,1146.2 737.0,1145.0 737.5,1141.8 738.0,1146.1 738.5,1141.2 739.0,1141.9 739.5,1144.9 740.0,1144.1 740.5,1145.3 741.0,1142.8 741.5,1146.9 742.0,1144.5 742.5,1143.4 743.0,1146.9 743.5,1146.7 744.0,1141.7 744.5,1146.9 745.0,1142.1 745.5,1144.6 746.0,1145.9 746.5,1143.0 747.0,1142.5 747.5,1142.9 748.0,1143.8 748.5,1145.9 749.0,1143.2 749.5,1144.9 750.0,1144.5 750.5,1146.4 751.0,1145.8 751.5,1143.6 752.0,1143.8 752.5,1148.1 753.0,1146.2 753.5,1148.1 754.0,1145.4 754.5,1149.9 755.0,1148.5 755.5,1144.9 756.0,1150.4 756.5,1148.4 757.0,1149.0 757.5,1145.1 758.0,1147.6 758.5,1145.0 759.0,1149.2 759.5,1149.1 760.0,1145.8 760.5,1147.5 761.0,1149.2 761.5,1144.9 762.0,1145.4 762.5,1147.3 763.0,1150.4 763.5,1146.6 764.0,1150.2 764.5,1145.8 765.0,1150.4 765.5,1148.0 766.0,1148.1 766.5,1150.6 767.0,1148.0 767.5,1148.8 768.0,1146.8 768.5,1150.6 769.0,1146.9 769.5,1146.5 770.0,1149.8 770.5,1149.6 771.0,1148.5 771.5,1152.4 772.0,1149.0 772.5,1146.5 773.0,1148.5 773.5,1148.6 774.0,1149.7 774.5,1152.2 775.0,1152.7 775.5,1152.2 776.0,1150.8 776.5,1147.8 777.0,1151.8 777.5,1152.0 778.0,1151.0 778.5,1149.9 779.0,1153.0 779.5,1150.0 780.0,1153.6 780.5,1149.9 781.0,1153.1 781.5,1150.1 782.0,1152.0 782.5,1150.4 783.0,1150.7 783.5,1150.5 784.0,1150.5 784.5,1152.8 785.0,1150.6 785.5,1150.5 786.0,1154.9 786.5,1150.7 787.0,1149.8 787.5,1154.8 788.0,1155.1 788.5,1155.2 789.0,1152.4 789.5,1153.0 790.0,1149.7 790.5,1153.5 791.0,1152.0 791.5,1153.4 792.0,1150.9 792.5,1152.5 793.0,1150.4 793.5,1155.6 794.0,1150.6 794.5,1155.8 795.0,1153.0 795.5,1152.7 796.0,1154.4 796.5,1152.1 797.0,1153.4 797.5,1154.5 798.0,1153.1 798.5,1156.5 799.0,1155.5 799.5,1153.6 800.0,1150.9 800.5,1151.9 801.0,1154.0 801.5,1153.6 802.0,1152.7 802.5,1153.9 803.0,1151.4 803.5,1154.5 804.0,1152.4 804.5,1152.8 805.0,1152.0 805.5,1153.1 806.0,1152.4 806.5,1153.0 807.0,1154.5 807.5,1153.7 808.0,1152.4 808.5,1155.9 809.0,1153.7 809.5,1154.0 810.0,1152.5 810.5,1157.3 811.0,1153.7 811.5,1157.5 812.0,1156.0 812.5,1156.9 813.0,1152.7 813.5,1156.3 814.0,1154.6 814.5,1154.9 815.0,1152.4 815.5,1155.3 816.0,1154.9 816.5,1152.9 817.0,1156.1 817.5,1155.3 818.0,1158.3 818.5,1157.6 819.0,1157.6 819.5,1153.8 820.0,1152.8 820.5,1158.9 821.0,1158.2 821.5,1154.0 822.0,1156.5 822.5,1155.1 823.0,1159.1 823.5,1159.4 824.0,1154.4 824.5,1155.7 825.0,1159.2 825.5,1155.7 826.0,1156.1 826.5,1157.6 827.0,1157.4 827.5,1157.2 828.0,1157.6 828.5,1158.7 829.0,1157.9 829.5,1156.0 830.0,1155.0 830.5,1157.2 831.0,1157.5 831.5,1158.0 832.0,1159.0 832.5,1157.2 833.0,1155.7 833.5,1155.1 834.0,1159.8 834.5,1159.1 835.0,1158.9 835.5,1154.1 836.0,1158.5 836.5,1155.9 837.0,1158.6 837.5,1153.1 838.0,1154.5 838.5,1155.8 839.0,1157.9 839.5,1154.0 840.0,1154.9 840.5,1153.9 841.0,1157.3 841.5,1156.8 842.0,1154.7 842.5,1154.6 843.0,1153.3 843.5,1159.1 844.0,1153.0 844.5,1155.8 845.0,1157.7 845.5,1155.0 846.0,1156.0 846.5,1156.1 847.0,1154.3 847.5,1154.8 848.0,1158.6 848.5,1158.8 849.0,1157.8 849.5,1155.7 850.0,1156.2 850.5,1156.2 851.0,1155.2 851.5,1154.6 852.0,1155.7 852.5,1154.8 853.0,1157.7 853.5,1158.7 854.0,1156.3 854.5,1156.7 855.0,1154.6 855.5,1158.5 856.0,1158.1 856.5,1159.1 857.0,1156.5 857.5,1157.3 858.0,1160.3 858.5,1157.6 859.0,1158.4 859.5,1156.9 860.0,1156.7 860.5,1157.4 861.0,1156.7 861.5,1162.0 862.0,1158.2 862.5,1157.8 863.0,1158.8 863.5,1156.7 864.0,1160.9 864.5,1156.4 865.0,1155.5 865.5,1160.3 866.0,1157.4 866.5,1155.7 867.0,1159.1 867.5,1158.0 868.0,1158.2 868.5,1159.4 869.0,1159.3 869.5,1157.0 870.0,1157.8 870.5,1156.7 871.0,1158.9 871.5,1157.8 872.0,1160.1 872.5,1158.0 873.0,1158.8 873.5,1158.5 874.0,1158.9 874.5,1161.4 875.0,1159.1 875.5,1157.6 876.0,1157.8 876.5,1157.9 877.0,1161.1 877.5,1161.8 878.0,1156.5 878.5,1159.5 879.0,1160.4 879.5,1160.9 880.0,1159.6 880.5,1163.0 881.0,1159.4 881.5,1157.4 882.0,1162.2 882.5,1162.4 883.0,1161.9 883.5,1162.6 884.0,1163.0 884.5,1161.7 885.0,1159.2 885.5,1158.1 886.0,1164.3 886.5,1158.0 887.0,1161.4 887.5,1164.4 888.0,1163.3 888.5,1158.8 889.0,1162.5 889.5,1159.8 890.0,1158.6 890.5,1162.7 891.0,1163.4 891.5,1162.5 892.0,1163.5 892.5,1160.2 893.0,1161.2 893.5,1160.8 894.0,1160.7 894.5,1160.9 895.0,1161.9 895.5,1161.8 896.0,1161.5 896.5,1159.9 897.0,1161.1 897.5,1162.4 898.0,1164.1 898.5,1162.7 899.0,1163.6 899.5,1159.4 900.0,1162.4 900.5,1161.8 901.0,1163.0 901.5,1164.7 901.8,1162.1 902.0,1164.0 902.5,1165.0 903.0,1163.1 903.5,1165.7 904.0,1163.4 904.5,1160.8 905.0,1160.2 905.5,1163.3" stroke="#930E82" stroke-width="4"/>
</g>
<rect class="sp" x="163.55" y="246.5" width="739.1500000000001" height="944.0"/>
<g stroke="#000" fill="none">
<line x1="197.1" y1="1190.5" x2="197.1" y2="1198.1" stroke-width="2.4"/>
<line x1="230.7" y1="1190.5" x2="230.7" y2="1198.1" stroke-width="2.4"/>
<line x1="264.3" y1="1190.5" x2="264.3" y2="1204.0" stroke-width="3.2"/>
<line x1="297.9" y1="1190.5" x2="297.9" y2="1198.1" stroke-width="2.4"/>
<line x1="331.5" y1="1190.5" x2="331.5" y2="1198.1" stroke-width="2.4"/>
<line x1="365.1" y1="1190.5" x2="365.1" y2="1198.1" stroke-width="2.4"/>
<line x1="398.7" y1="1190.5" x2="398.7" y2="1204.0" stroke-width="3.2"/>
<line x1="432.3" y1="1190.5" x2="432.3" y2="1198.1" stroke-width="2.4"/>
<line x1="465.9" y1="1190.5" x2="465.9" y2="1198.1" stroke-width="2.4"/>
<line x1="499.5" y1="1190.5" x2="499.5" y2="1198.1" stroke-width="2.4"/>
<line x1="533.1" y1="1190.5" x2="533.1" y2="1204.0" stroke-width="3.2"/>
<line x1="566.7" y1="1190.5" x2="566.7" y2="1198.1" stroke-width="2.4"/>
<line x1="600.3" y1="1190.5" x2="600.3" y2="1198.1" stroke-width="2.4"/>
<line x1="633.9" y1="1190.5" x2="633.9" y2="1198.1" stroke-width="2.4"/>
<line x1="667.5" y1="1190.5" x2="667.5" y2="1204.0" stroke-width="3.2"/>
<line x1="701.1" y1="1190.5" x2="701.1" y2="1198.1" stroke-width="2.4"/>
<line x1="734.7" y1="1190.5" x2="734.7" y2="1198.1" stroke-width="2.4"/>
<line x1="768.3" y1="1190.5" x2="768.3" y2="1198.1" stroke-width="2.4"/>
<line x1="801.9" y1="1190.5" x2="801.9" y2="1204.0" stroke-width="3.2"/>
<line x1="835.5" y1="1190.5" x2="835.5" y2="1198.1" stroke-width="2.4"/>
<line x1="869.1" y1="1190.5" x2="869.1" y2="1198.1" stroke-width="2.4"/>
<line x1="902.7" y1="1190.5" x2="902.7" y2="1198.1" stroke-width="2.4"/>
<line x1="163.55" y1="246.5" x2="150.05" y2="246.5" stroke-width="3.2"/>
<line x1="163.55" y1="276.4" x2="156.0" y2="276.4" stroke-width="2.4"/>
<line x1="163.55" y1="306.2" x2="156.0" y2="306.2" stroke-width="2.4"/>
<line x1="163.55" y1="336.1" x2="156.0" y2="336.1" stroke-width="2.4"/>
<line x1="163.55" y1="366.0" x2="150.05" y2="366.0" stroke-width="3.2"/>
<line x1="163.55" y1="395.9" x2="156.0" y2="395.9" stroke-width="2.4"/>
<line x1="163.55" y1="425.7" x2="156.0" y2="425.7" stroke-width="2.4"/>
<line x1="163.55" y1="455.6" x2="156.0" y2="455.6" stroke-width="2.4"/>
<line x1="163.55" y1="485.5" x2="150.05" y2="485.5" stroke-width="3.2"/>
<line x1="163.55" y1="515.4" x2="156.0" y2="515.4" stroke-width="2.4"/>
<line x1="163.55" y1="545.2" x2="156.0" y2="545.2" stroke-width="2.4"/>
<line x1="163.55" y1="575.1" x2="156.0" y2="575.1" stroke-width="2.4"/>
<line x1="163.55" y1="605.0" x2="150.05" y2="605.0" stroke-width="3.2"/>
<line x1="163.55" y1="634.9" x2="156.0" y2="634.9" stroke-width="2.4"/>
<line x1="163.55" y1="664.7" x2="156.0" y2="664.7" stroke-width="2.4"/>
<line x1="163.55" y1="694.6" x2="156.0" y2="694.6" stroke-width="2.4"/>
<line x1="163.55" y1="724.5" x2="150.05" y2="724.5" stroke-width="3.2"/>
<line x1="163.55" y1="754.3" x2="156.0" y2="754.3" stroke-width="2.4"/>
<line x1="163.55" y1="784.2" x2="156.0" y2="784.2" stroke-width="2.4"/>
<line x1="163.55" y1="814.1" x2="156.0" y2="814.1" stroke-width="2.4"/>
<line x1="163.55" y1="844.0" x2="150.05" y2="844.0" stroke-width="3.2"/>
<line x1="163.55" y1="873.8" x2="156.0" y2="873.8" stroke-width="2.4"/>
<line x1="163.55" y1="903.7" x2="156.0" y2="903.7" stroke-width="2.4"/>
<line x1="163.55" y1="933.6" x2="156.0" y2="933.6" stroke-width="2.4"/>
<line x1="163.55" y1="963.5" x2="150.05" y2="963.5" stroke-width="3.2"/>
<line x1="163.55" y1="993.3" x2="156.0" y2="993.3" stroke-width="2.4"/>
<line x1="163.55" y1="1023.2" x2="156.0" y2="1023.2" stroke-width="2.4"/>
<line x1="163.55" y1="1053.1" x2="156.0" y2="1053.1" stroke-width="2.4"/>
<line x1="163.55" y1="1083.0" x2="150.05" y2="1083.0" stroke-width="3.2"/>
<line x1="163.55" y1="1112.8" x2="156.0" y2="1112.8" stroke-width="2.4"/>
<line x1="163.55" y1="1142.7" x2="156.0" y2="1142.7" stroke-width="2.4"/>
<line x1="163.55" y1="1172.6" x2="156.0" y2="1172.6" stroke-width="2.4"/>
</g>
<text class="tk" x="264.3" y="1245.6" text-anchor="middle">4200</text>
<text class="tk" x="398.7" y="1245.6" text-anchor="middle">4400</text>
<text class="tk" x="533.1" y="1245.6" text-anchor="middle">4600</text>
<text class="tk" x="667.5" y="1245.6" text-anchor="middle">4800</text>
<text class="tk" x="801.9" y="1245.6" text-anchor="middle">5000</text>
<text class="tk" x="136.4" y="260.2" text-anchor="end">4</text>
<text class="tk" x="136.4" y="379.7" text-anchor="end">2</text>
<text class="tk" x="136.4" y="499.2" text-anchor="end">0</text>
<text class="tk" x="136.4" y="618.7" text-anchor="end">−2</text>
<text class="tk" x="136.4" y="738.2" text-anchor="end">−4</text>
<text class="tk" x="136.4" y="857.7" text-anchor="end">−6</text>
<text class="tk" x="136.4" y="977.2" text-anchor="end">−8</text>
<text class="tk" x="136.4" y="1096.7" text-anchor="end">−10</text>
<text class="lb" x="318.3" y="1309.2">Rest Wavelength (</text>
<text transform="translate(705.6,1309.2) scale(0.83,1)" font-size="46.4px" style="font-family:'Liberation Serif','DejaVu Serif',serif">Å</text>
<text class="lb" x="733.8" y="1309.2">)</text>
<text class="lb" style="font-size:41.7px" transform="translate(32.3,984) rotate(-90)">Normalized F<tspan font-size="27px" dx="1.5" dy="6.5" font-family="'Liberation Serif','DejaVu Serif',serif" font-style="italic">λ</tspan><tspan dx="2.6" dy="-6.5"> + constant</tspan></text>
<text class="ep" x="905.8" y="360.0">0.6d</text>
<text class="ep" x="905.8" y="410.0">1.1d</text>
<text class="ep" x="905.8" y="500.7">1.4d</text>
<text class="ep" x="905.8" y="579.0">1.5d</text>
<text class="ep" x="905.8" y="646.7">1.5d</text>
<text class="ep" x="905.8" y="727.4">1.9d</text>
<text class="ep" x="905.8" y="807.4">2.1d</text>
<text class="ep" x="905.8" y="849.0">2.1d</text>
<text class="ep" x="905.8" y="926.4">2.5d</text>
<text class="ep" x="905.8" y="1017.4">3.2d</text>
<text class="ep" x="905.8" y="1049.0">4.3d</text>
<text class="ep" x="905.8" y="1122.4">5.2d</text>
<text class="ep" x="905.8" y="1177.4">6.5d</text>
<text class="anh" x="198.3" y="237.3" text-anchor="middle" style="fill:#30ACDB">H</text>
<text class="anh" x="359.1" y="237.3" text-anchor="middle" style="fill:#30ACDB">H</text>
<text class="anh" x="708.8" y="237.3" text-anchor="middle" style="fill:#30ACDB">H</text>
<text class="an" transform="translate(452.9,240.8) rotate(-45)" style="fill:#f58ea3">He</text>
<text class="an" transform="translate(495.7,238.5) rotate(-45)" style="fill:#f5b821">O III</text>
<text class="an" transform="translate(540.3,238.6) rotate(-45)" style="fill:#9b86f5">N V</text>
<text class="an" transform="translate(564,238.6) rotate(-45)" style="fill:#9b86f5">N III</text>
<text class="an" transform="translate(569.5,209) rotate(-45)" style="fill:#3dba4e">C III</text>
<text class="an" transform="translate(596,239.6) rotate(-45)" style="fill:#f58ea3">He II</text>
<rect x="72.65" y="2.4" width="921.35" height="143.5" rx="5.5" ry="5.5" fill="#fff" stroke="#d5d5d5" stroke-width="3.2"/>
<line x1="83.0" y1="26.9" x2="147.0" y2="26.9" stroke="#DC143C" stroke-width="4"/>
<text class="lg" x="169.0" y="38.2">SN2013fs</text>
<line x1="83.0" y1="71.9" x2="147.0" y2="71.9" stroke="#FF1493" stroke-width="4"/>
<text class="lg" x="169.0" y="83.2">SN2023ixf</text>
<line x1="83.0" y1="117.0" x2="147.0" y2="117.0" stroke="#8E0A84" stroke-width="4"/>
<text class="lg" x="169.0" y="128.3">SN2020pni</text>
<line x1="393.6" y1="26.9" x2="457.6" y2="26.9" stroke="#000" stroke-width="4"/>
<text class="lg" x="479.6" y="38.2">SN2022jox</text>
<line x1="392.9" y1="71.9" x2="458.4" y2="71.9" stroke="#6400A5" stroke-width="5.5"/>
<text class="lg" x="479.6" y="83.2">SN2018lab</text>
<line x1="393.6" y1="117.0" x2="457.6" y2="117.0" stroke="#000080" stroke-width="4"/>
<text class="lg" x="479.6" y="128.3">SN2017ahn</text>
<line x1="715.1" y1="26.9" x2="779.1" y2="26.9" stroke="#1268D8" stroke-width="4"/>
<text class="lg" x="801.1" y="38.2">SN2021yja</text>
<line x1="715.1" y1="71.9" x2="779.1" y2="71.9" stroke="#1A9080" stroke-width="4"/>
<text class="lg" x="801.1" y="83.2">SN2017gmr</text>
</svg></body></html>
